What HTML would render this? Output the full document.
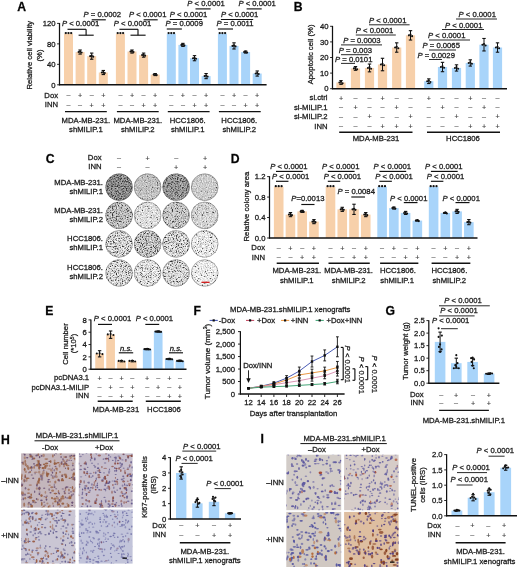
<!DOCTYPE html>
<html><head><meta charset="utf-8"><title>Figure</title>
<style>
html,body{margin:0;padding:0;background:#fff;}
svg{display:block;}
text{font-family:"Liberation Sans",Arial,Helvetica,sans-serif;stroke:#1a1a1a;stroke-width:0.28px;}
text.sg{stroke:#444;stroke-width:0.12px;fill:#3a3a3a;}
</style></head>
<body>
<svg width="520" height="567" viewBox="0 0 520 567" fill="#222">
<defs><filter id="soft" x="-5%" y="-5%" width="110%" height="110%"><feGaussianBlur stdDeviation="0.7"/></filter><filter id="grain0" x="0" y="0" width="100%" height="100%" color-interpolation-filters="sRGB"><feTurbulence type="fractalNoise" baseFrequency="0.35" numOctaves="2" seed="5" result="n"/><feColorMatrix in="n" type="matrix" values="0 0 0 0 0  0 0 0 0 0  0 0 0 0 0  -0.9 0 0 0 0.52"/><feComposite in2="SourceGraphic" operator="in"/></filter><filter id="grain1" x="0" y="0" width="100%" height="100%" color-interpolation-filters="sRGB"><feTurbulence type="fractalNoise" baseFrequency="0.35" numOctaves="2" seed="18" result="n"/><feColorMatrix in="n" type="matrix" values="0 0 0 0 0  0 0 0 0 0  0 0 0 0 0  -0.9 0 0 0 0.52"/><feComposite in2="SourceGraphic" operator="in"/></filter><filter id="grain2" x="0" y="0" width="100%" height="100%" color-interpolation-filters="sRGB"><feTurbulence type="fractalNoise" baseFrequency="0.35" numOctaves="2" seed="31" result="n"/><feColorMatrix in="n" type="matrix" values="0 0 0 0 0  0 0 0 0 0  0 0 0 0 0  -0.9 0 0 0 0.52"/><feComposite in2="SourceGraphic" operator="in"/></filter><filter id="pl0" x="0" y="0" width="100%" height="100%" color-interpolation-filters="sRGB"><feTurbulence type="fractalNoise" baseFrequency="0.8" numOctaves="2" seed="11" result="n"/><feComponentTransfer in="n" result="w"><feFuncR type="linear" slope="-5.0" intercept="2.600"/><feFuncB type="linear" slope="0" intercept="0"/><feFuncA type="linear" slope="0" intercept="1"/></feComponentTransfer><feColorMatrix in="w" type="matrix" values="-0.340 0.5 0 0 0.350  -0.340 0.5 0 0 0.350  -0.340 0.5 0 0 0.350  0 0 0 0 1" result="g"/><feGaussianBlur in="g" stdDeviation="0.42" result="gb"/><feComposite in="gb" in2="SourceGraphic" operator="in"/></filter><filter id="pl1" x="0" y="0" width="100%" height="100%" color-interpolation-filters="sRGB"><feTurbulence type="fractalNoise" baseFrequency="0.8" numOctaves="2" seed="14" result="n"/><feComponentTransfer in="n" result="w"><feFuncR type="linear" slope="-5.0" intercept="1.800"/><feFuncB type="linear" slope="0" intercept="0"/><feFuncA type="linear" slope="0" intercept="1"/></feComponentTransfer><feColorMatrix in="w" type="matrix" values="-0.500 0.5 0 0 0.510  -0.500 0.5 0 0 0.510  -0.500 0.5 0 0 0.510  0 0 0 0 1" result="g"/><feGaussianBlur in="g" stdDeviation="0.42" result="gb"/><feComposite in="gb" in2="SourceGraphic" operator="in"/></filter><filter id="pl2" x="0" y="0" width="100%" height="100%" color-interpolation-filters="sRGB"><feTurbulence type="fractalNoise" baseFrequency="0.8" numOctaves="2" seed="17" result="n"/><feComponentTransfer in="n" result="w"><feFuncR type="linear" slope="-5.0" intercept="2.500"/><feFuncB type="linear" slope="0" intercept="0"/><feFuncA type="linear" slope="0" intercept="1"/></feComponentTransfer><feColorMatrix in="w" type="matrix" values="-0.380 0.5 0 0 0.390  -0.380 0.5 0 0 0.390  -0.380 0.5 0 0 0.390  0 0 0 0 1" result="g"/><feGaussianBlur in="g" stdDeviation="0.42" result="gb"/><feComposite in="gb" in2="SourceGraphic" operator="in"/></filter><filter id="pl3" x="0" y="0" width="100%" height="100%" color-interpolation-filters="sRGB"><feTurbulence type="fractalNoise" baseFrequency="0.8" numOctaves="2" seed="20" result="n"/><feComponentTransfer in="n" result="w"><feFuncR type="linear" slope="-5.0" intercept="1.600"/><feFuncB type="linear" slope="0" intercept="0"/><feFuncA type="linear" slope="0" intercept="1"/></feComponentTransfer><feColorMatrix in="w" type="matrix" values="-0.540 0.5 0 0 0.550  -0.540 0.5 0 0 0.550  -0.540 0.5 0 0 0.550  0 0 0 0 1" result="g"/><feGaussianBlur in="g" stdDeviation="0.42" result="gb"/><feComposite in="gb" in2="SourceGraphic" operator="in"/></filter><filter id="pl4" x="0" y="0" width="100%" height="100%" color-interpolation-filters="sRGB"><feTurbulence type="fractalNoise" baseFrequency="0.8" numOctaves="2" seed="23" result="n"/><feComponentTransfer in="n" result="w"><feFuncR type="linear" slope="-5.0" intercept="2.350"/><feFuncB type="linear" slope="0" intercept="0"/><feFuncA type="linear" slope="0" intercept="1"/></feComponentTransfer><feColorMatrix in="w" type="matrix" values="-0.520 0.5 0 0 0.530  -0.520 0.5 0 0 0.530  -0.520 0.5 0 0 0.530  0 0 0 0 1" result="g"/><feGaussianBlur in="g" stdDeviation="0.42" result="gb"/><feComposite in="gb" in2="SourceGraphic" operator="in"/></filter><filter id="pl5" x="0" y="0" width="100%" height="100%" color-interpolation-filters="sRGB"><feTurbulence type="fractalNoise" baseFrequency="0.8" numOctaves="2" seed="26" result="n"/><feComponentTransfer in="n" result="w"><feFuncR type="linear" slope="-5.0" intercept="1.900"/><feFuncB type="linear" slope="0" intercept="0"/><feFuncA type="linear" slope="0" intercept="1"/></feComponentTransfer><feColorMatrix in="w" type="matrix" values="-0.620 0.5 0 0 0.630  -0.620 0.5 0 0 0.630  -0.620 0.5 0 0 0.630  0 0 0 0 1" result="g"/><feGaussianBlur in="g" stdDeviation="0.42" result="gb"/><feComposite in="gb" in2="SourceGraphic" operator="in"/></filter><filter id="pl6" x="0" y="0" width="100%" height="100%" color-interpolation-filters="sRGB"><feTurbulence type="fractalNoise" baseFrequency="0.8" numOctaves="2" seed="29" result="n"/><feComponentTransfer in="n" result="w"><feFuncR type="linear" slope="-5.0" intercept="2.250"/><feFuncB type="linear" slope="0" intercept="0"/><feFuncA type="linear" slope="0" intercept="1"/></feComponentTransfer><feColorMatrix in="w" type="matrix" values="-0.540 0.5 0 0 0.550  -0.540 0.5 0 0 0.550  -0.540 0.5 0 0 0.550  0 0 0 0 1" result="g"/><feGaussianBlur in="g" stdDeviation="0.42" result="gb"/><feComposite in="gb" in2="SourceGraphic" operator="in"/></filter><filter id="pl7" x="0" y="0" width="100%" height="100%" color-interpolation-filters="sRGB"><feTurbulence type="fractalNoise" baseFrequency="0.8" numOctaves="2" seed="32" result="n"/><feComponentTransfer in="n" result="w"><feFuncR type="linear" slope="-5.0" intercept="2.000"/><feFuncB type="linear" slope="0" intercept="0"/><feFuncA type="linear" slope="0" intercept="1"/></feComponentTransfer><feColorMatrix in="w" type="matrix" values="-0.580 0.5 0 0 0.590  -0.580 0.5 0 0 0.590  -0.580 0.5 0 0 0.590  0 0 0 0 1" result="g"/><feGaussianBlur in="g" stdDeviation="0.42" result="gb"/><feComposite in="gb" in2="SourceGraphic" operator="in"/></filter><filter id="pl8" x="0" y="0" width="100%" height="100%" color-interpolation-filters="sRGB"><feTurbulence type="fractalNoise" baseFrequency="0.8" numOctaves="2" seed="35" result="n"/><feComponentTransfer in="n" result="w"><feFuncR type="linear" slope="-5.0" intercept="2.450"/><feFuncB type="linear" slope="0" intercept="0"/><feFuncA type="linear" slope="0" intercept="1"/></feComponentTransfer><feColorMatrix in="w" type="matrix" values="-0.620 0.5 0 0 0.630  -0.620 0.5 0 0 0.630  -0.620 0.5 0 0 0.630  0 0 0 0 1" result="g"/><feGaussianBlur in="g" stdDeviation="0.42" result="gb"/><feComposite in="gb" in2="SourceGraphic" operator="in"/></filter><filter id="pl9" x="0" y="0" width="100%" height="100%" color-interpolation-filters="sRGB"><feTurbulence type="fractalNoise" baseFrequency="0.8" numOctaves="2" seed="38" result="n"/><feComponentTransfer in="n" result="w"><feFuncR type="linear" slope="-5.0" intercept="2.500"/><feFuncB type="linear" slope="0" intercept="0"/><feFuncA type="linear" slope="0" intercept="1"/></feComponentTransfer><feColorMatrix in="w" type="matrix" values="-0.560 0.5 0 0 0.570  -0.560 0.5 0 0 0.570  -0.560 0.5 0 0 0.570  0 0 0 0 1" result="g"/><feGaussianBlur in="g" stdDeviation="0.42" result="gb"/><feComposite in="gb" in2="SourceGraphic" operator="in"/></filter><filter id="pl10" x="0" y="0" width="100%" height="100%" color-interpolation-filters="sRGB"><feTurbulence type="fractalNoise" baseFrequency="0.8" numOctaves="2" seed="41" result="n"/><feComponentTransfer in="n" result="w"><feFuncR type="linear" slope="-5.0" intercept="2.350"/><feFuncB type="linear" slope="0" intercept="0"/><feFuncA type="linear" slope="0" intercept="1"/></feComponentTransfer><feColorMatrix in="w" type="matrix" values="-0.620 0.5 0 0 0.630  -0.620 0.5 0 0 0.630  -0.620 0.5 0 0 0.630  0 0 0 0 1" result="g"/><feGaussianBlur in="g" stdDeviation="0.42" result="gb"/><feComposite in="gb" in2="SourceGraphic" operator="in"/></filter><filter id="pl11" x="0" y="0" width="100%" height="100%" color-interpolation-filters="sRGB"><feTurbulence type="fractalNoise" baseFrequency="0.8" numOctaves="2" seed="44" result="n"/><feComponentTransfer in="n" result="w"><feFuncR type="linear" slope="-5.0" intercept="2.100"/><feFuncB type="linear" slope="0" intercept="0"/><feFuncA type="linear" slope="0" intercept="1"/></feComponentTransfer><feColorMatrix in="w" type="matrix" values="-0.660 0.5 0 0 0.670  -0.660 0.5 0 0 0.670  -0.660 0.5 0 0 0.670  0 0 0 0 1" result="g"/><feGaussianBlur in="g" stdDeviation="0.42" result="gb"/><feComposite in="gb" in2="SourceGraphic" operator="in"/></filter><filter id="pl12" x="0" y="0" width="100%" height="100%" color-interpolation-filters="sRGB"><feTurbulence type="fractalNoise" baseFrequency="0.8" numOctaves="2" seed="47" result="n"/><feComponentTransfer in="n" result="w"><feFuncR type="linear" slope="-5.0" intercept="2.350"/><feFuncB type="linear" slope="0" intercept="0"/><feFuncA type="linear" slope="0" intercept="1"/></feComponentTransfer><feColorMatrix in="w" type="matrix" values="-0.620 0.5 0 0 0.630  -0.620 0.5 0 0 0.630  -0.620 0.5 0 0 0.630  0 0 0 0 1" result="g"/><feGaussianBlur in="g" stdDeviation="0.42" result="gb"/><feComposite in="gb" in2="SourceGraphic" operator="in"/></filter><filter id="pl13" x="0" y="0" width="100%" height="100%" color-interpolation-filters="sRGB"><feTurbulence type="fractalNoise" baseFrequency="0.8" numOctaves="2" seed="50" result="n"/><feComponentTransfer in="n" result="w"><feFuncR type="linear" slope="-5.0" intercept="2.200"/><feFuncB type="linear" slope="0" intercept="0"/><feFuncA type="linear" slope="0" intercept="1"/></feComponentTransfer><feColorMatrix in="w" type="matrix" values="-0.640 0.5 0 0 0.650  -0.640 0.5 0 0 0.650  -0.640 0.5 0 0 0.650  0 0 0 0 1" result="g"/><feGaussianBlur in="g" stdDeviation="0.42" result="gb"/><feComposite in="gb" in2="SourceGraphic" operator="in"/></filter><filter id="pl14" x="0" y="0" width="100%" height="100%" color-interpolation-filters="sRGB"><feTurbulence type="fractalNoise" baseFrequency="0.8" numOctaves="2" seed="53" result="n"/><feComponentTransfer in="n" result="w"><feFuncR type="linear" slope="-5.0" intercept="2.300"/><feFuncB type="linear" slope="0" intercept="0"/><feFuncA type="linear" slope="0" intercept="1"/></feComponentTransfer><feColorMatrix in="w" type="matrix" values="-0.610 0.5 0 0 0.620  -0.610 0.5 0 0 0.620  -0.610 0.5 0 0 0.620  0 0 0 0 1" result="g"/><feGaussianBlur in="g" stdDeviation="0.42" result="gb"/><feComposite in="gb" in2="SourceGraphic" operator="in"/></filter><filter id="pl15" x="0" y="0" width="100%" height="100%" color-interpolation-filters="sRGB"><feTurbulence type="fractalNoise" baseFrequency="0.8" numOctaves="2" seed="56" result="n"/><feComponentTransfer in="n" result="w"><feFuncR type="linear" slope="-5.0" intercept="2.000"/><feFuncB type="linear" slope="0" intercept="0"/><feFuncA type="linear" slope="0" intercept="1"/></feComponentTransfer><feColorMatrix in="w" type="matrix" values="-0.670 0.5 0 0 0.680  -0.670 0.5 0 0 0.680  -0.670 0.5 0 0 0.680  0 0 0 0 1" result="g"/><feGaussianBlur in="g" stdDeviation="0.42" result="gb"/><feComposite in="gb" in2="SourceGraphic" operator="in"/></filter></defs>
<rect width="520" height="567" fill="#fff"/>
<text x="17.20" y="11.00" font-size="12.2" font-weight="bold" fill="#000">A</text>
<text x="32.00" y="55.20" font-size="7.7" text-anchor="middle" transform="rotate(-90 32.00 55.20)">Relative cell viability</text>
<text x="41.60" y="55.50" font-size="7.7" text-anchor="middle" transform="rotate(-90 41.60 55.50)">(%)</text>
<rect x="64.00" y="33.63" width="9.00" height="51.17" fill="#F7D0AA"/>
<circle cx="65.80" cy="33.03" r="1.15" fill="#111"/>
<circle cx="68.50" cy="33.03" r="1.15" fill="#111"/>
<circle cx="71.20" cy="33.03" r="1.15" fill="#111"/>
<rect x="75.60" y="52.05" width="9.00" height="32.75" fill="#F7D0AA"/>
<line x1="80.10" y1="50.01" x2="80.10" y2="54.10" stroke="#111" stroke-width="1.0"/>
<line x1="78.40" y1="50.01" x2="81.80" y2="50.01" stroke="#111" stroke-width="1.1"/>
<line x1="78.40" y1="54.10" x2="81.80" y2="54.10" stroke="#111" stroke-width="1.1"/>
<circle cx="78.60" cy="52.05" r="1.05" fill="#111"/>
<circle cx="81.60" cy="52.56" r="1.05" fill="#111"/>
<circle cx="80.10" cy="51.54" r="1.05" fill="#111"/>
<rect x="87.20" y="56.15" width="9.00" height="28.65" fill="#F7D0AA"/>
<line x1="91.70" y1="53.08" x2="91.70" y2="59.22" stroke="#111" stroke-width="1.0"/>
<line x1="90.00" y1="53.08" x2="93.40" y2="53.08" stroke="#111" stroke-width="1.1"/>
<line x1="90.00" y1="59.22" x2="93.40" y2="59.22" stroke="#111" stroke-width="1.1"/>
<circle cx="90.20" cy="56.15" r="1.05" fill="#111"/>
<circle cx="93.20" cy="56.66" r="1.05" fill="#111"/>
<circle cx="91.70" cy="55.63" r="1.05" fill="#111"/>
<rect x="98.80" y="72.52" width="9.00" height="12.28" fill="#F7D0AA"/>
<line x1="103.30" y1="70.47" x2="103.30" y2="74.57" stroke="#111" stroke-width="1.0"/>
<line x1="101.60" y1="70.47" x2="105.00" y2="70.47" stroke="#111" stroke-width="1.1"/>
<line x1="101.60" y1="74.57" x2="105.00" y2="74.57" stroke="#111" stroke-width="1.1"/>
<circle cx="101.80" cy="72.52" r="1.05" fill="#111"/>
<circle cx="104.80" cy="73.03" r="1.05" fill="#111"/>
<circle cx="103.30" cy="72.01" r="1.05" fill="#111"/>
<text x="68.50" y="97.21" font-size="7.2" text-anchor="middle" class="sg">–</text>
<text x="80.10" y="98.07" font-size="7.2" text-anchor="middle" class="sg">+</text>
<text x="91.70" y="97.21" font-size="7.2" text-anchor="middle" class="sg">–</text>
<text x="103.30" y="98.07" font-size="7.2" text-anchor="middle" class="sg">+</text>
<text x="68.50" y="106.81" font-size="7.2" text-anchor="middle" class="sg">–</text>
<text x="80.10" y="106.81" font-size="7.2" text-anchor="middle" class="sg">–</text>
<text x="91.70" y="107.67" font-size="7.2" text-anchor="middle" class="sg">+</text>
<text x="103.30" y="107.67" font-size="7.2" text-anchor="middle" class="sg">+</text>
<line x1="65.00" y1="111.60" x2="106.80" y2="111.60" stroke="#111" stroke-width="1.2"/>
<rect x="115.90" y="33.63" width="9.00" height="51.17" fill="#F7D0AA"/>
<circle cx="117.70" cy="33.03" r="1.15" fill="#111"/>
<circle cx="120.40" cy="33.03" r="1.15" fill="#111"/>
<circle cx="123.10" cy="33.03" r="1.15" fill="#111"/>
<rect x="127.50" y="51.54" width="9.00" height="33.26" fill="#F7D0AA"/>
<line x1="132.00" y1="50.01" x2="132.00" y2="53.08" stroke="#111" stroke-width="1.0"/>
<line x1="130.30" y1="50.01" x2="133.70" y2="50.01" stroke="#111" stroke-width="1.1"/>
<line x1="130.30" y1="53.08" x2="133.70" y2="53.08" stroke="#111" stroke-width="1.1"/>
<circle cx="130.50" cy="51.54" r="1.05" fill="#111"/>
<circle cx="133.50" cy="52.05" r="1.05" fill="#111"/>
<circle cx="132.00" cy="51.03" r="1.05" fill="#111"/>
<rect x="139.10" y="55.12" width="9.00" height="29.68" fill="#F7D0AA"/>
<line x1="143.60" y1="53.08" x2="143.60" y2="57.17" stroke="#111" stroke-width="1.0"/>
<line x1="141.90" y1="53.08" x2="145.30" y2="53.08" stroke="#111" stroke-width="1.1"/>
<line x1="141.90" y1="57.17" x2="145.30" y2="57.17" stroke="#111" stroke-width="1.1"/>
<circle cx="142.10" cy="55.12" r="1.05" fill="#111"/>
<circle cx="145.10" cy="55.63" r="1.05" fill="#111"/>
<circle cx="143.60" cy="54.61" r="1.05" fill="#111"/>
<rect x="150.70" y="74.57" width="9.00" height="10.23" fill="#F7D0AA"/>
<line x1="155.20" y1="73.54" x2="155.20" y2="75.59" stroke="#111" stroke-width="1.0"/>
<line x1="153.50" y1="73.54" x2="156.90" y2="73.54" stroke="#111" stroke-width="1.1"/>
<line x1="153.50" y1="75.59" x2="156.90" y2="75.59" stroke="#111" stroke-width="1.1"/>
<circle cx="153.70" cy="74.57" r="1.05" fill="#111"/>
<circle cx="156.70" cy="75.08" r="1.05" fill="#111"/>
<circle cx="155.20" cy="74.05" r="1.05" fill="#111"/>
<text x="120.40" y="97.21" font-size="7.2" text-anchor="middle" class="sg">–</text>
<text x="132.00" y="98.07" font-size="7.2" text-anchor="middle" class="sg">+</text>
<text x="143.60" y="97.21" font-size="7.2" text-anchor="middle" class="sg">–</text>
<text x="155.20" y="98.07" font-size="7.2" text-anchor="middle" class="sg">+</text>
<text x="120.40" y="106.81" font-size="7.2" text-anchor="middle" class="sg">–</text>
<text x="132.00" y="106.81" font-size="7.2" text-anchor="middle" class="sg">–</text>
<text x="143.60" y="107.67" font-size="7.2" text-anchor="middle" class="sg">+</text>
<text x="155.20" y="107.67" font-size="7.2" text-anchor="middle" class="sg">+</text>
<line x1="116.90" y1="111.60" x2="158.70" y2="111.60" stroke="#111" stroke-width="1.2"/>
<rect x="166.80" y="33.63" width="9.00" height="51.17" fill="#A8D4FA"/>
<circle cx="168.60" cy="33.03" r="1.15" fill="#111"/>
<circle cx="171.30" cy="33.03" r="1.15" fill="#111"/>
<circle cx="174.00" cy="33.03" r="1.15" fill="#111"/>
<rect x="178.40" y="44.89" width="9.00" height="39.91" fill="#A8D4FA"/>
<line x1="182.90" y1="43.35" x2="182.90" y2="46.42" stroke="#111" stroke-width="1.0"/>
<line x1="181.20" y1="43.35" x2="184.60" y2="43.35" stroke="#111" stroke-width="1.1"/>
<line x1="181.20" y1="46.42" x2="184.60" y2="46.42" stroke="#111" stroke-width="1.1"/>
<circle cx="181.40" cy="44.89" r="1.05" fill="#111"/>
<circle cx="184.40" cy="45.40" r="1.05" fill="#111"/>
<circle cx="182.90" cy="44.38" r="1.05" fill="#111"/>
<rect x="190.00" y="58.19" width="9.00" height="26.61" fill="#A8D4FA"/>
<line x1="194.50" y1="55.63" x2="194.50" y2="60.75" stroke="#111" stroke-width="1.0"/>
<line x1="192.80" y1="55.63" x2="196.20" y2="55.63" stroke="#111" stroke-width="1.1"/>
<line x1="192.80" y1="60.75" x2="196.20" y2="60.75" stroke="#111" stroke-width="1.1"/>
<circle cx="193.00" cy="58.19" r="1.05" fill="#111"/>
<circle cx="196.00" cy="58.70" r="1.05" fill="#111"/>
<circle cx="194.50" cy="57.68" r="1.05" fill="#111"/>
<rect x="201.60" y="76.10" width="9.00" height="8.70" fill="#A8D4FA"/>
<line x1="206.10" y1="73.54" x2="206.10" y2="78.66" stroke="#111" stroke-width="1.0"/>
<line x1="204.40" y1="73.54" x2="207.80" y2="73.54" stroke="#111" stroke-width="1.1"/>
<line x1="204.40" y1="78.66" x2="207.80" y2="78.66" stroke="#111" stroke-width="1.1"/>
<circle cx="204.60" cy="76.10" r="1.05" fill="#111"/>
<circle cx="207.60" cy="76.61" r="1.05" fill="#111"/>
<circle cx="206.10" cy="75.59" r="1.05" fill="#111"/>
<text x="171.30" y="97.21" font-size="7.2" text-anchor="middle" class="sg">–</text>
<text x="182.90" y="98.07" font-size="7.2" text-anchor="middle" class="sg">+</text>
<text x="194.50" y="97.21" font-size="7.2" text-anchor="middle" class="sg">–</text>
<text x="206.10" y="98.07" font-size="7.2" text-anchor="middle" class="sg">+</text>
<text x="171.30" y="106.81" font-size="7.2" text-anchor="middle" class="sg">–</text>
<text x="182.90" y="106.81" font-size="7.2" text-anchor="middle" class="sg">–</text>
<text x="194.50" y="107.67" font-size="7.2" text-anchor="middle" class="sg">+</text>
<text x="206.10" y="107.67" font-size="7.2" text-anchor="middle" class="sg">+</text>
<line x1="167.80" y1="111.60" x2="209.60" y2="111.60" stroke="#111" stroke-width="1.2"/>
<rect x="217.90" y="33.63" width="9.00" height="51.17" fill="#A8D4FA"/>
<circle cx="219.70" cy="33.03" r="1.15" fill="#111"/>
<circle cx="222.40" cy="33.03" r="1.15" fill="#111"/>
<circle cx="225.10" cy="33.03" r="1.15" fill="#111"/>
<rect x="229.50" y="45.91" width="9.00" height="38.89" fill="#A8D4FA"/>
<line x1="234.00" y1="42.84" x2="234.00" y2="48.98" stroke="#111" stroke-width="1.0"/>
<line x1="232.30" y1="42.84" x2="235.70" y2="42.84" stroke="#111" stroke-width="1.1"/>
<line x1="232.30" y1="48.98" x2="235.70" y2="48.98" stroke="#111" stroke-width="1.1"/>
<circle cx="232.50" cy="45.91" r="1.05" fill="#111"/>
<circle cx="235.50" cy="46.42" r="1.05" fill="#111"/>
<circle cx="234.00" cy="45.40" r="1.05" fill="#111"/>
<rect x="241.10" y="52.05" width="9.00" height="32.75" fill="#A8D4FA"/>
<line x1="245.60" y1="51.03" x2="245.60" y2="53.08" stroke="#111" stroke-width="1.0"/>
<line x1="243.90" y1="51.03" x2="247.30" y2="51.03" stroke="#111" stroke-width="1.1"/>
<line x1="243.90" y1="53.08" x2="247.30" y2="53.08" stroke="#111" stroke-width="1.1"/>
<circle cx="244.10" cy="52.05" r="1.05" fill="#111"/>
<circle cx="247.10" cy="52.56" r="1.05" fill="#111"/>
<circle cx="245.60" cy="51.54" r="1.05" fill="#111"/>
<rect x="252.70" y="73.54" width="9.00" height="11.26" fill="#A8D4FA"/>
<line x1="257.20" y1="70.98" x2="257.20" y2="76.10" stroke="#111" stroke-width="1.0"/>
<line x1="255.50" y1="70.98" x2="258.90" y2="70.98" stroke="#111" stroke-width="1.1"/>
<line x1="255.50" y1="76.10" x2="258.90" y2="76.10" stroke="#111" stroke-width="1.1"/>
<circle cx="255.70" cy="73.54" r="1.05" fill="#111"/>
<circle cx="258.70" cy="74.05" r="1.05" fill="#111"/>
<circle cx="257.20" cy="73.03" r="1.05" fill="#111"/>
<text x="222.40" y="97.21" font-size="7.2" text-anchor="middle" class="sg">–</text>
<text x="234.00" y="98.07" font-size="7.2" text-anchor="middle" class="sg">+</text>
<text x="245.60" y="97.21" font-size="7.2" text-anchor="middle" class="sg">–</text>
<text x="257.20" y="98.07" font-size="7.2" text-anchor="middle" class="sg">+</text>
<text x="222.40" y="106.81" font-size="7.2" text-anchor="middle" class="sg">–</text>
<text x="234.00" y="106.81" font-size="7.2" text-anchor="middle" class="sg">–</text>
<text x="245.60" y="107.67" font-size="7.2" text-anchor="middle" class="sg">+</text>
<text x="257.20" y="107.67" font-size="7.2" text-anchor="middle" class="sg">+</text>
<line x1="218.90" y1="111.60" x2="260.70" y2="111.60" stroke="#111" stroke-width="1.2"/>
<line x1="59.50" y1="23.00" x2="59.50" y2="85.30" stroke="#111" stroke-width="1.25"/>
<line x1="58.90" y1="84.80" x2="266.60" y2="84.80" stroke="#111" stroke-width="1.5"/>
<line x1="57.10" y1="84.80" x2="59.50" y2="84.80" stroke="#111" stroke-width="0.9"/>
<text x="55.50" y="87.57" font-size="7.7" text-anchor="end">0</text>
<line x1="57.10" y1="64.33" x2="59.50" y2="64.33" stroke="#111" stroke-width="0.9"/>
<text x="55.50" y="67.11" font-size="7.7" text-anchor="end">40</text>
<line x1="57.10" y1="43.87" x2="59.50" y2="43.87" stroke="#111" stroke-width="0.9"/>
<text x="55.50" y="46.64" font-size="7.7" text-anchor="end">80</text>
<line x1="57.10" y1="23.40" x2="59.50" y2="23.40" stroke="#111" stroke-width="0.9"/>
<text x="55.50" y="26.17" font-size="7.7" text-anchor="end">120</text>
<text x="58.00" y="97.60" font-size="7.7" text-anchor="end">Dox</text>
<text x="58.00" y="107.20" font-size="7.7" text-anchor="end">INN</text>
<text x="85.90" y="123.00" font-size="7.7" text-anchor="middle">MDA-MB-231.</text>
<text x="85.90" y="132.40" font-size="7.7" text-anchor="middle">shMILIP.1</text>
<text x="137.80" y="123.00" font-size="7.7" text-anchor="middle">MDA-MB-231.</text>
<text x="137.80" y="132.40" font-size="7.7" text-anchor="middle">shMILIP.2</text>
<text x="187.70" y="123.00" font-size="7.7" text-anchor="middle">HCC1806.</text>
<text x="187.70" y="132.40" font-size="7.7" text-anchor="middle">shMILIP.1</text>
<text x="239.30" y="123.00" font-size="7.7" text-anchor="middle">HCC1806.</text>
<text x="239.30" y="132.40" font-size="7.7" text-anchor="middle">shMILIP.2</text>
<line x1="67.50" y1="29.30" x2="86.10" y2="29.30" stroke="#111" stroke-width="1.15"/>
<line x1="86.10" y1="29.30" x2="86.10" y2="35.20" stroke="#111" stroke-width="1.15"/>
<line x1="78.60" y1="35.20" x2="93.70" y2="35.20" stroke="#111" stroke-width="1.15"/>
<text x="61.90" y="26.40" font-size="7.7"><tspan font-style="italic">P</tspan> &lt; 0.0001</text>
<line x1="91.70" y1="19.80" x2="105.80" y2="19.80" stroke="#111" stroke-width="1.15"/>
<line x1="119.40" y1="29.30" x2="138.00" y2="29.30" stroke="#111" stroke-width="1.15"/>
<line x1="138.00" y1="29.30" x2="138.00" y2="35.20" stroke="#111" stroke-width="1.15"/>
<line x1="130.50" y1="35.20" x2="145.60" y2="35.20" stroke="#111" stroke-width="1.15"/>
<text x="113.80" y="26.40" font-size="7.7"><tspan font-style="italic">P</tspan> &lt; 0.0001</text>
<line x1="143.60" y1="19.80" x2="157.70" y2="19.80" stroke="#111" stroke-width="1.15"/>
<text x="83.60" y="16.80" font-size="7.7"><tspan font-style="italic">P</tspan> = 0.0002</text>
<text x="129.00" y="16.80" font-size="7.7"><tspan font-style="italic">P</tspan> &lt; 0.0001</text>
<text x="165.50" y="26.40" font-size="7.7"><tspan font-style="italic">P</tspan> = 0.0009</text>
<line x1="166.80" y1="29.00" x2="181.90" y2="29.00" stroke="#111" stroke-width="1.15"/>
<text x="169.80" y="16.50" font-size="7.7"><tspan font-style="italic">P</tspan> &lt; 0.0001</text>
<line x1="169.80" y1="19.50" x2="202.10" y2="19.50" stroke="#111" stroke-width="1.15"/>
<text x="187.30" y="6.30" font-size="7.7"><tspan font-style="italic">P</tspan> &lt; 0.0001</text>
<line x1="195.50" y1="8.90" x2="210.60" y2="8.90" stroke="#111" stroke-width="1.15"/>
<text x="216.60" y="26.40" font-size="7.7"><tspan font-style="italic">P</tspan> = 0.0011</text>
<line x1="217.90" y1="29.00" x2="233.00" y2="29.00" stroke="#111" stroke-width="1.15"/>
<text x="220.90" y="16.50" font-size="7.7"><tspan font-style="italic">P</tspan> &lt; 0.0001</text>
<line x1="220.90" y1="19.50" x2="253.20" y2="19.50" stroke="#111" stroke-width="1.15"/>
<text x="238.40" y="6.30" font-size="7.7"><tspan font-style="italic">P</tspan> &lt; 0.0001</text>
<line x1="246.60" y1="8.90" x2="261.70" y2="8.90" stroke="#111" stroke-width="1.15"/>
<text x="293.70" y="11.20" font-size="12.2" font-weight="bold" fill="#000">B</text>
<text x="313.20" y="54.40" font-size="7.7" text-anchor="middle" transform="rotate(-90 313.20 54.40)">Apoptotic cell (%)</text>
<rect x="336.40" y="82.46" width="9.20" height="6.24" fill="#F7D0AA"/>
<line x1="341.00" y1="80.59" x2="341.00" y2="84.33" stroke="#111" stroke-width="1.0"/>
<line x1="339.30" y1="80.59" x2="342.70" y2="80.59" stroke="#111" stroke-width="1.1"/>
<line x1="339.30" y1="84.33" x2="342.70" y2="84.33" stroke="#111" stroke-width="1.1"/>
<circle cx="339.40" cy="82.46" r="1.05" fill="#111"/>
<circle cx="342.60" cy="83.24" r="1.05" fill="#111"/>
<circle cx="341.00" cy="81.68" r="1.05" fill="#111"/>
<rect x="424.20" y="81.21" width="9.20" height="7.49" fill="#A8D4FA"/>
<line x1="428.80" y1="78.87" x2="428.80" y2="83.55" stroke="#111" stroke-width="1.0"/>
<line x1="427.10" y1="78.87" x2="430.50" y2="78.87" stroke="#111" stroke-width="1.1"/>
<line x1="427.10" y1="83.55" x2="430.50" y2="83.55" stroke="#111" stroke-width="1.1"/>
<circle cx="427.20" cy="81.21" r="1.05" fill="#111"/>
<circle cx="430.40" cy="81.99" r="1.05" fill="#111"/>
<circle cx="428.80" cy="80.43" r="1.05" fill="#111"/>
<rect x="350.90" y="68.42" width="9.20" height="20.28" fill="#F7D0AA"/>
<line x1="355.50" y1="66.55" x2="355.50" y2="70.29" stroke="#111" stroke-width="1.0"/>
<line x1="353.80" y1="66.55" x2="357.20" y2="66.55" stroke="#111" stroke-width="1.1"/>
<line x1="353.80" y1="70.29" x2="357.20" y2="70.29" stroke="#111" stroke-width="1.1"/>
<circle cx="353.90" cy="68.42" r="1.05" fill="#111"/>
<circle cx="357.10" cy="69.20" r="1.05" fill="#111"/>
<circle cx="355.50" cy="67.64" r="1.05" fill="#111"/>
<rect x="437.90" y="67.02" width="9.20" height="21.68" fill="#A8D4FA"/>
<line x1="442.50" y1="62.34" x2="442.50" y2="71.70" stroke="#111" stroke-width="1.0"/>
<line x1="440.80" y1="62.34" x2="444.20" y2="62.34" stroke="#111" stroke-width="1.1"/>
<line x1="440.80" y1="71.70" x2="444.20" y2="71.70" stroke="#111" stroke-width="1.1"/>
<circle cx="440.90" cy="67.02" r="1.05" fill="#111"/>
<circle cx="444.10" cy="67.80" r="1.05" fill="#111"/>
<circle cx="442.50" cy="66.24" r="1.05" fill="#111"/>
<rect x="364.90" y="67.95" width="9.20" height="20.75" fill="#F7D0AA"/>
<line x1="369.50" y1="64.05" x2="369.50" y2="71.85" stroke="#111" stroke-width="1.0"/>
<line x1="367.80" y1="64.05" x2="371.20" y2="64.05" stroke="#111" stroke-width="1.1"/>
<line x1="367.80" y1="71.85" x2="371.20" y2="71.85" stroke="#111" stroke-width="1.1"/>
<circle cx="367.90" cy="67.95" r="1.05" fill="#111"/>
<circle cx="371.10" cy="68.73" r="1.05" fill="#111"/>
<circle cx="369.50" cy="67.17" r="1.05" fill="#111"/>
<rect x="451.90" y="67.95" width="9.20" height="20.75" fill="#A8D4FA"/>
<line x1="456.50" y1="64.83" x2="456.50" y2="71.07" stroke="#111" stroke-width="1.0"/>
<line x1="454.80" y1="64.83" x2="458.20" y2="64.83" stroke="#111" stroke-width="1.1"/>
<line x1="454.80" y1="71.07" x2="458.20" y2="71.07" stroke="#111" stroke-width="1.1"/>
<circle cx="454.90" cy="67.95" r="1.05" fill="#111"/>
<circle cx="458.10" cy="68.73" r="1.05" fill="#111"/>
<circle cx="456.50" cy="67.17" r="1.05" fill="#111"/>
<rect x="377.90" y="64.52" width="9.20" height="24.18" fill="#F7D0AA"/>
<line x1="382.50" y1="58.28" x2="382.50" y2="70.76" stroke="#111" stroke-width="1.0"/>
<line x1="380.80" y1="58.28" x2="384.20" y2="58.28" stroke="#111" stroke-width="1.1"/>
<line x1="380.80" y1="70.76" x2="384.20" y2="70.76" stroke="#111" stroke-width="1.1"/>
<circle cx="380.90" cy="64.52" r="1.05" fill="#111"/>
<circle cx="384.10" cy="65.30" r="1.05" fill="#111"/>
<circle cx="382.50" cy="63.74" r="1.05" fill="#111"/>
<rect x="465.70" y="62.96" width="9.20" height="25.74" fill="#A8D4FA"/>
<line x1="470.30" y1="59.84" x2="470.30" y2="66.08" stroke="#111" stroke-width="1.0"/>
<line x1="468.60" y1="59.84" x2="472.00" y2="59.84" stroke="#111" stroke-width="1.1"/>
<line x1="468.60" y1="66.08" x2="472.00" y2="66.08" stroke="#111" stroke-width="1.1"/>
<circle cx="468.70" cy="62.96" r="1.05" fill="#111"/>
<circle cx="471.90" cy="63.74" r="1.05" fill="#111"/>
<circle cx="470.30" cy="62.18" r="1.05" fill="#111"/>
<rect x="392.10" y="47.52" width="9.20" height="41.18" fill="#F7D0AA"/>
<line x1="396.70" y1="42.84" x2="396.70" y2="52.20" stroke="#111" stroke-width="1.0"/>
<line x1="395.00" y1="42.84" x2="398.40" y2="42.84" stroke="#111" stroke-width="1.1"/>
<line x1="395.00" y1="52.20" x2="398.40" y2="52.20" stroke="#111" stroke-width="1.1"/>
<circle cx="395.10" cy="47.52" r="1.05" fill="#111"/>
<circle cx="398.30" cy="48.30" r="1.05" fill="#111"/>
<circle cx="396.70" cy="46.74" r="1.05" fill="#111"/>
<rect x="479.40" y="44.71" width="9.20" height="43.99" fill="#A8D4FA"/>
<line x1="484.00" y1="38.47" x2="484.00" y2="50.95" stroke="#111" stroke-width="1.0"/>
<line x1="482.30" y1="38.47" x2="485.70" y2="38.47" stroke="#111" stroke-width="1.1"/>
<line x1="482.30" y1="50.95" x2="485.70" y2="50.95" stroke="#111" stroke-width="1.1"/>
<circle cx="482.40" cy="44.71" r="1.05" fill="#111"/>
<circle cx="485.60" cy="45.49" r="1.05" fill="#111"/>
<circle cx="484.00" cy="43.93" r="1.05" fill="#111"/>
<rect x="405.90" y="35.35" width="9.20" height="53.35" fill="#F7D0AA"/>
<line x1="410.50" y1="30.67" x2="410.50" y2="40.03" stroke="#111" stroke-width="1.0"/>
<line x1="408.80" y1="30.67" x2="412.20" y2="30.67" stroke="#111" stroke-width="1.1"/>
<line x1="408.80" y1="40.03" x2="412.20" y2="40.03" stroke="#111" stroke-width="1.1"/>
<circle cx="408.90" cy="35.35" r="1.05" fill="#111"/>
<circle cx="412.10" cy="36.13" r="1.05" fill="#111"/>
<circle cx="410.50" cy="34.57" r="1.05" fill="#111"/>
<rect x="492.90" y="47.52" width="9.20" height="41.18" fill="#A8D4FA"/>
<line x1="497.50" y1="42.84" x2="497.50" y2="52.20" stroke="#111" stroke-width="1.0"/>
<line x1="495.80" y1="42.84" x2="499.20" y2="42.84" stroke="#111" stroke-width="1.1"/>
<line x1="495.80" y1="52.20" x2="499.20" y2="52.20" stroke="#111" stroke-width="1.1"/>
<circle cx="495.90" cy="47.52" r="1.05" fill="#111"/>
<circle cx="499.10" cy="48.30" r="1.05" fill="#111"/>
<circle cx="497.50" cy="46.74" r="1.05" fill="#111"/>
<line x1="332.50" y1="25.90" x2="332.50" y2="89.20" stroke="#111" stroke-width="1.25"/>
<line x1="331.90" y1="88.70" x2="507.00" y2="88.70" stroke="#111" stroke-width="1.5"/>
<line x1="330.10" y1="88.70" x2="332.50" y2="88.70" stroke="#111" stroke-width="0.9"/>
<text x="328.50" y="91.47" font-size="7.7" text-anchor="end">0</text>
<line x1="330.10" y1="73.10" x2="332.50" y2="73.10" stroke="#111" stroke-width="0.9"/>
<text x="328.50" y="75.87" font-size="7.7" text-anchor="end">10</text>
<line x1="330.10" y1="57.50" x2="332.50" y2="57.50" stroke="#111" stroke-width="0.9"/>
<text x="328.50" y="60.27" font-size="7.7" text-anchor="end">20</text>
<line x1="330.10" y1="41.90" x2="332.50" y2="41.90" stroke="#111" stroke-width="0.9"/>
<text x="328.50" y="44.67" font-size="7.7" text-anchor="end">30</text>
<line x1="330.10" y1="26.30" x2="332.50" y2="26.30" stroke="#111" stroke-width="0.9"/>
<text x="328.50" y="29.07" font-size="7.7" text-anchor="end">40</text>
<text x="327.50" y="100.30" font-size="7.7" text-anchor="end">si.ctrl</text>
<text x="341.00" y="100.72" font-size="7.2" text-anchor="middle" class="sg">+</text>
<text x="355.50" y="99.86" font-size="7.2" text-anchor="middle" class="sg">–</text>
<text x="369.50" y="99.86" font-size="7.2" text-anchor="middle" class="sg">–</text>
<text x="382.50" y="100.72" font-size="7.2" text-anchor="middle" class="sg">+</text>
<text x="396.70" y="99.86" font-size="7.2" text-anchor="middle" class="sg">–</text>
<text x="410.50" y="99.86" font-size="7.2" text-anchor="middle" class="sg">–</text>
<text x="428.80" y="100.72" font-size="7.2" text-anchor="middle" class="sg">+</text>
<text x="442.50" y="99.86" font-size="7.2" text-anchor="middle" class="sg">–</text>
<text x="456.50" y="99.86" font-size="7.2" text-anchor="middle" class="sg">–</text>
<text x="470.30" y="100.72" font-size="7.2" text-anchor="middle" class="sg">+</text>
<text x="484.00" y="99.86" font-size="7.2" text-anchor="middle" class="sg">–</text>
<text x="497.50" y="99.86" font-size="7.2" text-anchor="middle" class="sg">–</text>
<text x="327.50" y="109.80" font-size="7.7" text-anchor="end">si-MILIP.1</text>
<text x="341.00" y="109.36" font-size="7.2" text-anchor="middle" class="sg">–</text>
<text x="355.50" y="110.22" font-size="7.2" text-anchor="middle" class="sg">+</text>
<text x="369.50" y="109.36" font-size="7.2" text-anchor="middle" class="sg">–</text>
<text x="382.50" y="109.36" font-size="7.2" text-anchor="middle" class="sg">–</text>
<text x="396.70" y="110.22" font-size="7.2" text-anchor="middle" class="sg">+</text>
<text x="410.50" y="109.36" font-size="7.2" text-anchor="middle" class="sg">–</text>
<text x="428.80" y="109.36" font-size="7.2" text-anchor="middle" class="sg">–</text>
<text x="442.50" y="110.22" font-size="7.2" text-anchor="middle" class="sg">+</text>
<text x="456.50" y="109.36" font-size="7.2" text-anchor="middle" class="sg">–</text>
<text x="470.30" y="109.36" font-size="7.2" text-anchor="middle" class="sg">–</text>
<text x="484.00" y="110.22" font-size="7.2" text-anchor="middle" class="sg">+</text>
<text x="497.50" y="109.36" font-size="7.2" text-anchor="middle" class="sg">–</text>
<text x="327.50" y="119.00" font-size="7.7" text-anchor="end">si-MILIP.2</text>
<text x="341.00" y="118.56" font-size="7.2" text-anchor="middle" class="sg">–</text>
<text x="355.50" y="118.56" font-size="7.2" text-anchor="middle" class="sg">–</text>
<text x="369.50" y="119.42" font-size="7.2" text-anchor="middle" class="sg">+</text>
<text x="382.50" y="118.56" font-size="7.2" text-anchor="middle" class="sg">–</text>
<text x="396.70" y="118.56" font-size="7.2" text-anchor="middle" class="sg">–</text>
<text x="410.50" y="119.42" font-size="7.2" text-anchor="middle" class="sg">+</text>
<text x="428.80" y="118.56" font-size="7.2" text-anchor="middle" class="sg">–</text>
<text x="442.50" y="118.56" font-size="7.2" text-anchor="middle" class="sg">–</text>
<text x="456.50" y="119.42" font-size="7.2" text-anchor="middle" class="sg">+</text>
<text x="470.30" y="118.56" font-size="7.2" text-anchor="middle" class="sg">–</text>
<text x="484.00" y="118.56" font-size="7.2" text-anchor="middle" class="sg">–</text>
<text x="497.50" y="119.42" font-size="7.2" text-anchor="middle" class="sg">+</text>
<text x="327.50" y="128.60" font-size="7.7" text-anchor="end">INN</text>
<text x="341.00" y="128.16" font-size="7.2" text-anchor="middle" class="sg">–</text>
<text x="355.50" y="128.16" font-size="7.2" text-anchor="middle" class="sg">–</text>
<text x="369.50" y="128.16" font-size="7.2" text-anchor="middle" class="sg">–</text>
<text x="382.50" y="129.02" font-size="7.2" text-anchor="middle" class="sg">+</text>
<text x="396.70" y="129.02" font-size="7.2" text-anchor="middle" class="sg">+</text>
<text x="410.50" y="129.02" font-size="7.2" text-anchor="middle" class="sg">+</text>
<text x="428.80" y="128.16" font-size="7.2" text-anchor="middle" class="sg">–</text>
<text x="442.50" y="128.16" font-size="7.2" text-anchor="middle" class="sg">–</text>
<text x="456.50" y="128.16" font-size="7.2" text-anchor="middle" class="sg">–</text>
<text x="470.30" y="129.02" font-size="7.2" text-anchor="middle" class="sg">+</text>
<text x="484.00" y="129.02" font-size="7.2" text-anchor="middle" class="sg">+</text>
<text x="497.50" y="129.02" font-size="7.2" text-anchor="middle" class="sg">+</text>
<line x1="339.20" y1="132.20" x2="412.50" y2="132.20" stroke="#111" stroke-width="1.4"/>
<line x1="427.00" y1="132.20" x2="500.00" y2="132.20" stroke="#111" stroke-width="1.4"/>
<text x="376.00" y="140.50" font-size="7.7" text-anchor="middle">MDA-MB-231</text>
<text x="463.00" y="140.50" font-size="7.7" text-anchor="middle">HCC1806</text>
<line x1="341.00" y1="63.40" x2="355.00" y2="63.40" stroke="#111" stroke-width="0.9"/>
<text x="335.00" y="62.10" font-size="7.7"><tspan font-style="italic">P</tspan> = 0.0101</text>
<line x1="341.00" y1="54.70" x2="368.70" y2="54.70" stroke="#111" stroke-width="0.9"/>
<text x="338.80" y="52.80" font-size="7.7"><tspan font-style="italic">P</tspan> = 0.003</text>
<line x1="341.00" y1="44.90" x2="382.00" y2="44.90" stroke="#111" stroke-width="0.9"/>
<text x="343.20" y="42.90" font-size="7.7"><tspan font-style="italic">P</tspan> = 0.0003</text>
<line x1="355.80" y1="35.00" x2="395.80" y2="35.00" stroke="#111" stroke-width="0.9"/>
<text x="355.80" y="32.70" font-size="7.7"><tspan font-style="italic">P</tspan> &lt; 0.0001</text>
<line x1="369.00" y1="24.80" x2="409.60" y2="24.80" stroke="#111" stroke-width="0.9"/>
<text x="369.00" y="22.50" font-size="7.7"><tspan font-style="italic">P</tspan> &lt; 0.0001</text>
<line x1="429.00" y1="59.50" x2="442.00" y2="59.50" stroke="#111" stroke-width="0.9"/>
<text x="417.50" y="57.50" font-size="7.7"><tspan font-style="italic">P</tspan> = 0.0029</text>
<line x1="429.00" y1="50.00" x2="456.00" y2="50.00" stroke="#111" stroke-width="0.9"/>
<text x="422.50" y="48.00" font-size="7.7"><tspan font-style="italic">P</tspan> = 0.0065</text>
<line x1="429.00" y1="40.00" x2="470.00" y2="40.00" stroke="#111" stroke-width="0.9"/>
<text x="428.00" y="38.00" font-size="7.7"><tspan font-style="italic">P</tspan> &lt; 0.0001</text>
<line x1="442.00" y1="29.50" x2="484.00" y2="29.50" stroke="#111" stroke-width="0.9"/>
<text x="445.00" y="27.50" font-size="7.7"><tspan font-style="italic">P</tspan> &lt; 0.0001</text>
<line x1="456.00" y1="19.00" x2="497.00" y2="19.00" stroke="#111" stroke-width="0.9"/>
<text x="458.50" y="17.00" font-size="7.7"><tspan font-style="italic">P</tspan> &lt; 0.0001</text>
<text x="45.80" y="163.00" font-size="12.2" font-weight="bold" fill="#000">C</text>
<text x="101.50" y="160.00" font-size="7.7" text-anchor="end">Dox</text>
<text x="101.50" y="168.90" font-size="7.7" text-anchor="end">INN</text>
<text x="119.00" y="159.96" font-size="7.2" text-anchor="middle" class="sg">–</text>
<text x="147.60" y="160.82" font-size="7.2" text-anchor="middle" class="sg">+</text>
<text x="176.20" y="159.96" font-size="7.2" text-anchor="middle" class="sg">–</text>
<text x="205.00" y="160.82" font-size="7.2" text-anchor="middle" class="sg">+</text>
<text x="119.00" y="168.86" font-size="7.2" text-anchor="middle" class="sg">–</text>
<text x="147.60" y="168.86" font-size="7.2" text-anchor="middle" class="sg">–</text>
<text x="176.20" y="169.72" font-size="7.2" text-anchor="middle" class="sg">+</text>
<text x="205.00" y="169.72" font-size="7.2" text-anchor="middle" class="sg">+</text>
<text x="103.00" y="184.50" font-size="7.7" text-anchor="end">MDA-MB-231.</text>
<text x="103.00" y="193.60" font-size="7.7" text-anchor="end">shMILIP.1</text>
<text x="103.00" y="212.70" font-size="7.7" text-anchor="end">MDA-MB-231.</text>
<text x="103.00" y="221.80" font-size="7.7" text-anchor="end">shMILIP.2</text>
<text x="103.00" y="241.20" font-size="7.7" text-anchor="end">HCC1806.</text>
<text x="103.00" y="250.30" font-size="7.7" text-anchor="end">shMILIP.1</text>
<text x="103.00" y="270.30" font-size="7.7" text-anchor="end">HCC1806.</text>
<text x="103.00" y="279.40" font-size="7.7" text-anchor="end">shMILIP.2</text>
<circle cx="119.10" cy="187.20" r="13.6" fill="#000" filter="url(#pl0)"/>
<circle cx="119.10" cy="187.20" r="13.3" fill="none" stroke="#444" stroke-opacity="0.5" stroke-width="0.8"/>
<circle cx="147.60" cy="187.20" r="13.6" fill="#000" filter="url(#pl1)"/>
<circle cx="147.60" cy="187.20" r="13.3" fill="none" stroke="#444" stroke-opacity="0.5" stroke-width="0.8"/>
<circle cx="176.10" cy="187.20" r="13.6" fill="#000" filter="url(#pl2)"/>
<circle cx="176.10" cy="187.20" r="13.3" fill="none" stroke="#444" stroke-opacity="0.5" stroke-width="0.8"/>
<circle cx="204.70" cy="187.20" r="13.6" fill="#000" filter="url(#pl3)"/>
<circle cx="204.70" cy="187.20" r="13.3" fill="none" stroke="#444" stroke-opacity="0.5" stroke-width="0.8"/>
<circle cx="119.10" cy="215.40" r="13.6" fill="#000" filter="url(#pl4)"/>
<circle cx="119.10" cy="215.40" r="13.3" fill="none" stroke="#444" stroke-opacity="0.5" stroke-width="0.8"/>
<circle cx="147.60" cy="215.40" r="13.6" fill="#000" filter="url(#pl5)"/>
<circle cx="147.60" cy="215.40" r="13.3" fill="none" stroke="#444" stroke-opacity="0.5" stroke-width="0.8"/>
<circle cx="176.10" cy="215.40" r="13.6" fill="#000" filter="url(#pl6)"/>
<circle cx="176.10" cy="215.40" r="13.3" fill="none" stroke="#444" stroke-opacity="0.5" stroke-width="0.8"/>
<circle cx="204.70" cy="215.40" r="13.6" fill="#000" filter="url(#pl7)"/>
<circle cx="204.70" cy="215.40" r="13.3" fill="none" stroke="#444" stroke-opacity="0.5" stroke-width="0.8"/>
<circle cx="119.10" cy="243.90" r="13.6" fill="#000" filter="url(#pl8)"/>
<circle cx="119.10" cy="243.90" r="13.3" fill="none" stroke="#444" stroke-opacity="0.5" stroke-width="0.8"/>
<circle cx="147.60" cy="243.90" r="13.6" fill="#000" filter="url(#pl9)"/>
<circle cx="147.60" cy="243.90" r="13.3" fill="none" stroke="#444" stroke-opacity="0.5" stroke-width="0.8"/>
<circle cx="176.10" cy="243.90" r="13.6" fill="#000" filter="url(#pl10)"/>
<circle cx="176.10" cy="243.90" r="13.3" fill="none" stroke="#444" stroke-opacity="0.5" stroke-width="0.8"/>
<circle cx="204.70" cy="243.90" r="13.6" fill="#000" filter="url(#pl11)"/>
<circle cx="204.70" cy="243.90" r="13.3" fill="none" stroke="#444" stroke-opacity="0.5" stroke-width="0.8"/>
<circle cx="119.10" cy="273.00" r="13.6" fill="#000" filter="url(#pl12)"/>
<circle cx="119.10" cy="273.00" r="13.3" fill="none" stroke="#444" stroke-opacity="0.5" stroke-width="0.8"/>
<circle cx="147.60" cy="273.00" r="13.6" fill="#000" filter="url(#pl13)"/>
<circle cx="147.60" cy="273.00" r="13.3" fill="none" stroke="#444" stroke-opacity="0.5" stroke-width="0.8"/>
<circle cx="176.10" cy="273.00" r="13.6" fill="#000" filter="url(#pl14)"/>
<circle cx="176.10" cy="273.00" r="13.3" fill="none" stroke="#444" stroke-opacity="0.5" stroke-width="0.8"/>
<circle cx="204.70" cy="273.00" r="13.6" fill="#000" filter="url(#pl15)"/>
<circle cx="204.70" cy="273.00" r="13.3" fill="none" stroke="#444" stroke-opacity="0.5" stroke-width="0.8"/>
<line x1="201.50" y1="282.30" x2="209.60" y2="282.30" stroke="#d01818" stroke-width="1.3"/>
<text x="230.80" y="163.00" font-size="12.2" font-weight="bold" fill="#000">D</text>
<text x="248.60" y="206.60" font-size="7.7" text-anchor="middle" transform="rotate(-90 248.60 206.60)">Relative colony area</text>
<rect x="273.90" y="186.83" width="9.60" height="51.17" fill="#F7D0AA"/>
<circle cx="275.80" cy="186.13" r="1.15" fill="#111"/>
<circle cx="278.70" cy="186.13" r="1.15" fill="#111"/>
<circle cx="281.60" cy="186.13" r="1.15" fill="#111"/>
<rect x="285.65" y="214.62" width="9.60" height="23.38" fill="#F7D0AA"/>
<line x1="290.45" y1="212.57" x2="290.45" y2="216.66" stroke="#111" stroke-width="1.0"/>
<line x1="288.75" y1="212.57" x2="292.15" y2="212.57" stroke="#111" stroke-width="1.1"/>
<line x1="288.75" y1="216.66" x2="292.15" y2="216.66" stroke="#111" stroke-width="1.1"/>
<circle cx="288.95" cy="214.62" r="1.05" fill="#111"/>
<circle cx="291.95" cy="215.13" r="1.05" fill="#111"/>
<circle cx="290.45" cy="214.11" r="1.05" fill="#111"/>
<rect x="297.40" y="211.39" width="9.60" height="26.61" fill="#F7D0AA"/>
<line x1="302.20" y1="210.37" x2="302.20" y2="212.42" stroke="#111" stroke-width="1.0"/>
<line x1="300.50" y1="210.37" x2="303.90" y2="210.37" stroke="#111" stroke-width="1.1"/>
<line x1="300.50" y1="212.42" x2="303.90" y2="212.42" stroke="#111" stroke-width="1.1"/>
<circle cx="300.70" cy="211.39" r="1.05" fill="#111"/>
<circle cx="303.70" cy="211.91" r="1.05" fill="#111"/>
<circle cx="302.20" cy="210.88" r="1.05" fill="#111"/>
<rect x="309.15" y="221.63" width="9.60" height="16.37" fill="#F7D0AA"/>
<line x1="313.95" y1="219.58" x2="313.95" y2="223.67" stroke="#111" stroke-width="1.0"/>
<line x1="312.25" y1="219.58" x2="315.65" y2="219.58" stroke="#111" stroke-width="1.1"/>
<line x1="312.25" y1="223.67" x2="315.65" y2="223.67" stroke="#111" stroke-width="1.1"/>
<circle cx="312.45" cy="221.63" r="1.05" fill="#111"/>
<circle cx="315.45" cy="222.14" r="1.05" fill="#111"/>
<circle cx="313.95" cy="221.12" r="1.05" fill="#111"/>
<text x="278.70" y="249.66" font-size="7.2" text-anchor="middle" class="sg">–</text>
<text x="290.45" y="250.52" font-size="7.2" text-anchor="middle" class="sg">+</text>
<text x="302.20" y="249.66" font-size="7.2" text-anchor="middle" class="sg">–</text>
<text x="313.95" y="250.52" font-size="7.2" text-anchor="middle" class="sg">+</text>
<text x="278.70" y="259.16" font-size="7.2" text-anchor="middle" class="sg">–</text>
<text x="290.45" y="259.16" font-size="7.2" text-anchor="middle" class="sg">–</text>
<text x="302.20" y="260.02" font-size="7.2" text-anchor="middle" class="sg">+</text>
<text x="313.95" y="260.02" font-size="7.2" text-anchor="middle" class="sg">+</text>
<line x1="276.70" y1="263.30" x2="318.95" y2="263.30" stroke="#111" stroke-width="1.4"/>
<rect x="325.70" y="186.83" width="9.60" height="51.17" fill="#F7D0AA"/>
<circle cx="327.60" cy="186.13" r="1.15" fill="#111"/>
<circle cx="330.50" cy="186.13" r="1.15" fill="#111"/>
<circle cx="333.40" cy="186.13" r="1.15" fill="#111"/>
<rect x="337.45" y="209.35" width="9.60" height="28.65" fill="#F7D0AA"/>
<line x1="342.25" y1="207.30" x2="342.25" y2="211.39" stroke="#111" stroke-width="1.0"/>
<line x1="340.55" y1="207.30" x2="343.95" y2="207.30" stroke="#111" stroke-width="1.1"/>
<line x1="340.55" y1="211.39" x2="343.95" y2="211.39" stroke="#111" stroke-width="1.1"/>
<circle cx="340.75" cy="209.35" r="1.05" fill="#111"/>
<circle cx="343.75" cy="209.86" r="1.05" fill="#111"/>
<circle cx="342.25" cy="208.83" r="1.05" fill="#111"/>
<rect x="349.20" y="209.35" width="9.60" height="28.65" fill="#F7D0AA"/>
<line x1="354.00" y1="204.23" x2="354.00" y2="214.46" stroke="#111" stroke-width="1.0"/>
<line x1="352.30" y1="204.23" x2="355.70" y2="204.23" stroke="#111" stroke-width="1.1"/>
<line x1="352.30" y1="214.46" x2="355.70" y2="214.46" stroke="#111" stroke-width="1.1"/>
<circle cx="352.50" cy="209.35" r="1.05" fill="#111"/>
<circle cx="355.50" cy="209.86" r="1.05" fill="#111"/>
<circle cx="354.00" cy="208.83" r="1.05" fill="#111"/>
<rect x="360.95" y="214.62" width="9.60" height="23.38" fill="#F7D0AA"/>
<line x1="365.75" y1="212.57" x2="365.75" y2="216.66" stroke="#111" stroke-width="1.0"/>
<line x1="364.05" y1="212.57" x2="367.45" y2="212.57" stroke="#111" stroke-width="1.1"/>
<line x1="364.05" y1="216.66" x2="367.45" y2="216.66" stroke="#111" stroke-width="1.1"/>
<circle cx="364.25" cy="214.62" r="1.05" fill="#111"/>
<circle cx="367.25" cy="215.13" r="1.05" fill="#111"/>
<circle cx="365.75" cy="214.11" r="1.05" fill="#111"/>
<text x="330.50" y="249.66" font-size="7.2" text-anchor="middle" class="sg">–</text>
<text x="342.25" y="250.52" font-size="7.2" text-anchor="middle" class="sg">+</text>
<text x="354.00" y="249.66" font-size="7.2" text-anchor="middle" class="sg">–</text>
<text x="365.75" y="250.52" font-size="7.2" text-anchor="middle" class="sg">+</text>
<text x="330.50" y="259.16" font-size="7.2" text-anchor="middle" class="sg">–</text>
<text x="342.25" y="259.16" font-size="7.2" text-anchor="middle" class="sg">–</text>
<text x="354.00" y="260.02" font-size="7.2" text-anchor="middle" class="sg">+</text>
<text x="365.75" y="260.02" font-size="7.2" text-anchor="middle" class="sg">+</text>
<line x1="328.50" y1="263.30" x2="369.75" y2="263.30" stroke="#111" stroke-width="1.4"/>
<rect x="377.30" y="186.83" width="9.60" height="51.17" fill="#A8D4FA"/>
<circle cx="379.20" cy="186.13" r="1.15" fill="#111"/>
<circle cx="382.10" cy="186.13" r="1.15" fill="#111"/>
<circle cx="385.00" cy="186.13" r="1.15" fill="#111"/>
<rect x="389.05" y="208.07" width="9.60" height="29.93" fill="#A8D4FA"/>
<line x1="393.85" y1="207.04" x2="393.85" y2="209.09" stroke="#111" stroke-width="1.0"/>
<line x1="392.15" y1="207.04" x2="395.55" y2="207.04" stroke="#111" stroke-width="1.1"/>
<line x1="392.15" y1="209.09" x2="395.55" y2="209.09" stroke="#111" stroke-width="1.1"/>
<circle cx="392.35" cy="208.07" r="1.05" fill="#111"/>
<circle cx="395.35" cy="208.58" r="1.05" fill="#111"/>
<circle cx="393.85" cy="207.56" r="1.05" fill="#111"/>
<rect x="400.80" y="212.93" width="9.60" height="25.07" fill="#A8D4FA"/>
<line x1="405.60" y1="211.39" x2="405.60" y2="214.46" stroke="#111" stroke-width="1.0"/>
<line x1="403.90" y1="211.39" x2="407.30" y2="211.39" stroke="#111" stroke-width="1.1"/>
<line x1="403.90" y1="214.46" x2="407.30" y2="214.46" stroke="#111" stroke-width="1.1"/>
<circle cx="404.10" cy="212.93" r="1.05" fill="#111"/>
<circle cx="407.10" cy="213.44" r="1.05" fill="#111"/>
<circle cx="405.60" cy="212.42" r="1.05" fill="#111"/>
<rect x="412.55" y="220.60" width="9.60" height="17.40" fill="#A8D4FA"/>
<line x1="417.35" y1="220.09" x2="417.35" y2="221.12" stroke="#111" stroke-width="1.0"/>
<line x1="415.65" y1="220.09" x2="419.05" y2="220.09" stroke="#111" stroke-width="1.1"/>
<line x1="415.65" y1="221.12" x2="419.05" y2="221.12" stroke="#111" stroke-width="1.1"/>
<circle cx="415.85" cy="220.60" r="1.05" fill="#111"/>
<circle cx="418.85" cy="221.12" r="1.05" fill="#111"/>
<circle cx="417.35" cy="220.09" r="1.05" fill="#111"/>
<text x="382.10" y="249.66" font-size="7.2" text-anchor="middle" class="sg">–</text>
<text x="393.85" y="250.52" font-size="7.2" text-anchor="middle" class="sg">+</text>
<text x="405.60" y="249.66" font-size="7.2" text-anchor="middle" class="sg">–</text>
<text x="417.35" y="250.52" font-size="7.2" text-anchor="middle" class="sg">+</text>
<text x="382.10" y="259.16" font-size="7.2" text-anchor="middle" class="sg">–</text>
<text x="393.85" y="259.16" font-size="7.2" text-anchor="middle" class="sg">–</text>
<text x="405.60" y="260.02" font-size="7.2" text-anchor="middle" class="sg">+</text>
<text x="417.35" y="260.02" font-size="7.2" text-anchor="middle" class="sg">+</text>
<line x1="380.10" y1="263.30" x2="418.35" y2="263.30" stroke="#111" stroke-width="1.4"/>
<rect x="428.80" y="186.83" width="9.60" height="51.17" fill="#A8D4FA"/>
<circle cx="430.70" cy="186.13" r="1.15" fill="#111"/>
<circle cx="433.60" cy="186.13" r="1.15" fill="#111"/>
<circle cx="436.50" cy="186.13" r="1.15" fill="#111"/>
<rect x="440.55" y="212.93" width="9.60" height="25.07" fill="#A8D4FA"/>
<line x1="445.35" y1="212.42" x2="445.35" y2="213.44" stroke="#111" stroke-width="1.0"/>
<line x1="443.65" y1="212.42" x2="447.05" y2="212.42" stroke="#111" stroke-width="1.1"/>
<line x1="443.65" y1="213.44" x2="447.05" y2="213.44" stroke="#111" stroke-width="1.1"/>
<circle cx="443.85" cy="212.93" r="1.05" fill="#111"/>
<circle cx="446.85" cy="213.44" r="1.05" fill="#111"/>
<circle cx="445.35" cy="212.42" r="1.05" fill="#111"/>
<rect x="452.30" y="211.39" width="9.60" height="26.61" fill="#A8D4FA"/>
<line x1="457.10" y1="209.35" x2="457.10" y2="213.44" stroke="#111" stroke-width="1.0"/>
<line x1="455.40" y1="209.35" x2="458.80" y2="209.35" stroke="#111" stroke-width="1.1"/>
<line x1="455.40" y1="213.44" x2="458.80" y2="213.44" stroke="#111" stroke-width="1.1"/>
<circle cx="455.60" cy="211.39" r="1.05" fill="#111"/>
<circle cx="458.60" cy="211.91" r="1.05" fill="#111"/>
<circle cx="457.10" cy="210.88" r="1.05" fill="#111"/>
<rect x="464.05" y="222.14" width="9.60" height="15.86" fill="#A8D4FA"/>
<line x1="468.85" y1="219.58" x2="468.85" y2="224.70" stroke="#111" stroke-width="1.0"/>
<line x1="467.15" y1="219.58" x2="470.55" y2="219.58" stroke="#111" stroke-width="1.1"/>
<line x1="467.15" y1="224.70" x2="470.55" y2="224.70" stroke="#111" stroke-width="1.1"/>
<circle cx="467.35" cy="222.14" r="1.05" fill="#111"/>
<circle cx="470.35" cy="222.65" r="1.05" fill="#111"/>
<circle cx="468.85" cy="221.63" r="1.05" fill="#111"/>
<text x="433.60" y="249.66" font-size="7.2" text-anchor="middle" class="sg">–</text>
<text x="445.35" y="250.52" font-size="7.2" text-anchor="middle" class="sg">+</text>
<text x="457.10" y="249.66" font-size="7.2" text-anchor="middle" class="sg">–</text>
<text x="468.85" y="250.52" font-size="7.2" text-anchor="middle" class="sg">+</text>
<text x="433.60" y="259.16" font-size="7.2" text-anchor="middle" class="sg">–</text>
<text x="445.35" y="259.16" font-size="7.2" text-anchor="middle" class="sg">–</text>
<text x="457.10" y="260.02" font-size="7.2" text-anchor="middle" class="sg">+</text>
<text x="468.85" y="260.02" font-size="7.2" text-anchor="middle" class="sg">+</text>
<line x1="431.60" y1="263.30" x2="470.35" y2="263.30" stroke="#111" stroke-width="1.4"/>
<line x1="269.50" y1="176.20" x2="269.50" y2="238.50" stroke="#111" stroke-width="1.25"/>
<line x1="268.90" y1="238.00" x2="477.50" y2="238.00" stroke="#111" stroke-width="1.5"/>
<line x1="267.10" y1="238.00" x2="269.50" y2="238.00" stroke="#111" stroke-width="0.9"/>
<text x="265.50" y="240.77" font-size="7.7" text-anchor="end">0.0</text>
<line x1="267.10" y1="217.53" x2="269.50" y2="217.53" stroke="#111" stroke-width="0.9"/>
<text x="265.50" y="220.31" font-size="7.7" text-anchor="end">0.4</text>
<line x1="267.10" y1="197.07" x2="269.50" y2="197.07" stroke="#111" stroke-width="0.9"/>
<text x="265.50" y="199.84" font-size="7.7" text-anchor="end">0.8</text>
<line x1="267.10" y1="176.60" x2="269.50" y2="176.60" stroke="#111" stroke-width="0.9"/>
<text x="265.50" y="179.37" font-size="7.7" text-anchor="end">1.2</text>
<text x="265.00" y="250.20" font-size="7.7" text-anchor="end">Dox</text>
<text x="265.00" y="259.70" font-size="7.7" text-anchor="end">INN</text>
<text x="296.82" y="273.20" font-size="7.7" text-anchor="middle">MDA-MB-231.</text>
<text x="296.82" y="283.00" font-size="7.7" text-anchor="middle">shMILIP.1</text>
<text x="348.62" y="273.20" font-size="7.7" text-anchor="middle">MDA-MB-231.</text>
<text x="348.62" y="283.00" font-size="7.7" text-anchor="middle">shMILIP.2</text>
<text x="397.93" y="273.20" font-size="7.7" text-anchor="middle">HCC1806.</text>
<text x="397.12" y="283.00" font-size="7.7" text-anchor="middle">shMILIP.1</text>
<text x="449.33" y="273.20" font-size="7.7" text-anchor="middle">HCC1806.</text>
<text x="449.33" y="283.00" font-size="7.7" text-anchor="middle">shMILIP.2</text>
<text x="270.20" y="169.20" font-size="7.7"><tspan font-style="italic">P</tspan> &lt; 0.0001</text>
<line x1="276.00" y1="171.40" x2="302.80" y2="171.40" stroke="#111" stroke-width="1.15"/>
<text x="271.90" y="179.00" font-size="7.7"><tspan font-style="italic">P</tspan> &lt; 0.0001</text>
<line x1="276.00" y1="181.30" x2="288.45" y2="181.30" stroke="#111" stroke-width="1.15"/>
<text x="322.00" y="169.20" font-size="7.7"><tspan font-style="italic">P</tspan> &lt; 0.0001</text>
<line x1="327.80" y1="171.40" x2="354.60" y2="171.40" stroke="#111" stroke-width="1.15"/>
<text x="323.70" y="179.00" font-size="7.7"><tspan font-style="italic">P</tspan> &lt; 0.0001</text>
<line x1="327.80" y1="181.30" x2="340.25" y2="181.30" stroke="#111" stroke-width="1.15"/>
<text x="373.60" y="169.20" font-size="7.7"><tspan font-style="italic">P</tspan> &lt; 0.0001</text>
<line x1="379.40" y1="171.40" x2="406.20" y2="171.40" stroke="#111" stroke-width="1.15"/>
<text x="375.30" y="179.00" font-size="7.7"><tspan font-style="italic">P</tspan> &lt; 0.0001</text>
<line x1="379.40" y1="181.30" x2="391.85" y2="181.30" stroke="#111" stroke-width="1.15"/>
<text x="425.10" y="169.20" font-size="7.7"><tspan font-style="italic">P</tspan> &lt; 0.0001</text>
<line x1="430.90" y1="171.40" x2="457.70" y2="171.40" stroke="#111" stroke-width="1.15"/>
<text x="426.80" y="179.00" font-size="7.7"><tspan font-style="italic">P</tspan> &lt; 0.0001</text>
<line x1="430.90" y1="181.30" x2="443.35" y2="181.30" stroke="#111" stroke-width="1.15"/>
<text x="291.30" y="201.20" font-size="7.7"><tspan font-style="italic">P</tspan>=0.0013</text>
<line x1="301.30" y1="204.50" x2="314.50" y2="204.50" stroke="#111" stroke-width="1.15"/>
<text x="337.50" y="193.80" font-size="7.7"><tspan font-style="italic">P</tspan> = 0.0084</text>
<line x1="351.30" y1="197.00" x2="365.00" y2="197.00" stroke="#111" stroke-width="1.15"/>
<text x="390.00" y="200.50" font-size="7.7"><tspan font-style="italic">P</tspan> &lt; 0.0001</text>
<line x1="403.80" y1="202.60" x2="417.50" y2="202.60" stroke="#111" stroke-width="1.15"/>
<text x="442.50" y="200.50" font-size="7.7"><tspan font-style="italic">P</tspan> &lt; 0.0001</text>
<line x1="455.50" y1="202.60" x2="469.50" y2="202.60" stroke="#111" stroke-width="1.15"/>
<text x="45.30" y="315.20" font-size="12.2" font-weight="bold" fill="#000">E</text>
<text x="67.50" y="344.00" font-size="7.7" text-anchor="middle" transform="rotate(-90 67.50 344.00)">Cell number</text>
<text x="76.00" y="343.50" font-size="7.7" text-anchor="middle" transform="rotate(-90 76.00 343.50)">(*10<tspan font-size="5" dy="-2.5">5</tspan><tspan dy="2.5">)</tspan></text>
<rect x="95.25" y="353.79" width="8.70" height="15.41" fill="#F7D0AA"/>
<line x1="99.60" y1="350.71" x2="99.60" y2="356.88" stroke="#111" stroke-width="1.0"/>
<line x1="97.90" y1="350.71" x2="101.30" y2="350.71" stroke="#111" stroke-width="1.1"/>
<line x1="97.90" y1="356.88" x2="101.30" y2="356.88" stroke="#111" stroke-width="1.1"/>
<circle cx="96.80" cy="353.49" r="1.05" fill="#111"/>
<circle cx="102.40" cy="354.10" r="1.05" fill="#111"/>
<circle cx="99.60" cy="353.18" r="1.05" fill="#111"/>
<rect x="142.85" y="349.17" width="8.70" height="20.03" fill="#A8D4FA"/>
<line x1="147.20" y1="348.56" x2="147.20" y2="349.79" stroke="#111" stroke-width="1.0"/>
<line x1="145.50" y1="348.56" x2="148.90" y2="348.56" stroke="#111" stroke-width="1.1"/>
<line x1="145.50" y1="349.79" x2="148.90" y2="349.79" stroke="#111" stroke-width="1.1"/>
<circle cx="144.40" cy="349.17" r="1.05" fill="#111"/>
<circle cx="150.00" cy="349.48" r="1.05" fill="#111"/>
<circle cx="147.20" cy="348.86" r="1.05" fill="#111"/>
<circle cx="145.80" cy="349.17" r="1.05" fill="#111"/>
<circle cx="148.60" cy="349.17" r="1.05" fill="#111"/>
<rect x="106.25" y="334.69" width="8.70" height="34.51" fill="#F7D0AA"/>
<line x1="110.60" y1="330.99" x2="110.60" y2="338.39" stroke="#111" stroke-width="1.0"/>
<line x1="108.90" y1="330.99" x2="112.30" y2="330.99" stroke="#111" stroke-width="1.1"/>
<line x1="108.90" y1="338.39" x2="112.30" y2="338.39" stroke="#111" stroke-width="1.1"/>
<circle cx="107.80" cy="334.38" r="1.05" fill="#111"/>
<circle cx="113.40" cy="335.00" r="1.05" fill="#111"/>
<circle cx="110.60" cy="334.07" r="1.05" fill="#111"/>
<rect x="153.85" y="331.61" width="8.70" height="37.59" fill="#A8D4FA"/>
<line x1="158.20" y1="330.99" x2="158.20" y2="332.22" stroke="#111" stroke-width="1.0"/>
<line x1="156.50" y1="330.99" x2="159.90" y2="330.99" stroke="#111" stroke-width="1.1"/>
<line x1="156.50" y1="332.22" x2="159.90" y2="332.22" stroke="#111" stroke-width="1.1"/>
<circle cx="155.40" cy="331.61" r="1.05" fill="#111"/>
<circle cx="161.00" cy="331.92" r="1.05" fill="#111"/>
<circle cx="158.20" cy="331.30" r="1.05" fill="#111"/>
<circle cx="156.80" cy="331.61" r="1.05" fill="#111"/>
<circle cx="159.60" cy="331.61" r="1.05" fill="#111"/>
<rect x="117.15" y="361.19" width="8.70" height="8.01" fill="#F7D0AA"/>
<line x1="121.50" y1="360.57" x2="121.50" y2="361.81" stroke="#111" stroke-width="1.0"/>
<line x1="119.80" y1="360.57" x2="123.20" y2="360.57" stroke="#111" stroke-width="1.1"/>
<line x1="119.80" y1="361.81" x2="123.20" y2="361.81" stroke="#111" stroke-width="1.1"/>
<circle cx="118.70" cy="360.88" r="1.05" fill="#111"/>
<circle cx="124.30" cy="361.50" r="1.05" fill="#111"/>
<circle cx="121.50" cy="360.57" r="1.05" fill="#111"/>
<rect x="164.95" y="359.03" width="8.70" height="10.17" fill="#A8D4FA"/>
<line x1="169.30" y1="358.42" x2="169.30" y2="359.65" stroke="#111" stroke-width="1.0"/>
<line x1="167.60" y1="358.42" x2="171.00" y2="358.42" stroke="#111" stroke-width="1.1"/>
<line x1="167.60" y1="359.65" x2="171.00" y2="359.65" stroke="#111" stroke-width="1.1"/>
<circle cx="166.50" cy="359.03" r="1.05" fill="#111"/>
<circle cx="172.10" cy="359.34" r="1.05" fill="#111"/>
<circle cx="169.30" cy="358.72" r="1.05" fill="#111"/>
<circle cx="167.90" cy="359.03" r="1.05" fill="#111"/>
<circle cx="170.70" cy="359.03" r="1.05" fill="#111"/>
<rect x="127.95" y="361.19" width="8.70" height="8.01" fill="#F7D0AA"/>
<line x1="132.30" y1="360.57" x2="132.30" y2="361.81" stroke="#111" stroke-width="1.0"/>
<line x1="130.60" y1="360.57" x2="134.00" y2="360.57" stroke="#111" stroke-width="1.1"/>
<line x1="130.60" y1="361.81" x2="134.00" y2="361.81" stroke="#111" stroke-width="1.1"/>
<circle cx="129.50" cy="360.88" r="1.05" fill="#111"/>
<circle cx="135.10" cy="361.50" r="1.05" fill="#111"/>
<circle cx="132.30" cy="360.57" r="1.05" fill="#111"/>
<rect x="175.55" y="360.88" width="8.70" height="8.32" fill="#A8D4FA"/>
<line x1="179.90" y1="360.26" x2="179.90" y2="361.50" stroke="#111" stroke-width="1.0"/>
<line x1="178.20" y1="360.26" x2="181.60" y2="360.26" stroke="#111" stroke-width="1.1"/>
<line x1="178.20" y1="361.50" x2="181.60" y2="361.50" stroke="#111" stroke-width="1.1"/>
<circle cx="177.10" cy="360.88" r="1.05" fill="#111"/>
<circle cx="182.70" cy="361.19" r="1.05" fill="#111"/>
<circle cx="179.90" cy="360.57" r="1.05" fill="#111"/>
<circle cx="178.50" cy="360.88" r="1.05" fill="#111"/>
<circle cx="181.30" cy="360.88" r="1.05" fill="#111"/>
<line x1="90.90" y1="319.50" x2="90.90" y2="369.70" stroke="#111" stroke-width="1.25"/>
<line x1="90.30" y1="369.20" x2="186.50" y2="369.20" stroke="#111" stroke-width="1.5"/>
<line x1="88.50" y1="369.20" x2="90.90" y2="369.20" stroke="#111" stroke-width="0.9"/>
<text x="86.90" y="371.97" font-size="7.7" text-anchor="end">0</text>
<line x1="88.50" y1="356.88" x2="90.90" y2="356.88" stroke="#111" stroke-width="0.9"/>
<text x="86.90" y="359.65" font-size="7.7" text-anchor="end">2</text>
<line x1="88.50" y1="344.55" x2="90.90" y2="344.55" stroke="#111" stroke-width="0.9"/>
<text x="86.90" y="347.32" font-size="7.7" text-anchor="end">4</text>
<line x1="88.50" y1="332.22" x2="90.90" y2="332.22" stroke="#111" stroke-width="0.9"/>
<text x="86.90" y="335.00" font-size="7.7" text-anchor="end">6</text>
<line x1="88.50" y1="319.90" x2="90.90" y2="319.90" stroke="#111" stroke-width="0.9"/>
<text x="86.90" y="322.67" font-size="7.7" text-anchor="end">8</text>
<text x="89.10" y="380.30" font-size="7.7" text-anchor="end">pcDNA3.1</text>
<text x="99.60" y="380.72" font-size="7.2" text-anchor="middle" class="sg">+</text>
<text x="110.60" y="379.86" font-size="7.2" text-anchor="middle" class="sg">–</text>
<text x="121.50" y="380.72" font-size="7.2" text-anchor="middle" class="sg">+</text>
<text x="132.30" y="379.86" font-size="7.2" text-anchor="middle" class="sg">–</text>
<text x="147.20" y="380.72" font-size="7.2" text-anchor="middle" class="sg">+</text>
<text x="158.20" y="379.86" font-size="7.2" text-anchor="middle" class="sg">–</text>
<text x="169.30" y="380.72" font-size="7.2" text-anchor="middle" class="sg">+</text>
<text x="179.90" y="379.86" font-size="7.2" text-anchor="middle" class="sg">–</text>
<text x="89.10" y="389.50" font-size="7.7" text-anchor="end">pcDNA3.1-MILIP</text>
<text x="99.60" y="389.06" font-size="7.2" text-anchor="middle" class="sg">–</text>
<text x="110.60" y="389.92" font-size="7.2" text-anchor="middle" class="sg">+</text>
<text x="121.50" y="389.06" font-size="7.2" text-anchor="middle" class="sg">–</text>
<text x="132.30" y="389.92" font-size="7.2" text-anchor="middle" class="sg">+</text>
<text x="147.20" y="389.06" font-size="7.2" text-anchor="middle" class="sg">–</text>
<text x="158.20" y="389.92" font-size="7.2" text-anchor="middle" class="sg">+</text>
<text x="169.30" y="389.06" font-size="7.2" text-anchor="middle" class="sg">–</text>
<text x="179.90" y="389.92" font-size="7.2" text-anchor="middle" class="sg">+</text>
<text x="89.10" y="398.20" font-size="7.7" text-anchor="end">INN</text>
<text x="99.60" y="397.76" font-size="7.2" text-anchor="middle" class="sg">–</text>
<text x="110.60" y="397.76" font-size="7.2" text-anchor="middle" class="sg">–</text>
<text x="121.50" y="398.62" font-size="7.2" text-anchor="middle" class="sg">+</text>
<text x="132.30" y="398.62" font-size="7.2" text-anchor="middle" class="sg">+</text>
<text x="147.20" y="397.76" font-size="7.2" text-anchor="middle" class="sg">–</text>
<text x="158.20" y="397.76" font-size="7.2" text-anchor="middle" class="sg">–</text>
<text x="169.30" y="398.62" font-size="7.2" text-anchor="middle" class="sg">+</text>
<text x="179.90" y="398.62" font-size="7.2" text-anchor="middle" class="sg">+</text>
<line x1="97.70" y1="401.30" x2="132.70" y2="401.30" stroke="#111" stroke-width="1.4"/>
<line x1="145.80" y1="401.30" x2="180.80" y2="401.30" stroke="#111" stroke-width="1.4"/>
<text x="115.90" y="412.30" font-size="7.7" text-anchor="middle">MDA-MB-231</text>
<text x="164.00" y="412.30" font-size="7.7" text-anchor="middle">HCC1806</text>
<text x="93.80" y="321.00" font-size="7.7"><tspan font-style="italic">P</tspan> &lt; 0.0001</text>
<line x1="98.00" y1="324.40" x2="112.00" y2="324.40" stroke="#111" stroke-width="1.15"/>
<text x="135.70" y="321.00" font-size="7.7"><tspan font-style="italic">P</tspan> &lt; 0.0001</text>
<line x1="145.30" y1="324.40" x2="159.20" y2="324.40" stroke="#111" stroke-width="1.15"/>
<text x="126.2" y="351.3" font-size="7.7" text-anchor="middle" font-style="italic">n.s.</text>
<line x1="118.80" y1="352.80" x2="133.20" y2="352.80" stroke="#111" stroke-width="1.15"/>
<text x="176.0" y="351.3" font-size="7.7" text-anchor="middle" font-style="italic">n.s.</text>
<line x1="169.00" y1="352.80" x2="183.00" y2="352.80" stroke="#111" stroke-width="1.15"/>
<text x="193.60" y="315.20" font-size="12.2" font-weight="bold" fill="#000">F</text>
<text x="290.30" y="312.00" font-size="7.7" text-anchor="middle">MDA-MB-231.shMILIP.1 xenografts</text>
<line x1="209.60" y1="320.40" x2="217.80" y2="320.40" stroke="#3f52b0" stroke-width="1.0"/>
<rect x="212.60" y="319.30" width="2.20" height="2.20" fill="#111"/>
<text x="218.80" y="323.20" font-size="7.7">-Dox</text>
<line x1="246.00" y1="320.40" x2="254.20" y2="320.40" stroke="#c0405a" stroke-width="1.0"/>
<rect x="249.00" y="319.30" width="2.20" height="2.20" fill="#111"/>
<text x="257.00" y="323.20" font-size="7.7">+Dox</text>
<line x1="281.00" y1="320.40" x2="289.20" y2="320.40" stroke="#e8923a" stroke-width="1.0"/>
<rect x="284.00" y="319.30" width="2.20" height="2.20" fill="#111"/>
<text x="290.70" y="323.20" font-size="7.7">+INN</text>
<line x1="315.60" y1="320.40" x2="323.80" y2="320.40" stroke="#3aa070" stroke-width="1.0"/>
<rect x="318.60" y="319.30" width="2.20" height="2.20" fill="#111"/>
<text x="326.50" y="323.20" font-size="7.7">+Dox+INN</text>
<text x="209.8" y="361.4" font-size="8.1" text-anchor="middle" transform="rotate(-90 209.8 361.4)">Tumor volume (mm<tspan font-size="5.2" dy="-2.7">3</tspan><tspan dy="2.7">)</tspan></text>
<polyline points="248.50,388.26 261.20,386.19 273.90,383.17 286.60,378.15 299.30,371.06 312.00,361.53 324.70,355.41 337.40,346.80" fill="none" stroke="#3f52b0" stroke-width="0.95"/>
<polyline points="248.50,388.26 261.20,386.51 273.90,384.02 286.60,379.97 299.30,374.93 312.00,372.91 324.70,370.89 337.40,367.44" fill="none" stroke="#e8923a" stroke-width="0.95"/>
<polyline points="248.50,388.26 261.20,386.76 273.90,384.71 286.60,382.69 299.30,380.67 312.00,378.15 324.70,375.78 337.40,371.06" fill="none" stroke="#d98fb0" stroke-width="0.95"/>
<polyline points="248.50,388.26 261.20,387.21 273.90,386.61 286.60,386.19 299.30,385.39 312.00,384.57 324.70,383.77 337.40,381.52" fill="none" stroke="#3aa070" stroke-width="0.95"/>
<rect x="247.30" y="387.06" width="2.40" height="2.40" fill="#111"/>
<rect x="260.00" y="384.99" width="2.40" height="2.40" fill="#111"/>
<line x1="261.20" y1="385.19" x2="261.20" y2="387.19" stroke="#111" stroke-width="0.9"/>
<line x1="259.80" y1="385.19" x2="262.60" y2="385.19" stroke="#111" stroke-width="0.9"/>
<line x1="259.80" y1="387.19" x2="262.60" y2="387.19" stroke="#111" stroke-width="0.9"/>
<rect x="272.70" y="381.97" width="2.40" height="2.40" fill="#111"/>
<line x1="273.90" y1="381.67" x2="273.90" y2="384.66" stroke="#111" stroke-width="0.9"/>
<line x1="272.50" y1="381.67" x2="275.30" y2="381.67" stroke="#111" stroke-width="0.9"/>
<line x1="272.50" y1="384.66" x2="275.30" y2="384.66" stroke="#111" stroke-width="0.9"/>
<rect x="285.40" y="376.95" width="2.40" height="2.40" fill="#111"/>
<line x1="286.60" y1="375.65" x2="286.60" y2="380.65" stroke="#111" stroke-width="0.9"/>
<line x1="285.20" y1="375.65" x2="288.00" y2="375.65" stroke="#111" stroke-width="0.9"/>
<line x1="285.20" y1="380.65" x2="288.00" y2="380.65" stroke="#111" stroke-width="0.9"/>
<rect x="298.10" y="369.86" width="2.40" height="2.40" fill="#111"/>
<line x1="299.30" y1="367.07" x2="299.30" y2="375.06" stroke="#111" stroke-width="0.9"/>
<line x1="297.90" y1="367.07" x2="300.70" y2="367.07" stroke="#111" stroke-width="0.9"/>
<line x1="297.90" y1="375.06" x2="300.70" y2="375.06" stroke="#111" stroke-width="0.9"/>
<rect x="310.80" y="360.33" width="2.40" height="2.40" fill="#111"/>
<line x1="312.00" y1="356.04" x2="312.00" y2="367.02" stroke="#111" stroke-width="0.9"/>
<line x1="310.60" y1="356.04" x2="313.40" y2="356.04" stroke="#111" stroke-width="0.9"/>
<line x1="310.60" y1="367.02" x2="313.40" y2="367.02" stroke="#111" stroke-width="0.9"/>
<rect x="323.50" y="354.21" width="2.40" height="2.40" fill="#111"/>
<line x1="324.70" y1="349.92" x2="324.70" y2="360.90" stroke="#111" stroke-width="0.9"/>
<line x1="323.30" y1="349.92" x2="326.10" y2="349.92" stroke="#111" stroke-width="0.9"/>
<line x1="323.30" y1="360.90" x2="326.10" y2="360.90" stroke="#111" stroke-width="0.9"/>
<rect x="336.20" y="345.60" width="2.40" height="2.40" fill="#111"/>
<line x1="337.40" y1="336.82" x2="337.40" y2="356.78" stroke="#111" stroke-width="0.9"/>
<line x1="336.00" y1="336.82" x2="338.80" y2="336.82" stroke="#111" stroke-width="0.9"/>
<line x1="336.00" y1="356.78" x2="338.80" y2="356.78" stroke="#111" stroke-width="0.9"/>
<rect x="247.30" y="387.06" width="2.40" height="2.40" fill="#111"/>
<rect x="260.00" y="385.31" width="2.40" height="2.40" fill="#111"/>
<line x1="261.20" y1="385.76" x2="261.20" y2="387.26" stroke="#111" stroke-width="0.9"/>
<line x1="259.80" y1="385.76" x2="262.60" y2="385.76" stroke="#111" stroke-width="0.9"/>
<line x1="259.80" y1="387.26" x2="262.60" y2="387.26" stroke="#111" stroke-width="0.9"/>
<rect x="272.70" y="382.82" width="2.40" height="2.40" fill="#111"/>
<line x1="273.90" y1="382.77" x2="273.90" y2="385.26" stroke="#111" stroke-width="0.9"/>
<line x1="272.50" y1="382.77" x2="275.30" y2="382.77" stroke="#111" stroke-width="0.9"/>
<line x1="272.50" y1="385.26" x2="275.30" y2="385.26" stroke="#111" stroke-width="0.9"/>
<rect x="285.40" y="378.77" width="2.40" height="2.40" fill="#111"/>
<line x1="286.60" y1="377.73" x2="286.60" y2="382.22" stroke="#111" stroke-width="0.9"/>
<line x1="285.20" y1="377.73" x2="288.00" y2="377.73" stroke="#111" stroke-width="0.9"/>
<line x1="285.20" y1="382.22" x2="288.00" y2="382.22" stroke="#111" stroke-width="0.9"/>
<rect x="298.10" y="373.73" width="2.40" height="2.40" fill="#111"/>
<line x1="299.30" y1="371.94" x2="299.30" y2="377.93" stroke="#111" stroke-width="0.9"/>
<line x1="297.90" y1="371.94" x2="300.70" y2="371.94" stroke="#111" stroke-width="0.9"/>
<line x1="297.90" y1="377.93" x2="300.70" y2="377.93" stroke="#111" stroke-width="0.9"/>
<rect x="310.80" y="371.71" width="2.40" height="2.40" fill="#111"/>
<line x1="312.00" y1="369.16" x2="312.00" y2="376.65" stroke="#111" stroke-width="0.9"/>
<line x1="310.60" y1="369.16" x2="313.40" y2="369.16" stroke="#111" stroke-width="0.9"/>
<line x1="310.60" y1="376.65" x2="313.40" y2="376.65" stroke="#111" stroke-width="0.9"/>
<rect x="323.50" y="369.69" width="2.40" height="2.40" fill="#111"/>
<line x1="324.70" y1="367.14" x2="324.70" y2="374.63" stroke="#111" stroke-width="0.9"/>
<line x1="323.30" y1="367.14" x2="326.10" y2="367.14" stroke="#111" stroke-width="0.9"/>
<line x1="323.30" y1="374.63" x2="326.10" y2="374.63" stroke="#111" stroke-width="0.9"/>
<rect x="336.20" y="366.24" width="2.40" height="2.40" fill="#111"/>
<line x1="337.40" y1="361.45" x2="337.40" y2="373.43" stroke="#111" stroke-width="0.9"/>
<line x1="336.00" y1="361.45" x2="338.80" y2="361.45" stroke="#111" stroke-width="0.9"/>
<line x1="336.00" y1="373.43" x2="338.80" y2="373.43" stroke="#111" stroke-width="0.9"/>
<rect x="247.30" y="387.06" width="2.40" height="2.40" fill="#111"/>
<rect x="260.00" y="385.56" width="2.40" height="2.40" fill="#111"/>
<line x1="261.20" y1="386.01" x2="261.20" y2="387.51" stroke="#111" stroke-width="0.9"/>
<line x1="259.80" y1="386.01" x2="262.60" y2="386.01" stroke="#111" stroke-width="0.9"/>
<line x1="259.80" y1="387.51" x2="262.60" y2="387.51" stroke="#111" stroke-width="0.9"/>
<rect x="272.70" y="383.51" width="2.40" height="2.40" fill="#111"/>
<line x1="273.90" y1="383.47" x2="273.90" y2="385.96" stroke="#111" stroke-width="0.9"/>
<line x1="272.50" y1="383.47" x2="275.30" y2="383.47" stroke="#111" stroke-width="0.9"/>
<line x1="272.50" y1="385.96" x2="275.30" y2="385.96" stroke="#111" stroke-width="0.9"/>
<rect x="285.40" y="381.49" width="2.40" height="2.40" fill="#111"/>
<line x1="286.60" y1="380.70" x2="286.60" y2="384.69" stroke="#111" stroke-width="0.9"/>
<line x1="285.20" y1="380.70" x2="288.00" y2="380.70" stroke="#111" stroke-width="0.9"/>
<line x1="285.20" y1="384.69" x2="288.00" y2="384.69" stroke="#111" stroke-width="0.9"/>
<rect x="298.10" y="379.47" width="2.40" height="2.40" fill="#111"/>
<line x1="299.30" y1="378.18" x2="299.30" y2="383.17" stroke="#111" stroke-width="0.9"/>
<line x1="297.90" y1="378.18" x2="300.70" y2="378.18" stroke="#111" stroke-width="0.9"/>
<line x1="297.90" y1="383.17" x2="300.70" y2="383.17" stroke="#111" stroke-width="0.9"/>
<rect x="310.80" y="376.95" width="2.40" height="2.40" fill="#111"/>
<line x1="312.00" y1="375.16" x2="312.00" y2="381.15" stroke="#111" stroke-width="0.9"/>
<line x1="310.60" y1="375.16" x2="313.40" y2="375.16" stroke="#111" stroke-width="0.9"/>
<line x1="310.60" y1="381.15" x2="313.40" y2="381.15" stroke="#111" stroke-width="0.9"/>
<rect x="323.50" y="374.58" width="2.40" height="2.40" fill="#111"/>
<line x1="324.70" y1="372.78" x2="324.70" y2="378.77" stroke="#111" stroke-width="0.9"/>
<line x1="323.30" y1="372.78" x2="326.10" y2="372.78" stroke="#111" stroke-width="0.9"/>
<line x1="323.30" y1="378.77" x2="326.10" y2="378.77" stroke="#111" stroke-width="0.9"/>
<rect x="336.20" y="369.86" width="2.40" height="2.40" fill="#111"/>
<line x1="337.40" y1="366.07" x2="337.40" y2="376.05" stroke="#111" stroke-width="0.9"/>
<line x1="336.00" y1="366.07" x2="338.80" y2="366.07" stroke="#111" stroke-width="0.9"/>
<line x1="336.00" y1="376.05" x2="338.80" y2="376.05" stroke="#111" stroke-width="0.9"/>
<rect x="247.30" y="387.06" width="2.40" height="2.40" fill="#111"/>
<rect x="260.00" y="386.01" width="2.40" height="2.40" fill="#111"/>
<line x1="261.20" y1="386.71" x2="261.20" y2="387.71" stroke="#111" stroke-width="0.9"/>
<line x1="259.80" y1="386.71" x2="262.60" y2="386.71" stroke="#111" stroke-width="0.9"/>
<line x1="259.80" y1="387.71" x2="262.60" y2="387.71" stroke="#111" stroke-width="0.9"/>
<rect x="272.70" y="385.41" width="2.40" height="2.40" fill="#111"/>
<line x1="273.90" y1="385.86" x2="273.90" y2="387.36" stroke="#111" stroke-width="0.9"/>
<line x1="272.50" y1="385.86" x2="275.30" y2="385.86" stroke="#111" stroke-width="0.9"/>
<line x1="272.50" y1="387.36" x2="275.30" y2="387.36" stroke="#111" stroke-width="0.9"/>
<rect x="285.40" y="384.99" width="2.40" height="2.40" fill="#111"/>
<line x1="286.60" y1="385.44" x2="286.60" y2="386.94" stroke="#111" stroke-width="0.9"/>
<line x1="285.20" y1="385.44" x2="288.00" y2="385.44" stroke="#111" stroke-width="0.9"/>
<line x1="285.20" y1="386.94" x2="288.00" y2="386.94" stroke="#111" stroke-width="0.9"/>
<rect x="298.10" y="384.19" width="2.40" height="2.40" fill="#111"/>
<line x1="299.30" y1="384.39" x2="299.30" y2="386.39" stroke="#111" stroke-width="0.9"/>
<line x1="297.90" y1="384.39" x2="300.70" y2="384.39" stroke="#111" stroke-width="0.9"/>
<line x1="297.90" y1="386.39" x2="300.70" y2="386.39" stroke="#111" stroke-width="0.9"/>
<rect x="310.80" y="383.37" width="2.40" height="2.40" fill="#111"/>
<line x1="312.00" y1="383.57" x2="312.00" y2="385.56" stroke="#111" stroke-width="0.9"/>
<line x1="310.60" y1="383.57" x2="313.40" y2="383.57" stroke="#111" stroke-width="0.9"/>
<line x1="310.60" y1="385.56" x2="313.40" y2="385.56" stroke="#111" stroke-width="0.9"/>
<rect x="323.50" y="382.57" width="2.40" height="2.40" fill="#111"/>
<line x1="324.70" y1="382.52" x2="324.70" y2="385.01" stroke="#111" stroke-width="0.9"/>
<line x1="323.30" y1="382.52" x2="326.10" y2="382.52" stroke="#111" stroke-width="0.9"/>
<line x1="323.30" y1="385.01" x2="326.10" y2="385.01" stroke="#111" stroke-width="0.9"/>
<rect x="336.20" y="380.32" width="2.40" height="2.40" fill="#111"/>
<line x1="337.40" y1="379.27" x2="337.40" y2="383.77" stroke="#111" stroke-width="0.9"/>
<line x1="336.00" y1="379.27" x2="338.80" y2="379.27" stroke="#111" stroke-width="0.9"/>
<line x1="336.00" y1="383.77" x2="338.80" y2="383.77" stroke="#111" stroke-width="0.9"/>
<line x1="240.40" y1="331.20" x2="240.40" y2="394.50" stroke="#111" stroke-width="1.25"/>
<line x1="239.80" y1="394.00" x2="344.60" y2="394.00" stroke="#111" stroke-width="1.5"/>
<line x1="238.00" y1="394.00" x2="240.40" y2="394.00" stroke="#111" stroke-width="0.9"/>
<text x="235.10" y="396.77" font-size="7.7" text-anchor="end">0</text>
<line x1="238.00" y1="381.52" x2="240.40" y2="381.52" stroke="#111" stroke-width="0.9"/>
<text x="235.10" y="384.29" font-size="7.7" text-anchor="end">500</text>
<line x1="238.00" y1="369.04" x2="240.40" y2="369.04" stroke="#111" stroke-width="0.9"/>
<text x="235.10" y="371.81" font-size="7.7" text-anchor="end">1,000</text>
<line x1="238.00" y1="356.56" x2="240.40" y2="356.56" stroke="#111" stroke-width="0.9"/>
<text x="235.10" y="359.33" font-size="7.7" text-anchor="end">1,500</text>
<line x1="238.00" y1="344.08" x2="240.40" y2="344.08" stroke="#111" stroke-width="0.9"/>
<text x="235.10" y="346.85" font-size="7.7" text-anchor="end">2,000</text>
<line x1="238.00" y1="331.60" x2="240.40" y2="331.60" stroke="#111" stroke-width="0.9"/>
<text x="235.10" y="334.37" font-size="7.7" text-anchor="end">2,500</text>
<line x1="248.50" y1="394.30" x2="248.50" y2="397.00" stroke="#111" stroke-width="0.9"/>
<text x="248.50" y="405.20" font-size="7.7" text-anchor="middle">12</text>
<line x1="261.20" y1="394.30" x2="261.20" y2="397.00" stroke="#111" stroke-width="0.9"/>
<text x="261.20" y="405.20" font-size="7.7" text-anchor="middle">14</text>
<line x1="273.90" y1="394.30" x2="273.90" y2="397.00" stroke="#111" stroke-width="0.9"/>
<text x="273.90" y="405.20" font-size="7.7" text-anchor="middle">16</text>
<line x1="286.60" y1="394.30" x2="286.60" y2="397.00" stroke="#111" stroke-width="0.9"/>
<text x="286.60" y="405.20" font-size="7.7" text-anchor="middle">18</text>
<line x1="299.30" y1="394.30" x2="299.30" y2="397.00" stroke="#111" stroke-width="0.9"/>
<text x="299.30" y="405.20" font-size="7.7" text-anchor="middle">20</text>
<line x1="312.00" y1="394.30" x2="312.00" y2="397.00" stroke="#111" stroke-width="0.9"/>
<text x="312.00" y="405.20" font-size="7.7" text-anchor="middle">22</text>
<line x1="324.70" y1="394.30" x2="324.70" y2="397.00" stroke="#111" stroke-width="0.9"/>
<text x="324.70" y="405.20" font-size="7.7" text-anchor="middle">24</text>
<line x1="337.40" y1="394.30" x2="337.40" y2="397.00" stroke="#111" stroke-width="0.9"/>
<text x="337.40" y="405.20" font-size="7.7" text-anchor="middle">26</text>
<text x="293.50" y="416.40" font-size="7.7" text-anchor="middle">Days after transplantation</text>
<text x="243.20" y="368.40" font-size="7.7">Dox/INN</text>
<line x1="248.50" y1="370.30" x2="248.50" y2="381.00" stroke="#111" stroke-width="0.9"/>
<path d="M246.3,378.2 L248.5,383.0 L250.7,378.2 Z" fill="#111"/>
<line x1="340.80" y1="347.40" x2="343.20" y2="347.40" stroke="#111" stroke-width="1.15"/>
<line x1="343.20" y1="347.40" x2="343.20" y2="379.70" stroke="#111" stroke-width="1.15"/>
<line x1="340.80" y1="379.70" x2="343.20" y2="379.70" stroke="#111" stroke-width="1.15"/>
<text x="345.00" y="345.60" font-size="7.7" transform="rotate(90 345.00 345.60)"><tspan font-style="italic">P</tspan> &lt; 0.0001</text>
<line x1="352.50" y1="368.80" x2="354.90" y2="368.80" stroke="#111" stroke-width="1.15"/>
<line x1="354.90" y1="368.80" x2="354.90" y2="380.30" stroke="#111" stroke-width="1.15"/>
<line x1="352.50" y1="380.30" x2="354.90" y2="380.30" stroke="#111" stroke-width="1.15"/>
<text x="358.70" y="356.50" font-size="7.7" transform="rotate(90 358.70 356.50)"><tspan font-style="italic">P</tspan> &lt; 0.0001</text>
<line x1="365.30" y1="366.60" x2="367.70" y2="366.60" stroke="#111" stroke-width="1.15"/>
<line x1="367.70" y1="366.60" x2="367.70" y2="379.70" stroke="#111" stroke-width="1.15"/>
<line x1="365.30" y1="379.70" x2="367.70" y2="379.70" stroke="#111" stroke-width="1.15"/>
<text x="371.60" y="355.60" font-size="7.7" transform="rotate(90 371.60 355.60)"><tspan font-style="italic">P</tspan> &lt; 0.0001</text>
<text x="385.40" y="315.20" font-size="12.2" font-weight="bold" fill="#000">G</text>
<text x="407.60" y="351.00" font-size="7.7" text-anchor="middle" transform="rotate(-90 407.60 351.00)">Tumor weight (g)</text>
<rect x="434.80" y="341.88" width="10.60" height="41.32" fill="#A8D4FA"/>
<line x1="440.10" y1="332.12" x2="440.10" y2="351.65" stroke="#111" stroke-width="1.0"/>
<line x1="438.40" y1="332.12" x2="441.80" y2="332.12" stroke="#111" stroke-width="1.1"/>
<line x1="438.40" y1="351.65" x2="441.80" y2="351.65" stroke="#111" stroke-width="1.1"/>
<circle cx="438.60" cy="328.36" r="1.05" fill="#111"/>
<circle cx="441.90" cy="335.62" r="1.05" fill="#111"/>
<circle cx="438.60" cy="336.88" r="1.05" fill="#111"/>
<circle cx="440.10" cy="344.39" r="1.05" fill="#111"/>
<circle cx="441.60" cy="349.40" r="1.05" fill="#111"/>
<circle cx="440.10" cy="351.90" r="1.05" fill="#111"/>
<circle cx="438.90" cy="346.89" r="1.05" fill="#111"/>
<rect x="451.00" y="363.17" width="10.60" height="20.03" fill="#A8D4FA"/>
<line x1="456.30" y1="358.16" x2="456.30" y2="368.18" stroke="#111" stroke-width="1.0"/>
<line x1="454.60" y1="358.16" x2="458.00" y2="358.16" stroke="#111" stroke-width="1.1"/>
<line x1="454.60" y1="368.18" x2="458.00" y2="368.18" stroke="#111" stroke-width="1.1"/>
<circle cx="453.80" cy="368.18" r="1.05" fill="#111"/>
<circle cx="458.80" cy="368.18" r="1.05" fill="#111"/>
<circle cx="456.30" cy="355.16" r="1.05" fill="#111"/>
<circle cx="455.30" cy="365.17" r="1.05" fill="#111"/>
<circle cx="457.50" cy="363.17" r="1.05" fill="#111"/>
<circle cx="456.30" cy="366.92" r="1.05" fill="#111"/>
<rect x="467.30" y="361.92" width="10.60" height="21.28" fill="#A8D4FA"/>
<line x1="472.60" y1="358.16" x2="472.60" y2="365.67" stroke="#111" stroke-width="1.0"/>
<line x1="470.90" y1="358.16" x2="474.30" y2="358.16" stroke="#111" stroke-width="1.1"/>
<line x1="470.90" y1="365.67" x2="474.30" y2="365.67" stroke="#111" stroke-width="1.1"/>
<circle cx="471.10" cy="358.16" r="1.05" fill="#111"/>
<circle cx="474.10" cy="359.41" r="1.05" fill="#111"/>
<circle cx="472.60" cy="365.67" r="1.05" fill="#111"/>
<circle cx="471.60" cy="361.92" r="1.05" fill="#111"/>
<circle cx="473.80" cy="368.18" r="1.05" fill="#111"/>
<circle cx="472.60" cy="357.66" r="1.05" fill="#111"/>
<rect x="483.80" y="373.68" width="10.60" height="9.52" fill="#A8D4FA"/>
<line x1="489.10" y1="372.93" x2="489.10" y2="374.44" stroke="#111" stroke-width="1.0"/>
<line x1="487.40" y1="372.93" x2="490.80" y2="372.93" stroke="#111" stroke-width="1.1"/>
<line x1="487.40" y1="374.44" x2="490.80" y2="374.44" stroke="#111" stroke-width="1.1"/>
<circle cx="486.10" cy="373.68" r="1.05" fill="#111"/>
<circle cx="492.10" cy="373.43" r="1.05" fill="#111"/>
<circle cx="489.10" cy="373.68" r="1.05" fill="#111"/>
<circle cx="487.60" cy="373.94" r="1.05" fill="#111"/>
<circle cx="490.60" cy="373.18" r="1.05" fill="#111"/>
<line x1="428.80" y1="320.20" x2="428.80" y2="383.70" stroke="#111" stroke-width="1.25"/>
<line x1="428.20" y1="383.20" x2="499.40" y2="383.20" stroke="#111" stroke-width="1.5"/>
<line x1="426.40" y1="383.20" x2="428.80" y2="383.20" stroke="#111" stroke-width="0.9"/>
<text x="424.80" y="385.97" font-size="7.7" text-anchor="end">0.0</text>
<line x1="426.40" y1="370.68" x2="428.80" y2="370.68" stroke="#111" stroke-width="0.9"/>
<text x="424.80" y="373.45" font-size="7.7" text-anchor="end">0.5</text>
<line x1="426.40" y1="358.16" x2="428.80" y2="358.16" stroke="#111" stroke-width="0.9"/>
<text x="424.80" y="360.93" font-size="7.7" text-anchor="end">1.0</text>
<line x1="426.40" y1="345.64" x2="428.80" y2="345.64" stroke="#111" stroke-width="0.9"/>
<text x="424.80" y="348.41" font-size="7.7" text-anchor="end">1.5</text>
<line x1="426.40" y1="333.12" x2="428.80" y2="333.12" stroke="#111" stroke-width="0.9"/>
<text x="424.80" y="335.89" font-size="7.7" text-anchor="end">2.0</text>
<line x1="426.40" y1="320.60" x2="428.80" y2="320.60" stroke="#111" stroke-width="0.9"/>
<text x="424.80" y="323.37" font-size="7.7" text-anchor="end">2.5</text>
<text x="423.70" y="396.90" font-size="7.7" text-anchor="end">Dox</text>
<text x="423.70" y="405.40" font-size="7.7" text-anchor="end">INN</text>
<text x="441.30" y="396.76" font-size="7.2" text-anchor="middle" class="sg">–</text>
<text x="456.00" y="397.62" font-size="7.2" text-anchor="middle" class="sg">+</text>
<text x="473.00" y="396.76" font-size="7.2" text-anchor="middle" class="sg">–</text>
<text x="488.90" y="397.62" font-size="7.2" text-anchor="middle" class="sg">+</text>
<text x="441.30" y="405.16" font-size="7.2" text-anchor="middle" class="sg">–</text>
<text x="456.00" y="405.16" font-size="7.2" text-anchor="middle" class="sg">–</text>
<text x="473.00" y="406.02" font-size="7.2" text-anchor="middle" class="sg">+</text>
<text x="488.90" y="406.02" font-size="7.2" text-anchor="middle" class="sg">+</text>
<line x1="439.10" y1="410.40" x2="488.90" y2="410.40" stroke="#111" stroke-width="1.4"/>
<text x="463.80" y="422.90" font-size="7.7" text-anchor="middle">MDA-MB-231.shMILIP.1</text>
<line x1="439.00" y1="305.80" x2="489.80" y2="305.80" stroke="#111" stroke-width="0.9"/>
<text x="444.30" y="302.70" font-size="7.7"><tspan font-style="italic">P</tspan> &lt; 0.0001</text>
<line x1="439.00" y1="315.90" x2="474.60" y2="315.90" stroke="#111" stroke-width="0.9"/>
<text x="440.30" y="312.50" font-size="7.7"><tspan font-style="italic">P</tspan> &lt; 0.0001</text>
<line x1="441.00" y1="328.70" x2="457.80" y2="328.70" stroke="#111" stroke-width="0.9"/>
<text x="431.90" y="322.60" font-size="7.7"><tspan font-style="italic">P</tspan> &lt; 0.0001</text>
<rect x="21.10" y="453.40" width="54.20" height="54.20" fill="rgb(196, 182, 188)"/>
<clipPath id="cp0"><rect x="21.10" y="453.40" width="54.20" height="54.20"/></clipPath>
<g clip-path="url(#cp0)"><g filter="url(#soft)">
<g fill="rgb(150, 92, 62)" fill-opacity="0.5"><ellipse cx="52.9" cy="503.5" rx="0.8" ry="1.2"/><ellipse cx="30.3" cy="485.1" rx="1.7" ry="0.9"/><ellipse cx="53.0" cy="477.9" rx="1.3" ry="1.1"/><ellipse cx="39.2" cy="472.1" rx="1.2" ry="1.6"/><ellipse cx="43.4" cy="472.6" rx="1.2" ry="2.0"/><ellipse cx="64.9" cy="474.5" rx="1.5" ry="0.8"/><ellipse cx="30.8" cy="507.7" rx="1.5" ry="0.8"/><ellipse cx="20.1" cy="460.9" rx="0.9" ry="1.1"/><ellipse cx="54.6" cy="460.7" rx="0.9" ry="1.3"/><ellipse cx="26.6" cy="479.8" rx="1.0" ry="2.1"/><ellipse cx="25.8" cy="471.7" rx="1.2" ry="1.3"/><ellipse cx="36.9" cy="488.5" rx="1.1" ry="1.2"/><ellipse cx="75.6" cy="506.1" rx="0.8" ry="1.4"/><ellipse cx="42.3" cy="475.0" rx="1.1" ry="2.1"/><ellipse cx="75.2" cy="489.3" rx="1.0" ry="1.4"/><ellipse cx="65.0" cy="493.2" rx="1.1" ry="1.1"/><ellipse cx="57.3" cy="498.2" rx="1.6" ry="1.2"/><ellipse cx="50.0" cy="481.8" rx="1.0" ry="1.0"/><ellipse cx="63.7" cy="460.8" rx="1.1" ry="1.2"/><ellipse cx="23.3" cy="463.2" rx="0.8" ry="1.0"/><ellipse cx="31.3" cy="468.0" rx="1.6" ry="1.2"/><ellipse cx="59.4" cy="501.7" rx="2.1" ry="0.9"/><ellipse cx="67.3" cy="460.1" rx="1.0" ry="1.1"/><ellipse cx="73.6" cy="474.8" rx="1.6" ry="1.3"/><ellipse cx="59.8" cy="508.3" rx="0.9" ry="1.5"/><ellipse cx="49.2" cy="469.0" rx="2.1" ry="0.8"/><ellipse cx="28.5" cy="504.1" rx="1.1" ry="1.7"/><ellipse cx="65.0" cy="462.7" rx="0.9" ry="2.0"/><ellipse cx="20.7" cy="508.3" rx="1.5" ry="1.2"/><ellipse cx="49.7" cy="465.8" rx="0.8" ry="1.1"/><ellipse cx="55.8" cy="475.1" rx="0.7" ry="1.4"/><ellipse cx="41.5" cy="479.1" rx="1.6" ry="0.8"/><ellipse cx="70.6" cy="457.6" rx="1.1" ry="1.6"/><ellipse cx="49.6" cy="505.9" rx="1.1" ry="1.2"/><ellipse cx="59.6" cy="465.4" rx="1.0" ry="2.0"/><ellipse cx="37.9" cy="499.6" rx="1.0" ry="1.1"/><ellipse cx="72.9" cy="463.4" rx="1.1" ry="1.0"/><ellipse cx="68.1" cy="468.2" rx="1.1" ry="1.1"/><ellipse cx="31.5" cy="456.9" rx="2.1" ry="0.9"/><ellipse cx="57.0" cy="469.3" rx="0.9" ry="1.6"/><ellipse cx="51.3" cy="470.3" rx="1.2" ry="1.4"/><ellipse cx="56.4" cy="476.7" rx="1.4" ry="1.2"/><ellipse cx="21.9" cy="492.3" rx="2.0" ry="1.0"/><ellipse cx="59.5" cy="500.0" rx="2.0" ry="0.8"/><ellipse cx="64.1" cy="465.5" rx="1.1" ry="2.1"/><ellipse cx="49.6" cy="485.2" rx="1.4" ry="0.8"/><ellipse cx="50.3" cy="508.4" rx="1.3" ry="0.9"/><ellipse cx="23.2" cy="463.3" rx="1.1" ry="2.0"/><ellipse cx="40.5" cy="474.7" rx="1.0" ry="0.9"/><ellipse cx="31.6" cy="506.9" rx="1.2" ry="1.4"/><ellipse cx="35.0" cy="502.4" rx="1.1" ry="1.1"/><ellipse cx="47.4" cy="503.6" rx="1.1" ry="1.0"/><ellipse cx="45.4" cy="492.4" rx="0.8" ry="1.4"/><ellipse cx="60.9" cy="499.6" rx="1.0" ry="2.1"/><ellipse cx="35.8" cy="472.2" rx="2.1" ry="0.8"/><ellipse cx="21.8" cy="475.5" rx="1.1" ry="1.9"/><ellipse cx="24.8" cy="457.8" rx="1.1" ry="1.6"/><ellipse cx="65.5" cy="489.1" rx="0.8" ry="2.1"/><ellipse cx="67.3" cy="503.8" rx="0.9" ry="1.0"/><ellipse cx="53.8" cy="498.9" rx="1.2" ry="0.8"/><ellipse cx="43.6" cy="455.3" rx="1.2" ry="1.9"/><ellipse cx="68.7" cy="508.4" rx="1.4" ry="0.8"/><ellipse cx="65.4" cy="474.7" rx="1.7" ry="1.2"/><ellipse cx="62.4" cy="496.9" rx="1.9" ry="0.9"/></g>
<g fill="rgb(150, 92, 62)" fill-opacity="0.7"><ellipse cx="38.3" cy="460.9" rx="1.8" ry="0.8"/><ellipse cx="51.8" cy="487.2" rx="1.6" ry="1.0"/><ellipse cx="75.2" cy="459.0" rx="1.1" ry="1.5"/><ellipse cx="43.8" cy="506.5" rx="1.1" ry="1.0"/><ellipse cx="52.6" cy="490.7" rx="1.5" ry="1.1"/><ellipse cx="21.4" cy="478.3" rx="0.8" ry="1.2"/><ellipse cx="27.4" cy="466.3" rx="1.2" ry="1.4"/><ellipse cx="28.6" cy="489.4" rx="1.2" ry="1.0"/><ellipse cx="65.2" cy="463.6" rx="1.6" ry="1.1"/><ellipse cx="38.4" cy="483.0" rx="2.0" ry="0.8"/><ellipse cx="60.7" cy="453.5" rx="1.0" ry="1.6"/><ellipse cx="74.7" cy="458.3" rx="1.3" ry="0.7"/><ellipse cx="62.6" cy="498.5" rx="2.0" ry="1.1"/><ellipse cx="65.2" cy="457.1" rx="2.0" ry="0.8"/><ellipse cx="55.3" cy="501.8" rx="1.5" ry="0.7"/><ellipse cx="69.0" cy="490.1" rx="0.9" ry="1.3"/><ellipse cx="38.3" cy="454.3" rx="0.8" ry="2.0"/><ellipse cx="25.2" cy="498.3" rx="1.0" ry="1.2"/><ellipse cx="70.3" cy="496.5" rx="1.7" ry="1.1"/><ellipse cx="58.5" cy="491.4" rx="0.7" ry="1.3"/><ellipse cx="67.7" cy="465.6" rx="1.9" ry="0.8"/><ellipse cx="25.7" cy="464.6" rx="1.1" ry="1.6"/><ellipse cx="46.3" cy="459.1" rx="2.0" ry="0.8"/><ellipse cx="21.1" cy="478.2" rx="1.2" ry="1.9"/><ellipse cx="73.5" cy="490.7" rx="1.1" ry="1.5"/><ellipse cx="42.2" cy="508.5" rx="0.9" ry="1.7"/><ellipse cx="34.1" cy="467.3" rx="0.8" ry="1.6"/><ellipse cx="56.3" cy="468.5" rx="1.2" ry="1.0"/><ellipse cx="43.4" cy="468.2" rx="1.3" ry="1.1"/><ellipse cx="24.3" cy="480.5" rx="1.0" ry="1.9"/><ellipse cx="76.1" cy="477.7" rx="0.8" ry="1.2"/><ellipse cx="62.2" cy="475.6" rx="1.0" ry="1.5"/><ellipse cx="55.5" cy="500.9" rx="0.9" ry="1.2"/><ellipse cx="24.2" cy="504.7" rx="1.0" ry="2.1"/><ellipse cx="55.3" cy="482.1" rx="1.1" ry="1.5"/><ellipse cx="46.8" cy="465.6" rx="1.3" ry="1.2"/><ellipse cx="57.6" cy="504.4" rx="0.7" ry="1.3"/><ellipse cx="32.1" cy="507.1" rx="0.7" ry="1.2"/><ellipse cx="46.7" cy="473.3" rx="0.8" ry="2.1"/><ellipse cx="73.3" cy="456.1" rx="2.0" ry="0.8"/><ellipse cx="73.7" cy="474.1" rx="1.0" ry="1.3"/><ellipse cx="62.8" cy="496.2" rx="0.9" ry="1.3"/><ellipse cx="60.0" cy="472.1" rx="0.9" ry="1.0"/><ellipse cx="22.2" cy="493.6" rx="2.1" ry="1.2"/><ellipse cx="25.2" cy="461.6" rx="0.9" ry="1.8"/><ellipse cx="28.3" cy="468.3" rx="1.2" ry="1.6"/><ellipse cx="55.0" cy="498.7" rx="1.1" ry="1.2"/></g>
<g fill="rgb(150, 92, 62)" fill-opacity="0.9"><ellipse cx="25.2" cy="476.3" rx="0.8" ry="2.0"/><ellipse cx="52.9" cy="455.9" rx="0.7" ry="1.7"/><ellipse cx="68.3" cy="468.7" rx="0.8" ry="1.2"/><ellipse cx="24.7" cy="469.3" rx="0.9" ry="1.6"/><ellipse cx="73.2" cy="479.0" rx="1.8" ry="0.8"/><ellipse cx="42.7" cy="468.0" rx="1.2" ry="1.0"/><ellipse cx="20.3" cy="475.9" rx="1.4" ry="1.0"/><ellipse cx="68.4" cy="505.8" rx="1.1" ry="1.8"/><ellipse cx="31.6" cy="505.9" rx="1.4" ry="1.1"/><ellipse cx="40.1" cy="464.9" rx="1.6" ry="1.0"/><ellipse cx="65.7" cy="507.8" rx="2.0" ry="1.2"/><ellipse cx="46.6" cy="463.3" rx="1.7" ry="0.9"/><ellipse cx="39.1" cy="479.5" rx="1.0" ry="2.1"/><ellipse cx="39.4" cy="488.5" rx="0.8" ry="2.0"/><ellipse cx="62.3" cy="479.3" rx="1.1" ry="1.2"/><ellipse cx="21.6" cy="485.6" rx="1.5" ry="1.1"/><ellipse cx="66.5" cy="464.3" rx="0.9" ry="1.3"/><ellipse cx="38.4" cy="481.5" rx="1.1" ry="1.6"/><ellipse cx="62.8" cy="503.7" rx="1.5" ry="1.1"/><ellipse cx="44.2" cy="464.4" rx="1.3" ry="0.8"/><ellipse cx="56.3" cy="473.0" rx="0.8" ry="1.3"/><ellipse cx="72.5" cy="487.7" rx="0.8" ry="1.6"/><ellipse cx="30.1" cy="471.9" rx="0.9" ry="1.0"/><ellipse cx="48.5" cy="507.4" rx="0.9" ry="1.6"/><ellipse cx="66.1" cy="476.7" rx="1.2" ry="1.6"/><ellipse cx="37.4" cy="464.5" rx="1.3" ry="0.8"/><ellipse cx="30.5" cy="467.5" rx="0.9" ry="1.0"/><ellipse cx="37.2" cy="465.5" rx="1.7" ry="1.0"/><ellipse cx="28.5" cy="493.1" rx="1.7" ry="0.7"/><ellipse cx="55.4" cy="493.6" rx="1.9" ry="0.8"/><ellipse cx="52.0" cy="498.1" rx="1.0" ry="1.1"/><ellipse cx="74.0" cy="473.6" rx="0.7" ry="1.5"/><ellipse cx="58.4" cy="479.9" rx="1.0" ry="1.2"/><ellipse cx="47.9" cy="473.9" rx="1.6" ry="1.1"/><ellipse cx="55.7" cy="463.5" rx="1.7" ry="0.9"/><ellipse cx="37.2" cy="484.3" rx="0.8" ry="1.0"/><ellipse cx="41.8" cy="503.9" rx="0.8" ry="2.1"/><ellipse cx="69.8" cy="498.0" rx="1.7" ry="1.2"/><ellipse cx="62.4" cy="480.4" rx="1.7" ry="0.9"/><ellipse cx="34.1" cy="458.5" rx="1.2" ry="1.0"/><ellipse cx="38.6" cy="462.8" rx="1.1" ry="2.1"/><ellipse cx="41.5" cy="495.6" rx="1.2" ry="1.4"/><ellipse cx="46.2" cy="497.5" rx="0.8" ry="1.1"/><ellipse cx="39.2" cy="467.7" rx="1.1" ry="2.1"/><ellipse cx="58.9" cy="504.3" rx="1.3" ry="1.1"/><ellipse cx="30.4" cy="497.5" rx="1.9" ry="1.2"/><ellipse cx="33.4" cy="500.8" rx="1.5" ry="1.1"/><ellipse cx="31.2" cy="494.7" rx="0.8" ry="1.3"/><ellipse cx="50.7" cy="461.4" rx="0.8" ry="1.5"/><ellipse cx="27.6" cy="478.3" rx="2.0" ry="0.8"/><ellipse cx="61.6" cy="463.6" rx="0.9" ry="1.3"/><ellipse cx="30.7" cy="456.0" rx="1.3" ry="0.9"/><ellipse cx="45.3" cy="467.0" rx="1.2" ry="1.9"/><ellipse cx="58.2" cy="462.8" rx="1.4" ry="0.8"/><ellipse cx="47.3" cy="475.3" rx="1.1" ry="1.9"/><ellipse cx="73.0" cy="476.8" rx="0.8" ry="1.2"/><ellipse cx="69.7" cy="478.3" rx="1.2" ry="0.7"/><ellipse cx="74.9" cy="479.5" rx="1.2" ry="1.1"/><ellipse cx="54.6" cy="463.4" rx="1.0" ry="1.5"/></g>
<g fill="rgb(105, 80, 115)" fill-opacity="0.6"><ellipse cx="28.9" cy="472.6" rx="0.9" ry="0.9"/><ellipse cx="22.4" cy="484.0" rx="1.2" ry="0.6"/><ellipse cx="52.8" cy="476.3" rx="0.7" ry="1.2"/><ellipse cx="25.3" cy="477.2" rx="1.1" ry="0.6"/><ellipse cx="65.9" cy="463.3" rx="1.3" ry="0.7"/><ellipse cx="54.7" cy="476.7" rx="0.9" ry="1.1"/><ellipse cx="45.0" cy="505.1" rx="1.2" ry="0.6"/><ellipse cx="23.6" cy="453.8" rx="0.9" ry="0.6"/><ellipse cx="56.2" cy="488.8" rx="1.0" ry="0.8"/><ellipse cx="37.0" cy="455.1" rx="1.3" ry="0.8"/><ellipse cx="41.2" cy="476.9" rx="1.3" ry="0.6"/><ellipse cx="44.6" cy="496.7" rx="1.1" ry="0.6"/><ellipse cx="24.9" cy="480.9" rx="0.9" ry="0.9"/><ellipse cx="73.2" cy="494.3" rx="0.9" ry="1.0"/><ellipse cx="75.0" cy="491.8" rx="0.8" ry="0.6"/><ellipse cx="70.2" cy="456.1" rx="1.3" ry="0.9"/><ellipse cx="67.9" cy="487.1" rx="0.7" ry="0.8"/><ellipse cx="39.6" cy="492.0" rx="1.1" ry="0.6"/><ellipse cx="52.4" cy="468.5" rx="0.7" ry="1.0"/><ellipse cx="53.4" cy="506.2" rx="0.7" ry="1.1"/><ellipse cx="61.8" cy="461.9" rx="1.0" ry="0.8"/><ellipse cx="76.0" cy="461.7" rx="0.6" ry="1.2"/><ellipse cx="64.8" cy="493.6" rx="1.0" ry="0.6"/><ellipse cx="49.2" cy="489.6" rx="0.9" ry="1.3"/><ellipse cx="41.9" cy="479.9" rx="1.3" ry="0.6"/><ellipse cx="74.7" cy="508.3" rx="0.7" ry="1.3"/><ellipse cx="65.6" cy="488.0" rx="0.7" ry="1.1"/><ellipse cx="62.8" cy="488.9" rx="1.2" ry="0.7"/><ellipse cx="35.1" cy="473.5" rx="0.7" ry="0.9"/><ellipse cx="54.3" cy="484.9" rx="0.6" ry="1.3"/><ellipse cx="31.8" cy="475.0" rx="1.1" ry="0.8"/><ellipse cx="32.1" cy="456.8" rx="0.8" ry="1.3"/><ellipse cx="56.4" cy="453.6" rx="0.8" ry="0.8"/><ellipse cx="51.3" cy="475.2" rx="0.7" ry="1.1"/><ellipse cx="69.1" cy="460.2" rx="1.0" ry="0.8"/><ellipse cx="43.8" cy="470.3" rx="1.0" ry="0.8"/><ellipse cx="75.2" cy="479.1" rx="1.0" ry="0.6"/><ellipse cx="70.4" cy="487.6" rx="1.0" ry="0.5"/><ellipse cx="61.3" cy="462.9" rx="0.8" ry="0.8"/><ellipse cx="54.3" cy="470.2" rx="0.8" ry="1.3"/><ellipse cx="44.2" cy="502.3" rx="1.0" ry="0.8"/></g>
<g fill="rgb(105, 80, 115)" fill-opacity="0.78"><ellipse cx="42.0" cy="478.0" rx="1.3" ry="0.8"/><ellipse cx="20.3" cy="507.8" rx="1.1" ry="0.7"/><ellipse cx="67.1" cy="498.0" rx="0.6" ry="1.0"/><ellipse cx="71.9" cy="470.0" rx="1.2" ry="0.6"/><ellipse cx="58.7" cy="492.9" rx="0.9" ry="0.8"/><ellipse cx="74.3" cy="479.4" rx="0.8" ry="1.1"/><ellipse cx="22.2" cy="462.6" rx="0.9" ry="0.9"/><ellipse cx="29.6" cy="496.5" rx="0.9" ry="0.7"/><ellipse cx="74.4" cy="477.9" rx="1.1" ry="0.8"/><ellipse cx="75.9" cy="487.8" rx="0.8" ry="1.0"/><ellipse cx="72.3" cy="502.7" rx="0.8" ry="1.2"/><ellipse cx="66.7" cy="461.3" rx="0.8" ry="0.8"/><ellipse cx="25.5" cy="488.3" rx="0.8" ry="1.3"/><ellipse cx="71.3" cy="460.5" rx="0.8" ry="0.6"/><ellipse cx="31.6" cy="470.3" rx="0.5" ry="1.0"/><ellipse cx="22.8" cy="495.1" rx="1.3" ry="0.8"/><ellipse cx="20.3" cy="480.0" rx="0.8" ry="1.1"/><ellipse cx="72.8" cy="465.4" rx="0.9" ry="0.9"/><ellipse cx="64.4" cy="491.6" rx="0.8" ry="1.2"/><ellipse cx="72.3" cy="502.5" rx="1.2" ry="0.7"/><ellipse cx="35.9" cy="502.2" rx="1.1" ry="0.5"/><ellipse cx="59.4" cy="500.3" rx="0.8" ry="1.2"/><ellipse cx="55.5" cy="466.5" rx="1.0" ry="0.7"/><ellipse cx="60.4" cy="505.9" rx="0.9" ry="0.7"/><ellipse cx="63.0" cy="459.3" rx="0.7" ry="1.3"/><ellipse cx="39.9" cy="488.3" rx="0.8" ry="1.3"/><ellipse cx="65.4" cy="497.3" rx="0.8" ry="1.0"/><ellipse cx="44.2" cy="488.2" rx="1.2" ry="0.7"/><ellipse cx="23.3" cy="498.9" rx="0.8" ry="1.3"/><ellipse cx="55.7" cy="453.2" rx="0.8" ry="0.9"/><ellipse cx="35.0" cy="465.6" rx="0.7" ry="0.9"/><ellipse cx="20.5" cy="499.7" rx="1.1" ry="0.7"/><ellipse cx="63.4" cy="464.2" rx="1.0" ry="0.7"/><ellipse cx="30.3" cy="454.5" rx="1.2" ry="0.9"/><ellipse cx="32.4" cy="459.2" rx="1.1" ry="0.6"/><ellipse cx="61.1" cy="457.1" rx="0.8" ry="1.1"/><ellipse cx="66.0" cy="456.9" rx="0.8" ry="1.0"/><ellipse cx="28.2" cy="497.2" rx="1.0" ry="0.8"/><ellipse cx="46.9" cy="496.1" rx="1.1" ry="0.6"/><ellipse cx="36.5" cy="455.8" rx="1.3" ry="0.8"/><ellipse cx="28.4" cy="507.2" rx="1.2" ry="0.7"/></g>
<g fill="rgb(105, 80, 115)" fill-opacity="0.95"><ellipse cx="56.8" cy="496.5" rx="0.8" ry="0.6"/><ellipse cx="29.0" cy="502.8" rx="0.8" ry="1.0"/><ellipse cx="52.5" cy="472.6" rx="0.7" ry="1.2"/><ellipse cx="73.9" cy="469.1" rx="1.1" ry="0.7"/><ellipse cx="54.5" cy="455.0" rx="0.7" ry="0.8"/><ellipse cx="40.2" cy="465.0" rx="0.8" ry="1.1"/><ellipse cx="74.5" cy="455.6" rx="1.3" ry="0.9"/><ellipse cx="20.8" cy="483.4" rx="0.6" ry="1.3"/><ellipse cx="32.8" cy="458.3" rx="0.6" ry="0.9"/><ellipse cx="72.1" cy="505.4" rx="1.0" ry="0.6"/><ellipse cx="41.4" cy="500.3" rx="1.3" ry="0.9"/><ellipse cx="46.5" cy="499.6" rx="0.8" ry="1.2"/><ellipse cx="33.2" cy="502.1" rx="1.2" ry="0.7"/><ellipse cx="59.3" cy="493.8" rx="0.8" ry="0.8"/><ellipse cx="34.0" cy="463.8" rx="0.8" ry="0.9"/><ellipse cx="25.0" cy="494.6" rx="0.7" ry="1.2"/><ellipse cx="31.7" cy="467.2" rx="0.7" ry="1.3"/><ellipse cx="33.2" cy="478.3" rx="1.1" ry="0.8"/><ellipse cx="22.0" cy="485.1" rx="0.9" ry="1.1"/><ellipse cx="38.9" cy="488.5" rx="0.7" ry="1.2"/><ellipse cx="66.6" cy="487.1" rx="1.2" ry="0.9"/><ellipse cx="49.4" cy="461.4" rx="1.0" ry="0.6"/><ellipse cx="59.1" cy="480.5" rx="0.7" ry="1.2"/><ellipse cx="61.6" cy="452.7" rx="0.9" ry="0.8"/><ellipse cx="62.2" cy="476.1" rx="0.9" ry="0.8"/><ellipse cx="34.7" cy="491.8" rx="0.6" ry="1.3"/><ellipse cx="50.5" cy="492.7" rx="1.1" ry="0.8"/><ellipse cx="39.4" cy="494.1" rx="0.9" ry="1.1"/><ellipse cx="41.6" cy="455.9" rx="0.9" ry="0.9"/><ellipse cx="39.9" cy="467.3" rx="0.9" ry="0.8"/><ellipse cx="57.7" cy="502.6" rx="0.8" ry="1.2"/><ellipse cx="71.0" cy="491.8" rx="0.9" ry="0.6"/><ellipse cx="41.2" cy="475.9" rx="1.3" ry="0.6"/><ellipse cx="48.8" cy="479.6" rx="1.3" ry="0.6"/><ellipse cx="27.2" cy="457.7" rx="1.2" ry="0.7"/><ellipse cx="36.6" cy="498.9" rx="0.7" ry="1.0"/><ellipse cx="39.5" cy="463.8" rx="0.6" ry="1.1"/><ellipse cx="36.9" cy="485.4" rx="0.8" ry="1.2"/><ellipse cx="30.8" cy="504.2" rx="1.1" ry="0.8"/><ellipse cx="54.5" cy="487.1" rx="1.1" ry="0.8"/><ellipse cx="24.8" cy="454.6" rx="0.8" ry="1.2"/><ellipse cx="48.1" cy="481.7" rx="0.8" ry="1.3"/><ellipse cx="71.7" cy="477.5" rx="0.8" ry="0.7"/><ellipse cx="71.4" cy="455.4" rx="0.8" ry="0.6"/><ellipse cx="69.0" cy="493.2" rx="0.8" ry="0.6"/><ellipse cx="65.5" cy="468.3" rx="0.6" ry="0.8"/><ellipse cx="71.8" cy="495.3" rx="0.6" ry="1.2"/><ellipse cx="39.6" cy="457.2" rx="0.8" ry="1.1"/></g>
</g></g>
<rect x="78.80" y="453.40" width="53.80" height="54.20" fill="rgb(198, 190, 204)"/>
<clipPath id="cp1"><rect x="78.80" y="453.40" width="53.80" height="54.20"/></clipPath>
<g clip-path="url(#cp1)"><g filter="url(#soft)">
<g fill="rgb(135, 68, 58)" fill-opacity="0.5"><ellipse cx="129.8" cy="465.6" rx="0.9" ry="1.4"/><ellipse cx="94.0" cy="484.9" rx="1.2" ry="1.0"/><ellipse cx="80.3" cy="508.4" rx="1.2" ry="0.6"/><ellipse cx="86.5" cy="486.0" rx="0.8" ry="1.2"/><ellipse cx="124.9" cy="471.4" rx="0.8" ry="1.8"/><ellipse cx="108.9" cy="501.3" rx="1.3" ry="1.0"/><ellipse cx="121.7" cy="492.3" rx="1.0" ry="1.5"/><ellipse cx="108.7" cy="460.5" rx="0.7" ry="1.7"/><ellipse cx="79.2" cy="484.5" rx="1.0" ry="1.1"/><ellipse cx="127.8" cy="455.6" rx="1.5" ry="0.7"/><ellipse cx="93.8" cy="472.6" rx="0.8" ry="0.9"/><ellipse cx="85.5" cy="462.5" rx="0.9" ry="1.6"/><ellipse cx="124.1" cy="502.4" rx="0.9" ry="1.5"/><ellipse cx="112.0" cy="492.2" rx="0.9" ry="1.6"/><ellipse cx="85.2" cy="489.8" rx="1.1" ry="0.9"/><ellipse cx="121.3" cy="501.2" rx="1.0" ry="1.4"/><ellipse cx="131.0" cy="480.2" rx="1.3" ry="0.8"/><ellipse cx="123.4" cy="454.1" rx="0.9" ry="0.9"/><ellipse cx="120.3" cy="458.6" rx="0.9" ry="1.0"/><ellipse cx="125.8" cy="460.7" rx="0.9" ry="1.4"/><ellipse cx="114.8" cy="453.0" rx="0.7" ry="0.9"/><ellipse cx="112.4" cy="504.0" rx="1.4" ry="0.9"/><ellipse cx="85.1" cy="468.9" rx="0.7" ry="1.2"/><ellipse cx="105.2" cy="468.4" rx="1.8" ry="0.7"/><ellipse cx="97.6" cy="495.3" rx="1.3" ry="1.0"/><ellipse cx="92.8" cy="487.8" rx="0.9" ry="1.4"/><ellipse cx="94.5" cy="482.6" rx="0.8" ry="1.6"/><ellipse cx="117.5" cy="483.5" rx="0.8" ry="1.7"/><ellipse cx="127.8" cy="481.3" rx="1.0" ry="0.7"/><ellipse cx="80.8" cy="465.8" rx="1.0" ry="0.7"/><ellipse cx="95.1" cy="501.6" rx="1.0" ry="1.3"/><ellipse cx="84.2" cy="482.4" rx="0.8" ry="1.2"/><ellipse cx="117.9" cy="460.6" rx="0.8" ry="0.9"/></g>
<g fill="rgb(135, 68, 58)" fill-opacity="0.7"><ellipse cx="89.2" cy="501.3" rx="0.9" ry="1.4"/><ellipse cx="101.6" cy="505.6" rx="1.6" ry="1.0"/><ellipse cx="126.0" cy="488.4" rx="0.9" ry="1.7"/><ellipse cx="109.3" cy="488.4" rx="0.9" ry="1.8"/><ellipse cx="125.2" cy="473.2" rx="0.9" ry="1.1"/><ellipse cx="130.3" cy="455.7" rx="1.4" ry="0.6"/><ellipse cx="95.5" cy="452.7" rx="1.0" ry="0.9"/><ellipse cx="120.1" cy="458.3" rx="0.7" ry="1.1"/><ellipse cx="99.0" cy="477.2" rx="1.6" ry="1.0"/><ellipse cx="126.2" cy="502.3" rx="0.8" ry="1.0"/><ellipse cx="124.8" cy="487.7" rx="1.3" ry="0.8"/><ellipse cx="84.3" cy="473.0" rx="0.9" ry="1.1"/><ellipse cx="129.4" cy="483.9" rx="1.6" ry="0.7"/><ellipse cx="101.9" cy="467.1" rx="0.7" ry="1.1"/><ellipse cx="116.4" cy="481.6" rx="1.6" ry="1.0"/><ellipse cx="96.5" cy="499.7" rx="0.8" ry="1.7"/><ellipse cx="86.9" cy="473.3" rx="1.4" ry="0.6"/><ellipse cx="131.9" cy="456.4" rx="1.2" ry="0.7"/><ellipse cx="124.5" cy="488.2" rx="0.7" ry="1.3"/><ellipse cx="130.1" cy="474.2" rx="1.2" ry="1.0"/><ellipse cx="80.8" cy="481.5" rx="1.0" ry="1.8"/><ellipse cx="106.0" cy="453.6" rx="1.0" ry="1.0"/><ellipse cx="112.5" cy="466.5" rx="1.3" ry="0.8"/><ellipse cx="119.1" cy="468.5" rx="0.9" ry="1.3"/><ellipse cx="89.0" cy="492.3" rx="1.3" ry="0.8"/><ellipse cx="99.9" cy="504.3" rx="1.0" ry="1.0"/><ellipse cx="108.6" cy="486.5" rx="1.2" ry="0.9"/><ellipse cx="101.1" cy="490.0" rx="1.0" ry="0.7"/><ellipse cx="123.6" cy="481.5" rx="1.5" ry="0.9"/><ellipse cx="86.1" cy="500.2" rx="0.9" ry="1.1"/><ellipse cx="99.3" cy="470.5" rx="1.0" ry="1.6"/><ellipse cx="82.7" cy="504.1" rx="1.1" ry="1.0"/><ellipse cx="127.8" cy="469.2" rx="1.3" ry="0.7"/><ellipse cx="115.5" cy="477.9" rx="0.6" ry="0.8"/><ellipse cx="98.7" cy="474.9" rx="1.4" ry="0.9"/><ellipse cx="119.5" cy="457.6" rx="0.8" ry="1.2"/><ellipse cx="133.3" cy="488.2" rx="0.9" ry="0.8"/><ellipse cx="120.8" cy="470.5" rx="0.8" ry="1.5"/><ellipse cx="99.3" cy="455.5" rx="1.7" ry="0.9"/><ellipse cx="95.4" cy="502.9" rx="1.6" ry="0.7"/><ellipse cx="132.5" cy="456.2" rx="1.5" ry="0.9"/><ellipse cx="87.3" cy="473.7" rx="1.0" ry="0.8"/><ellipse cx="101.4" cy="503.7" rx="0.8" ry="1.4"/><ellipse cx="85.0" cy="463.4" rx="1.4" ry="1.0"/><ellipse cx="124.5" cy="497.6" rx="1.0" ry="0.8"/><ellipse cx="112.9" cy="485.0" rx="0.8" ry="1.1"/><ellipse cx="115.5" cy="505.3" rx="0.9" ry="1.8"/></g>
<g fill="rgb(135, 68, 58)" fill-opacity="0.9"><ellipse cx="129.5" cy="485.4" rx="0.8" ry="0.8"/><ellipse cx="122.8" cy="495.8" rx="1.1" ry="0.9"/><ellipse cx="95.7" cy="480.8" rx="0.7" ry="1.0"/><ellipse cx="117.8" cy="463.4" rx="1.0" ry="0.9"/><ellipse cx="95.5" cy="503.2" rx="1.0" ry="0.9"/><ellipse cx="102.5" cy="480.9" rx="1.3" ry="0.8"/><ellipse cx="91.4" cy="457.4" rx="0.7" ry="1.4"/><ellipse cx="126.3" cy="492.7" rx="0.7" ry="0.9"/><ellipse cx="132.0" cy="455.3" rx="1.2" ry="0.8"/><ellipse cx="102.1" cy="507.5" rx="1.6" ry="1.0"/><ellipse cx="113.1" cy="497.9" rx="1.0" ry="1.7"/><ellipse cx="84.1" cy="471.9" rx="1.0" ry="0.6"/><ellipse cx="128.1" cy="457.1" rx="1.0" ry="1.4"/><ellipse cx="123.5" cy="454.1" rx="1.2" ry="0.7"/><ellipse cx="78.0" cy="495.4" rx="1.4" ry="0.8"/><ellipse cx="116.4" cy="468.6" rx="1.2" ry="0.8"/><ellipse cx="89.2" cy="476.4" rx="0.6" ry="1.7"/><ellipse cx="106.7" cy="481.5" rx="0.8" ry="1.5"/><ellipse cx="105.0" cy="477.1" rx="1.0" ry="1.4"/><ellipse cx="106.4" cy="458.6" rx="1.7" ry="0.9"/><ellipse cx="127.4" cy="476.1" rx="1.0" ry="0.7"/><ellipse cx="127.6" cy="475.6" rx="0.9" ry="0.9"/><ellipse cx="115.1" cy="463.5" rx="0.8" ry="1.3"/><ellipse cx="86.5" cy="495.1" rx="0.6" ry="0.9"/><ellipse cx="105.2" cy="478.7" rx="1.2" ry="1.0"/><ellipse cx="112.9" cy="500.7" rx="0.6" ry="1.7"/><ellipse cx="91.0" cy="454.4" rx="0.8" ry="1.5"/><ellipse cx="107.6" cy="475.1" rx="1.3" ry="0.7"/><ellipse cx="106.4" cy="482.9" rx="0.9" ry="1.1"/><ellipse cx="95.7" cy="489.6" rx="0.9" ry="0.9"/></g>
<g fill="rgb(100, 90, 140)" fill-opacity="0.6"><ellipse cx="109.9" cy="505.0" rx="0.9" ry="0.8"/><ellipse cx="126.6" cy="485.3" rx="1.2" ry="0.9"/><ellipse cx="112.7" cy="481.0" rx="1.2" ry="0.6"/><ellipse cx="105.1" cy="463.0" rx="1.3" ry="0.8"/><ellipse cx="108.3" cy="506.9" rx="0.7" ry="1.2"/><ellipse cx="109.2" cy="471.1" rx="1.3" ry="0.7"/><ellipse cx="115.6" cy="461.1" rx="0.8" ry="1.3"/><ellipse cx="131.2" cy="479.8" rx="0.7" ry="1.2"/><ellipse cx="113.8" cy="487.7" rx="0.8" ry="1.3"/><ellipse cx="90.6" cy="460.1" rx="0.8" ry="1.3"/><ellipse cx="80.1" cy="484.3" rx="1.1" ry="0.8"/><ellipse cx="82.8" cy="454.6" rx="1.0" ry="0.6"/><ellipse cx="79.6" cy="486.7" rx="0.7" ry="1.3"/><ellipse cx="91.2" cy="477.2" rx="1.0" ry="0.6"/><ellipse cx="84.1" cy="481.2" rx="0.6" ry="1.1"/><ellipse cx="122.5" cy="459.9" rx="1.1" ry="0.7"/><ellipse cx="81.0" cy="465.7" rx="1.0" ry="0.5"/><ellipse cx="103.5" cy="459.2" rx="0.9" ry="0.9"/><ellipse cx="118.9" cy="505.7" rx="1.2" ry="0.6"/><ellipse cx="97.7" cy="470.8" rx="1.1" ry="0.6"/><ellipse cx="92.0" cy="463.3" rx="1.1" ry="0.8"/><ellipse cx="96.4" cy="453.6" rx="0.9" ry="1.1"/><ellipse cx="128.2" cy="457.8" rx="0.9" ry="0.7"/><ellipse cx="81.8" cy="506.5" rx="1.0" ry="0.7"/><ellipse cx="91.9" cy="484.5" rx="0.9" ry="1.2"/><ellipse cx="80.5" cy="456.5" rx="1.3" ry="0.7"/><ellipse cx="88.3" cy="482.6" rx="1.3" ry="0.8"/><ellipse cx="104.3" cy="489.2" rx="1.2" ry="0.7"/><ellipse cx="105.8" cy="483.6" rx="0.9" ry="0.9"/><ellipse cx="118.7" cy="456.1" rx="1.2" ry="0.7"/><ellipse cx="90.5" cy="473.5" rx="1.3" ry="0.7"/><ellipse cx="121.9" cy="479.2" rx="1.3" ry="0.8"/><ellipse cx="123.7" cy="468.3" rx="1.0" ry="0.7"/><ellipse cx="95.6" cy="486.7" rx="0.6" ry="1.3"/><ellipse cx="126.0" cy="508.3" rx="0.5" ry="1.0"/><ellipse cx="132.5" cy="454.2" rx="0.9" ry="0.8"/><ellipse cx="85.3" cy="485.8" rx="1.1" ry="0.8"/><ellipse cx="133.1" cy="470.2" rx="0.6" ry="1.3"/><ellipse cx="129.5" cy="466.7" rx="0.7" ry="1.1"/><ellipse cx="98.1" cy="463.9" rx="0.9" ry="0.7"/><ellipse cx="123.7" cy="478.3" rx="1.2" ry="0.8"/><ellipse cx="85.0" cy="487.2" rx="1.3" ry="0.8"/><ellipse cx="103.6" cy="478.4" rx="0.7" ry="1.3"/><ellipse cx="120.8" cy="459.0" rx="0.9" ry="0.6"/><ellipse cx="105.5" cy="500.1" rx="0.9" ry="0.7"/><ellipse cx="85.6" cy="475.3" rx="0.8" ry="0.8"/><ellipse cx="123.7" cy="454.4" rx="0.7" ry="0.9"/><ellipse cx="122.6" cy="485.7" rx="0.9" ry="1.1"/><ellipse cx="81.0" cy="476.8" rx="1.2" ry="0.6"/><ellipse cx="123.2" cy="480.3" rx="0.8" ry="0.8"/><ellipse cx="105.6" cy="490.3" rx="0.6" ry="1.2"/><ellipse cx="85.9" cy="504.0" rx="0.6" ry="0.9"/><ellipse cx="94.2" cy="465.5" rx="1.1" ry="0.7"/><ellipse cx="132.5" cy="474.4" rx="0.8" ry="0.7"/></g>
<g fill="rgb(100, 90, 140)" fill-opacity="0.78"><ellipse cx="116.4" cy="502.8" rx="0.8" ry="0.8"/><ellipse cx="90.0" cy="490.5" rx="0.8" ry="1.0"/><ellipse cx="119.3" cy="508.5" rx="1.1" ry="0.6"/><ellipse cx="117.2" cy="490.1" rx="0.9" ry="0.6"/><ellipse cx="84.2" cy="468.7" rx="0.6" ry="1.0"/><ellipse cx="94.8" cy="458.6" rx="0.9" ry="1.0"/><ellipse cx="104.0" cy="472.8" rx="0.6" ry="0.9"/><ellipse cx="82.5" cy="492.7" rx="0.7" ry="1.3"/><ellipse cx="82.2" cy="494.4" rx="0.7" ry="0.8"/><ellipse cx="124.1" cy="494.1" rx="1.0" ry="0.6"/><ellipse cx="112.8" cy="460.4" rx="0.9" ry="0.6"/><ellipse cx="115.5" cy="484.3" rx="1.1" ry="0.7"/><ellipse cx="109.7" cy="505.9" rx="0.8" ry="1.1"/><ellipse cx="109.2" cy="504.0" rx="1.3" ry="0.6"/><ellipse cx="121.9" cy="479.8" rx="0.6" ry="0.8"/><ellipse cx="120.3" cy="467.5" rx="1.0" ry="0.5"/><ellipse cx="115.7" cy="474.5" rx="1.1" ry="0.6"/><ellipse cx="90.6" cy="506.2" rx="1.1" ry="0.7"/><ellipse cx="127.7" cy="485.5" rx="0.6" ry="0.8"/><ellipse cx="96.3" cy="478.7" rx="0.7" ry="1.3"/><ellipse cx="118.4" cy="460.5" rx="1.0" ry="0.6"/><ellipse cx="97.4" cy="483.4" rx="0.6" ry="1.0"/><ellipse cx="127.1" cy="496.4" rx="1.1" ry="0.9"/><ellipse cx="86.2" cy="463.9" rx="0.8" ry="1.3"/><ellipse cx="109.5" cy="469.4" rx="0.6" ry="0.9"/><ellipse cx="110.4" cy="456.9" rx="0.9" ry="0.7"/><ellipse cx="132.0" cy="491.2" rx="1.2" ry="0.9"/><ellipse cx="128.0" cy="467.9" rx="0.5" ry="0.9"/><ellipse cx="91.0" cy="453.5" rx="0.8" ry="0.7"/><ellipse cx="95.7" cy="501.2" rx="0.8" ry="0.7"/><ellipse cx="87.5" cy="500.9" rx="1.2" ry="0.6"/><ellipse cx="132.9" cy="474.9" rx="0.9" ry="1.3"/><ellipse cx="109.3" cy="507.9" rx="0.8" ry="0.8"/><ellipse cx="86.5" cy="453.4" rx="0.9" ry="0.7"/><ellipse cx="132.6" cy="484.7" rx="0.9" ry="0.8"/><ellipse cx="120.4" cy="496.0" rx="1.0" ry="0.8"/><ellipse cx="128.2" cy="501.3" rx="1.3" ry="0.8"/><ellipse cx="121.2" cy="466.0" rx="1.3" ry="0.7"/><ellipse cx="79.5" cy="453.6" rx="0.6" ry="1.2"/><ellipse cx="125.3" cy="493.7" rx="0.8" ry="0.8"/><ellipse cx="85.2" cy="469.4" rx="1.1" ry="0.7"/><ellipse cx="115.9" cy="457.5" rx="1.0" ry="0.9"/><ellipse cx="105.7" cy="458.7" rx="1.0" ry="0.7"/><ellipse cx="87.7" cy="467.3" rx="0.8" ry="0.6"/><ellipse cx="121.9" cy="505.9" rx="0.7" ry="1.0"/><ellipse cx="92.8" cy="476.1" rx="0.7" ry="1.1"/><ellipse cx="114.8" cy="457.3" rx="1.1" ry="0.6"/><ellipse cx="77.9" cy="494.3" rx="1.3" ry="0.7"/><ellipse cx="90.9" cy="487.8" rx="1.2" ry="0.7"/><ellipse cx="91.8" cy="458.2" rx="1.0" ry="0.8"/><ellipse cx="104.5" cy="497.3" rx="1.2" ry="0.6"/><ellipse cx="105.1" cy="489.5" rx="1.1" ry="0.7"/><ellipse cx="121.4" cy="504.1" rx="0.7" ry="1.2"/><ellipse cx="89.0" cy="482.8" rx="0.6" ry="1.3"/><ellipse cx="106.7" cy="452.7" rx="0.6" ry="1.3"/><ellipse cx="80.7" cy="469.5" rx="1.3" ry="0.8"/><ellipse cx="101.5" cy="501.2" rx="0.6" ry="1.3"/><ellipse cx="114.3" cy="491.4" rx="0.6" ry="0.9"/></g>
<g fill="rgb(100, 90, 140)" fill-opacity="0.95"><ellipse cx="120.1" cy="463.2" rx="0.6" ry="1.2"/><ellipse cx="100.1" cy="472.4" rx="1.3" ry="0.7"/><ellipse cx="125.9" cy="459.8" rx="1.0" ry="0.6"/><ellipse cx="97.4" cy="487.7" rx="0.9" ry="0.6"/><ellipse cx="86.5" cy="493.9" rx="1.1" ry="0.8"/><ellipse cx="124.6" cy="484.4" rx="0.6" ry="1.2"/><ellipse cx="122.0" cy="464.2" rx="0.8" ry="1.3"/><ellipse cx="130.6" cy="476.2" rx="1.3" ry="0.8"/><ellipse cx="87.2" cy="471.9" rx="0.8" ry="0.9"/><ellipse cx="85.2" cy="488.4" rx="1.2" ry="0.6"/><ellipse cx="88.2" cy="488.3" rx="0.9" ry="1.3"/><ellipse cx="130.5" cy="480.2" rx="0.6" ry="1.1"/><ellipse cx="114.7" cy="481.3" rx="0.7" ry="1.0"/><ellipse cx="131.1" cy="462.3" rx="0.7" ry="1.2"/><ellipse cx="132.0" cy="503.5" rx="1.3" ry="0.9"/><ellipse cx="82.3" cy="497.9" rx="1.2" ry="0.7"/><ellipse cx="107.4" cy="488.0" rx="1.3" ry="0.6"/><ellipse cx="82.6" cy="489.5" rx="0.7" ry="1.0"/><ellipse cx="108.4" cy="458.7" rx="0.6" ry="1.3"/><ellipse cx="115.2" cy="492.3" rx="0.9" ry="0.7"/><ellipse cx="112.8" cy="506.4" rx="1.1" ry="0.7"/><ellipse cx="87.4" cy="506.4" rx="0.8" ry="1.1"/><ellipse cx="122.7" cy="493.8" rx="0.6" ry="0.8"/><ellipse cx="126.6" cy="490.0" rx="0.8" ry="1.3"/><ellipse cx="105.8" cy="501.5" rx="0.6" ry="1.2"/><ellipse cx="109.5" cy="482.1" rx="0.9" ry="1.3"/><ellipse cx="98.1" cy="468.2" rx="1.2" ry="0.9"/><ellipse cx="126.0" cy="488.8" rx="0.9" ry="0.8"/><ellipse cx="123.2" cy="476.2" rx="1.1" ry="0.8"/><ellipse cx="109.0" cy="472.7" rx="0.6" ry="1.1"/><ellipse cx="100.2" cy="507.4" rx="0.8" ry="1.3"/><ellipse cx="128.1" cy="474.3" rx="0.8" ry="0.9"/><ellipse cx="120.2" cy="488.5" rx="0.9" ry="1.0"/><ellipse cx="107.1" cy="452.5" rx="0.9" ry="0.7"/><ellipse cx="132.0" cy="500.3" rx="0.6" ry="1.3"/><ellipse cx="108.2" cy="483.2" rx="1.2" ry="0.9"/><ellipse cx="127.0" cy="497.6" rx="0.8" ry="1.3"/><ellipse cx="116.5" cy="470.6" rx="0.7" ry="1.2"/><ellipse cx="132.3" cy="467.4" rx="0.8" ry="1.2"/><ellipse cx="114.9" cy="504.3" rx="1.2" ry="0.6"/><ellipse cx="97.2" cy="485.5" rx="0.9" ry="1.1"/><ellipse cx="95.8" cy="472.7" rx="0.7" ry="1.3"/><ellipse cx="114.8" cy="467.9" rx="0.7" ry="1.0"/><ellipse cx="78.8" cy="463.7" rx="0.6" ry="1.1"/><ellipse cx="108.2" cy="503.9" rx="0.6" ry="0.9"/><ellipse cx="113.3" cy="500.7" rx="0.9" ry="0.7"/><ellipse cx="131.9" cy="476.6" rx="0.6" ry="1.1"/><ellipse cx="114.9" cy="470.9" rx="0.8" ry="0.8"/><ellipse cx="100.9" cy="505.0" rx="0.8" ry="1.2"/><ellipse cx="102.3" cy="480.0" rx="1.1" ry="0.8"/><ellipse cx="117.5" cy="479.5" rx="0.8" ry="0.8"/><ellipse cx="99.2" cy="489.7" rx="1.0" ry="0.7"/><ellipse cx="94.8" cy="459.8" rx="0.9" ry="0.8"/><ellipse cx="105.1" cy="485.2" rx="0.8" ry="1.0"/><ellipse cx="108.8" cy="455.3" rx="0.7" ry="1.0"/><ellipse cx="130.9" cy="475.7" rx="1.2" ry="0.6"/><ellipse cx="95.1" cy="466.9" rx="1.1" ry="0.6"/><ellipse cx="115.7" cy="458.8" rx="1.3" ry="0.6"/></g>
</g></g>
<rect x="21.10" y="509.60" width="54.20" height="54.00" fill="rgb(202, 198, 212)"/>
<clipPath id="cp2"><rect x="21.10" y="509.60" width="54.20" height="54.00"/></clipPath>
<g clip-path="url(#cp2)"><g filter="url(#soft)">
<g fill="rgb(150, 85, 60)" fill-opacity="0.5"><ellipse cx="50.5" cy="513.6" rx="1.0" ry="0.8"/><ellipse cx="52.6" cy="525.4" rx="0.7" ry="1.5"/><ellipse cx="73.2" cy="545.4" rx="0.8" ry="0.9"/><ellipse cx="52.6" cy="528.4" rx="1.0" ry="1.3"/><ellipse cx="40.7" cy="519.7" rx="0.7" ry="1.3"/><ellipse cx="60.9" cy="538.5" rx="0.7" ry="1.1"/><ellipse cx="47.5" cy="552.9" rx="1.0" ry="1.5"/><ellipse cx="60.0" cy="512.1" rx="1.1" ry="0.9"/><ellipse cx="53.4" cy="518.8" rx="1.2" ry="1.1"/><ellipse cx="63.4" cy="520.0" rx="1.8" ry="1.0"/><ellipse cx="76.1" cy="552.9" rx="1.4" ry="0.9"/><ellipse cx="63.5" cy="536.4" rx="1.0" ry="1.1"/><ellipse cx="26.6" cy="562.8" rx="1.7" ry="0.8"/><ellipse cx="28.3" cy="539.1" rx="0.8" ry="1.0"/><ellipse cx="50.3" cy="522.1" rx="0.9" ry="1.1"/><ellipse cx="30.7" cy="555.1" rx="0.9" ry="1.0"/><ellipse cx="37.3" cy="548.3" rx="1.6" ry="1.1"/><ellipse cx="53.2" cy="563.6" rx="1.5" ry="0.8"/><ellipse cx="48.0" cy="511.3" rx="1.1" ry="1.4"/><ellipse cx="45.4" cy="555.5" rx="1.0" ry="1.5"/><ellipse cx="35.8" cy="538.6" rx="1.0" ry="1.6"/><ellipse cx="72.2" cy="524.8" rx="1.1" ry="1.0"/><ellipse cx="61.1" cy="552.6" rx="1.0" ry="1.6"/><ellipse cx="35.4" cy="520.5" rx="1.1" ry="0.7"/><ellipse cx="40.3" cy="547.8" rx="1.0" ry="1.0"/><ellipse cx="51.3" cy="553.8" rx="1.0" ry="0.9"/><ellipse cx="64.7" cy="520.3" rx="1.8" ry="1.0"/></g>
<g fill="rgb(150, 85, 60)" fill-opacity="0.7"><ellipse cx="72.9" cy="538.1" rx="1.2" ry="0.8"/><ellipse cx="51.5" cy="514.0" rx="1.5" ry="1.0"/><ellipse cx="22.1" cy="510.8" rx="1.5" ry="0.8"/><ellipse cx="57.3" cy="513.6" rx="0.9" ry="0.9"/><ellipse cx="50.5" cy="526.8" rx="0.9" ry="1.1"/><ellipse cx="28.7" cy="523.4" rx="0.9" ry="0.8"/><ellipse cx="32.2" cy="551.9" rx="0.8" ry="1.1"/><ellipse cx="25.0" cy="522.3" rx="1.0" ry="1.6"/><ellipse cx="62.3" cy="544.2" rx="1.1" ry="0.9"/><ellipse cx="70.1" cy="511.4" rx="1.6" ry="0.8"/><ellipse cx="66.5" cy="531.3" rx="1.0" ry="1.0"/><ellipse cx="21.0" cy="514.8" rx="1.7" ry="0.8"/><ellipse cx="25.8" cy="539.5" rx="0.9" ry="1.8"/><ellipse cx="57.5" cy="512.9" rx="1.5" ry="0.9"/><ellipse cx="62.2" cy="510.6" rx="1.2" ry="0.7"/><ellipse cx="43.7" cy="563.4" rx="1.6" ry="1.0"/><ellipse cx="29.2" cy="549.9" rx="0.8" ry="1.1"/><ellipse cx="74.7" cy="552.1" rx="1.0" ry="1.3"/><ellipse cx="31.2" cy="526.6" rx="0.7" ry="1.3"/><ellipse cx="26.9" cy="533.8" rx="0.9" ry="0.9"/><ellipse cx="25.5" cy="542.4" rx="1.7" ry="1.0"/><ellipse cx="29.4" cy="518.5" rx="1.0" ry="1.6"/><ellipse cx="42.3" cy="561.3" rx="0.8" ry="1.7"/><ellipse cx="35.5" cy="513.6" rx="1.0" ry="0.8"/><ellipse cx="32.8" cy="557.2" rx="1.9" ry="1.0"/></g>
<g fill="rgb(150, 85, 60)" fill-opacity="0.9"><ellipse cx="70.1" cy="559.7" rx="0.8" ry="1.1"/><ellipse cx="38.6" cy="529.0" rx="1.0" ry="1.0"/><ellipse cx="28.5" cy="513.9" rx="0.7" ry="1.8"/><ellipse cx="52.1" cy="515.4" rx="0.7" ry="1.6"/><ellipse cx="25.3" cy="548.8" rx="1.2" ry="0.7"/><ellipse cx="62.0" cy="555.2" rx="0.9" ry="1.7"/><ellipse cx="64.2" cy="557.4" rx="1.2" ry="1.1"/><ellipse cx="33.6" cy="541.5" rx="1.5" ry="1.1"/><ellipse cx="57.4" cy="559.2" rx="0.8" ry="1.3"/><ellipse cx="36.5" cy="513.5" rx="1.0" ry="1.2"/><ellipse cx="42.0" cy="527.2" rx="0.7" ry="1.0"/><ellipse cx="69.7" cy="562.4" rx="1.2" ry="0.8"/><ellipse cx="25.9" cy="522.4" rx="1.5" ry="1.0"/><ellipse cx="71.1" cy="536.5" rx="1.1" ry="1.3"/><ellipse cx="26.8" cy="529.7" rx="0.9" ry="1.2"/><ellipse cx="28.2" cy="541.5" rx="0.7" ry="1.5"/><ellipse cx="47.8" cy="563.2" rx="1.1" ry="1.3"/><ellipse cx="38.1" cy="553.0" rx="1.4" ry="0.7"/><ellipse cx="35.6" cy="528.9" rx="0.9" ry="1.8"/><ellipse cx="40.0" cy="561.2" rx="0.8" ry="1.2"/><ellipse cx="39.8" cy="519.0" rx="1.8" ry="0.9"/><ellipse cx="48.3" cy="556.3" rx="0.9" ry="1.6"/><ellipse cx="57.8" cy="550.8" rx="1.4" ry="1.1"/><ellipse cx="74.6" cy="560.7" rx="1.3" ry="0.8"/><ellipse cx="41.7" cy="558.8" rx="1.6" ry="1.0"/><ellipse cx="45.8" cy="551.4" rx="1.3" ry="0.9"/><ellipse cx="36.6" cy="561.0" rx="0.9" ry="1.9"/><ellipse cx="32.6" cy="518.3" rx="0.8" ry="1.7"/></g>
<g fill="rgb(100, 95, 145)" fill-opacity="0.6"><ellipse cx="69.6" cy="543.2" rx="0.8" ry="0.9"/><ellipse cx="36.0" cy="519.5" rx="0.7" ry="1.2"/><ellipse cx="62.1" cy="561.7" rx="1.3" ry="0.8"/><ellipse cx="47.4" cy="513.2" rx="1.0" ry="0.7"/><ellipse cx="63.6" cy="549.2" rx="0.9" ry="0.9"/><ellipse cx="20.8" cy="520.6" rx="0.7" ry="1.1"/><ellipse cx="39.1" cy="539.9" rx="1.1" ry="0.8"/><ellipse cx="33.8" cy="559.3" rx="1.0" ry="0.6"/><ellipse cx="54.2" cy="515.2" rx="1.1" ry="0.7"/><ellipse cx="22.3" cy="513.9" rx="0.8" ry="1.3"/><ellipse cx="56.0" cy="560.1" rx="0.6" ry="1.0"/><ellipse cx="48.9" cy="514.5" rx="1.2" ry="0.9"/><ellipse cx="75.4" cy="542.9" rx="0.9" ry="0.7"/><ellipse cx="37.5" cy="525.2" rx="0.7" ry="1.1"/><ellipse cx="62.9" cy="555.5" rx="0.8" ry="1.3"/><ellipse cx="20.2" cy="551.8" rx="0.7" ry="0.9"/><ellipse cx="26.9" cy="534.2" rx="0.9" ry="0.6"/><ellipse cx="72.8" cy="531.4" rx="1.3" ry="0.8"/><ellipse cx="73.4" cy="524.5" rx="1.0" ry="0.7"/><ellipse cx="56.5" cy="537.2" rx="0.9" ry="1.3"/><ellipse cx="34.4" cy="530.7" rx="1.2" ry="0.6"/><ellipse cx="68.5" cy="534.4" rx="0.6" ry="1.0"/><ellipse cx="26.1" cy="520.3" rx="1.0" ry="0.7"/><ellipse cx="25.1" cy="541.3" rx="0.6" ry="0.8"/><ellipse cx="34.2" cy="529.1" rx="0.6" ry="1.1"/><ellipse cx="36.1" cy="529.9" rx="0.6" ry="1.2"/><ellipse cx="63.0" cy="556.4" rx="0.9" ry="0.9"/><ellipse cx="47.0" cy="518.3" rx="0.7" ry="0.9"/><ellipse cx="30.3" cy="521.3" rx="0.9" ry="1.1"/><ellipse cx="33.2" cy="535.3" rx="0.9" ry="1.1"/><ellipse cx="57.7" cy="509.9" rx="1.0" ry="0.6"/><ellipse cx="27.8" cy="522.1" rx="0.9" ry="0.9"/><ellipse cx="32.6" cy="517.0" rx="1.2" ry="0.9"/><ellipse cx="61.8" cy="543.6" rx="1.1" ry="0.8"/><ellipse cx="74.0" cy="552.6" rx="0.9" ry="0.7"/><ellipse cx="40.3" cy="545.7" rx="0.6" ry="1.2"/><ellipse cx="62.7" cy="526.2" rx="1.2" ry="0.8"/><ellipse cx="42.2" cy="515.2" rx="1.1" ry="0.6"/><ellipse cx="22.7" cy="558.8" rx="1.1" ry="0.7"/><ellipse cx="24.0" cy="508.9" rx="0.8" ry="0.9"/><ellipse cx="29.9" cy="559.0" rx="0.6" ry="1.2"/><ellipse cx="38.6" cy="536.7" rx="0.9" ry="0.8"/><ellipse cx="45.8" cy="550.6" rx="0.7" ry="1.1"/><ellipse cx="74.0" cy="553.1" rx="1.0" ry="0.7"/><ellipse cx="63.6" cy="526.3" rx="0.7" ry="1.0"/><ellipse cx="60.5" cy="557.3" rx="0.7" ry="1.2"/><ellipse cx="41.0" cy="533.6" rx="1.3" ry="0.9"/><ellipse cx="23.0" cy="524.7" rx="0.6" ry="1.2"/><ellipse cx="32.8" cy="519.0" rx="0.8" ry="1.2"/><ellipse cx="39.1" cy="522.5" rx="0.9" ry="0.7"/><ellipse cx="30.6" cy="532.0" rx="1.3" ry="0.9"/><ellipse cx="64.4" cy="522.8" rx="0.8" ry="0.6"/><ellipse cx="63.4" cy="540.4" rx="1.3" ry="0.8"/><ellipse cx="66.2" cy="527.9" rx="1.3" ry="0.8"/><ellipse cx="75.1" cy="561.6" rx="1.1" ry="0.7"/><ellipse cx="61.1" cy="528.8" rx="0.8" ry="0.6"/><ellipse cx="61.2" cy="519.1" rx="1.1" ry="0.7"/><ellipse cx="54.1" cy="529.8" rx="0.9" ry="1.3"/></g>
<g fill="rgb(100, 95, 145)" fill-opacity="0.78"><ellipse cx="64.5" cy="550.2" rx="1.2" ry="0.6"/><ellipse cx="34.9" cy="528.5" rx="0.9" ry="0.8"/><ellipse cx="45.7" cy="514.3" rx="0.9" ry="0.6"/><ellipse cx="21.3" cy="559.5" rx="1.2" ry="0.9"/><ellipse cx="46.2" cy="511.0" rx="0.7" ry="1.3"/><ellipse cx="73.2" cy="533.2" rx="1.1" ry="0.9"/><ellipse cx="57.9" cy="548.6" rx="0.9" ry="0.8"/><ellipse cx="53.5" cy="553.4" rx="0.9" ry="0.6"/><ellipse cx="65.7" cy="534.2" rx="0.8" ry="0.9"/><ellipse cx="61.1" cy="556.2" rx="0.6" ry="1.3"/><ellipse cx="58.4" cy="556.2" rx="0.9" ry="1.0"/><ellipse cx="44.9" cy="548.2" rx="0.6" ry="0.9"/><ellipse cx="41.6" cy="517.7" rx="0.9" ry="0.9"/><ellipse cx="20.8" cy="538.7" rx="0.7" ry="1.0"/><ellipse cx="56.5" cy="520.8" rx="1.2" ry="0.9"/><ellipse cx="23.9" cy="509.4" rx="0.6" ry="1.0"/><ellipse cx="24.2" cy="513.6" rx="0.8" ry="1.2"/><ellipse cx="22.9" cy="545.8" rx="0.6" ry="1.3"/><ellipse cx="47.5" cy="514.8" rx="0.7" ry="1.1"/><ellipse cx="32.6" cy="550.3" rx="1.1" ry="0.9"/><ellipse cx="26.3" cy="561.4" rx="0.6" ry="1.1"/><ellipse cx="27.5" cy="553.8" rx="0.6" ry="1.2"/><ellipse cx="56.5" cy="551.9" rx="0.6" ry="1.2"/><ellipse cx="67.9" cy="524.6" rx="0.8" ry="1.3"/><ellipse cx="52.9" cy="561.2" rx="0.8" ry="1.0"/><ellipse cx="55.0" cy="520.7" rx="1.3" ry="0.6"/><ellipse cx="35.3" cy="563.2" rx="0.6" ry="1.2"/><ellipse cx="28.8" cy="554.1" rx="1.1" ry="0.7"/><ellipse cx="76.2" cy="516.2" rx="0.8" ry="1.0"/><ellipse cx="23.0" cy="559.8" rx="0.5" ry="0.9"/><ellipse cx="62.4" cy="518.4" rx="0.6" ry="0.9"/><ellipse cx="49.9" cy="546.7" rx="1.0" ry="0.7"/><ellipse cx="24.4" cy="558.9" rx="1.1" ry="0.6"/><ellipse cx="45.1" cy="527.6" rx="1.2" ry="0.9"/><ellipse cx="55.8" cy="548.1" rx="1.3" ry="0.6"/><ellipse cx="72.6" cy="562.9" rx="0.9" ry="0.7"/><ellipse cx="36.5" cy="550.5" rx="1.3" ry="0.7"/><ellipse cx="62.3" cy="555.6" rx="0.6" ry="1.0"/><ellipse cx="45.5" cy="534.8" rx="1.2" ry="0.8"/><ellipse cx="45.6" cy="519.4" rx="0.9" ry="0.9"/><ellipse cx="37.9" cy="554.4" rx="0.7" ry="1.1"/><ellipse cx="26.7" cy="523.1" rx="1.2" ry="0.9"/><ellipse cx="67.8" cy="554.5" rx="0.7" ry="1.0"/><ellipse cx="32.9" cy="512.6" rx="0.8" ry="0.8"/><ellipse cx="71.5" cy="542.2" rx="0.9" ry="1.3"/><ellipse cx="43.5" cy="557.9" rx="0.6" ry="1.2"/><ellipse cx="72.2" cy="545.5" rx="1.3" ry="0.8"/><ellipse cx="65.2" cy="520.9" rx="0.9" ry="1.3"/></g>
<g fill="rgb(100, 95, 145)" fill-opacity="0.95"><ellipse cx="57.1" cy="522.7" rx="0.7" ry="1.2"/><ellipse cx="40.0" cy="532.0" rx="1.3" ry="0.8"/><ellipse cx="26.0" cy="550.0" rx="0.7" ry="1.2"/><ellipse cx="67.9" cy="538.2" rx="0.7" ry="0.9"/><ellipse cx="62.9" cy="540.5" rx="0.9" ry="1.2"/><ellipse cx="20.4" cy="540.3" rx="1.2" ry="0.6"/><ellipse cx="42.7" cy="561.3" rx="0.8" ry="1.3"/><ellipse cx="62.8" cy="558.0" rx="0.9" ry="0.6"/><ellipse cx="24.2" cy="510.3" rx="1.2" ry="0.6"/><ellipse cx="45.8" cy="546.2" rx="0.6" ry="1.1"/><ellipse cx="20.5" cy="512.8" rx="0.9" ry="0.8"/><ellipse cx="41.8" cy="563.7" rx="0.7" ry="1.3"/><ellipse cx="62.4" cy="513.1" rx="0.8" ry="0.6"/><ellipse cx="26.0" cy="554.8" rx="0.8" ry="1.0"/><ellipse cx="60.3" cy="564.0" rx="0.9" ry="0.7"/><ellipse cx="58.9" cy="520.3" rx="1.0" ry="0.9"/><ellipse cx="28.1" cy="512.5" rx="0.7" ry="0.8"/><ellipse cx="30.3" cy="516.6" rx="0.9" ry="0.9"/><ellipse cx="72.7" cy="528.5" rx="0.6" ry="1.1"/><ellipse cx="35.1" cy="533.5" rx="0.7" ry="0.9"/><ellipse cx="32.0" cy="513.3" rx="0.9" ry="1.0"/><ellipse cx="23.9" cy="548.0" rx="1.1" ry="0.6"/><ellipse cx="56.8" cy="537.4" rx="0.8" ry="0.7"/><ellipse cx="65.3" cy="561.6" rx="0.8" ry="1.2"/><ellipse cx="29.5" cy="541.4" rx="1.1" ry="0.7"/><ellipse cx="65.5" cy="545.2" rx="0.6" ry="1.1"/><ellipse cx="56.3" cy="531.7" rx="1.3" ry="0.6"/><ellipse cx="50.6" cy="531.1" rx="0.8" ry="0.9"/><ellipse cx="69.5" cy="514.9" rx="1.1" ry="0.9"/><ellipse cx="24.5" cy="541.2" rx="0.7" ry="1.3"/><ellipse cx="56.6" cy="517.8" rx="0.8" ry="0.7"/><ellipse cx="29.2" cy="513.7" rx="0.8" ry="1.1"/><ellipse cx="64.9" cy="553.5" rx="0.8" ry="0.9"/><ellipse cx="51.9" cy="516.3" rx="0.7" ry="0.9"/><ellipse cx="21.8" cy="549.2" rx="0.9" ry="0.6"/><ellipse cx="27.5" cy="512.1" rx="1.1" ry="0.7"/><ellipse cx="72.5" cy="557.7" rx="0.6" ry="1.1"/><ellipse cx="26.1" cy="512.5" rx="0.7" ry="1.0"/><ellipse cx="49.0" cy="533.8" rx="0.9" ry="1.3"/><ellipse cx="63.3" cy="513.5" rx="1.3" ry="0.6"/><ellipse cx="27.3" cy="534.7" rx="0.6" ry="1.1"/><ellipse cx="63.4" cy="533.1" rx="0.7" ry="0.9"/><ellipse cx="63.1" cy="532.4" rx="0.6" ry="1.0"/><ellipse cx="61.4" cy="515.9" rx="0.9" ry="0.9"/><ellipse cx="75.0" cy="543.1" rx="1.0" ry="0.8"/><ellipse cx="42.3" cy="524.5" rx="1.3" ry="0.5"/><ellipse cx="75.8" cy="549.4" rx="0.8" ry="1.2"/><ellipse cx="38.4" cy="533.1" rx="1.0" ry="0.6"/><ellipse cx="68.3" cy="562.1" rx="1.3" ry="0.7"/><ellipse cx="56.1" cy="526.0" rx="1.1" ry="0.7"/><ellipse cx="46.5" cy="559.0" rx="1.2" ry="0.7"/><ellipse cx="53.3" cy="532.8" rx="0.7" ry="1.2"/><ellipse cx="36.5" cy="537.5" rx="1.2" ry="0.6"/><ellipse cx="55.9" cy="512.9" rx="1.0" ry="0.7"/></g>
</g></g>
<rect x="78.80" y="509.60" width="53.80" height="54.00" fill="rgb(194, 196, 218)"/>
<clipPath id="cp3"><rect x="78.80" y="509.60" width="53.80" height="54.00"/></clipPath>
<g clip-path="url(#cp3)"><g filter="url(#soft)">
<g fill="rgb(120, 80, 110)" fill-opacity="0.5"><ellipse cx="128.6" cy="539.5" rx="1.1" ry="1.7"/><ellipse cx="89.4" cy="509.9" rx="1.4" ry="1.1"/><ellipse cx="106.3" cy="560.8" rx="1.5" ry="0.7"/><ellipse cx="112.9" cy="511.6" rx="1.7" ry="1.0"/><ellipse cx="117.5" cy="548.4" rx="1.2" ry="1.0"/><ellipse cx="112.3" cy="525.6" rx="0.7" ry="1.0"/></g>
<g fill="rgb(120, 80, 110)" fill-opacity="0.7"><ellipse cx="87.6" cy="557.5" rx="1.0" ry="1.9"/><ellipse cx="115.6" cy="516.6" rx="1.4" ry="0.9"/><ellipse cx="100.6" cy="549.0" rx="1.9" ry="0.7"/></g>
<g fill="rgb(120, 80, 110)" fill-opacity="0.9"><ellipse cx="101.5" cy="542.3" rx="0.8" ry="1.1"/><ellipse cx="119.6" cy="521.9" rx="0.9" ry="1.1"/><ellipse cx="105.1" cy="508.7" rx="1.8" ry="1.1"/></g>
<g fill="rgb(115, 115, 170)" fill-opacity="0.6"><ellipse cx="104.9" cy="561.5" rx="1.0" ry="0.6"/><ellipse cx="105.7" cy="521.6" rx="0.6" ry="0.9"/><ellipse cx="97.6" cy="532.4" rx="0.7" ry="0.9"/><ellipse cx="122.5" cy="517.4" rx="0.7" ry="1.0"/><ellipse cx="78.7" cy="553.4" rx="0.8" ry="0.8"/><ellipse cx="93.2" cy="527.2" rx="1.2" ry="0.6"/><ellipse cx="82.0" cy="520.3" rx="0.6" ry="1.1"/><ellipse cx="81.0" cy="523.4" rx="1.1" ry="0.8"/><ellipse cx="108.5" cy="560.2" rx="0.8" ry="0.8"/><ellipse cx="119.8" cy="542.0" rx="0.5" ry="1.3"/><ellipse cx="80.0" cy="527.0" rx="0.6" ry="1.1"/><ellipse cx="120.3" cy="540.7" rx="0.7" ry="1.2"/><ellipse cx="102.5" cy="549.3" rx="0.9" ry="0.8"/><ellipse cx="104.2" cy="515.2" rx="1.1" ry="0.6"/><ellipse cx="125.7" cy="523.1" rx="0.7" ry="1.0"/><ellipse cx="123.3" cy="515.3" rx="0.7" ry="0.9"/><ellipse cx="128.4" cy="521.1" rx="0.6" ry="1.2"/><ellipse cx="98.3" cy="539.6" rx="0.7" ry="1.2"/><ellipse cx="99.3" cy="539.3" rx="0.5" ry="0.9"/><ellipse cx="114.8" cy="550.8" rx="0.5" ry="0.9"/><ellipse cx="128.2" cy="541.6" rx="0.5" ry="1.2"/><ellipse cx="106.6" cy="526.7" rx="1.3" ry="0.6"/><ellipse cx="129.1" cy="529.3" rx="0.6" ry="1.0"/><ellipse cx="105.5" cy="534.5" rx="0.8" ry="1.1"/><ellipse cx="91.0" cy="551.0" rx="0.8" ry="0.9"/><ellipse cx="133.2" cy="511.3" rx="0.6" ry="1.3"/><ellipse cx="88.9" cy="523.1" rx="0.8" ry="1.2"/><ellipse cx="101.4" cy="525.9" rx="0.8" ry="1.0"/><ellipse cx="87.4" cy="532.8" rx="1.2" ry="0.5"/><ellipse cx="103.1" cy="522.0" rx="1.0" ry="0.7"/><ellipse cx="114.7" cy="527.1" rx="0.8" ry="0.7"/><ellipse cx="86.5" cy="512.5" rx="1.0" ry="0.8"/><ellipse cx="122.9" cy="524.9" rx="0.8" ry="1.2"/><ellipse cx="80.3" cy="548.7" rx="0.5" ry="1.2"/><ellipse cx="117.5" cy="524.1" rx="0.7" ry="1.3"/><ellipse cx="117.8" cy="515.1" rx="0.7" ry="1.0"/><ellipse cx="79.0" cy="532.7" rx="0.5" ry="1.1"/><ellipse cx="114.3" cy="546.5" rx="0.7" ry="1.1"/><ellipse cx="88.2" cy="514.3" rx="0.8" ry="0.9"/><ellipse cx="125.4" cy="527.2" rx="0.8" ry="1.2"/><ellipse cx="121.4" cy="549.8" rx="0.6" ry="0.8"/><ellipse cx="127.0" cy="515.4" rx="1.1" ry="0.7"/><ellipse cx="86.7" cy="562.1" rx="1.3" ry="0.8"/><ellipse cx="95.1" cy="557.4" rx="1.1" ry="0.5"/><ellipse cx="109.0" cy="523.9" rx="1.2" ry="0.7"/><ellipse cx="98.2" cy="563.7" rx="1.1" ry="0.6"/><ellipse cx="96.7" cy="532.0" rx="0.6" ry="1.3"/><ellipse cx="133.5" cy="519.7" rx="0.6" ry="1.0"/><ellipse cx="121.9" cy="534.2" rx="1.2" ry="0.6"/><ellipse cx="105.3" cy="539.4" rx="0.8" ry="0.5"/><ellipse cx="127.5" cy="533.2" rx="1.2" ry="0.7"/><ellipse cx="89.1" cy="558.9" rx="0.5" ry="0.9"/><ellipse cx="90.5" cy="513.7" rx="1.2" ry="0.7"/><ellipse cx="99.1" cy="539.0" rx="1.0" ry="0.8"/><ellipse cx="100.2" cy="517.6" rx="1.0" ry="0.8"/><ellipse cx="107.1" cy="517.2" rx="1.2" ry="0.7"/><ellipse cx="111.4" cy="543.7" rx="0.8" ry="0.8"/><ellipse cx="88.4" cy="514.2" rx="0.7" ry="1.0"/><ellipse cx="113.8" cy="532.9" rx="0.9" ry="0.5"/><ellipse cx="86.8" cy="541.4" rx="0.7" ry="0.9"/><ellipse cx="90.5" cy="540.7" rx="0.6" ry="1.1"/><ellipse cx="132.5" cy="517.4" rx="0.9" ry="0.6"/><ellipse cx="90.3" cy="522.2" rx="1.2" ry="0.7"/><ellipse cx="84.2" cy="550.6" rx="0.7" ry="1.0"/><ellipse cx="123.4" cy="557.6" rx="1.0" ry="0.7"/><ellipse cx="106.8" cy="521.6" rx="0.5" ry="0.8"/><ellipse cx="93.4" cy="514.7" rx="0.8" ry="0.7"/><ellipse cx="86.4" cy="530.4" rx="1.1" ry="0.6"/><ellipse cx="123.4" cy="554.0" rx="0.8" ry="1.0"/><ellipse cx="94.8" cy="511.9" rx="0.8" ry="0.7"/><ellipse cx="130.6" cy="556.6" rx="1.2" ry="0.6"/><ellipse cx="114.7" cy="514.5" rx="1.0" ry="0.7"/><ellipse cx="103.8" cy="555.6" rx="0.9" ry="0.8"/><ellipse cx="111.4" cy="563.7" rx="1.2" ry="0.6"/><ellipse cx="87.3" cy="517.3" rx="0.6" ry="1.1"/><ellipse cx="103.8" cy="533.3" rx="0.8" ry="1.1"/><ellipse cx="105.9" cy="522.4" rx="0.8" ry="0.9"/><ellipse cx="96.5" cy="532.9" rx="0.9" ry="0.6"/><ellipse cx="120.2" cy="526.4" rx="0.8" ry="0.7"/><ellipse cx="124.5" cy="554.2" rx="0.7" ry="0.8"/><ellipse cx="78.8" cy="535.5" rx="0.8" ry="1.0"/><ellipse cx="110.2" cy="509.3" rx="1.0" ry="0.6"/></g>
<g fill="rgb(115, 115, 170)" fill-opacity="0.78"><ellipse cx="103.8" cy="555.3" rx="1.0" ry="0.5"/><ellipse cx="97.6" cy="543.9" rx="0.6" ry="1.2"/><ellipse cx="98.2" cy="556.3" rx="1.2" ry="0.7"/><ellipse cx="127.9" cy="553.4" rx="0.6" ry="0.8"/><ellipse cx="93.1" cy="537.8" rx="0.8" ry="0.7"/><ellipse cx="113.5" cy="535.3" rx="0.9" ry="0.6"/><ellipse cx="87.9" cy="542.7" rx="0.8" ry="1.1"/><ellipse cx="121.9" cy="540.8" rx="1.0" ry="0.8"/><ellipse cx="92.4" cy="542.8" rx="0.8" ry="0.8"/><ellipse cx="125.7" cy="564.0" rx="0.8" ry="1.0"/><ellipse cx="82.7" cy="552.1" rx="0.6" ry="0.8"/><ellipse cx="79.8" cy="555.3" rx="0.5" ry="0.9"/><ellipse cx="111.4" cy="557.0" rx="0.8" ry="1.1"/><ellipse cx="99.2" cy="543.6" rx="0.6" ry="1.3"/><ellipse cx="131.5" cy="560.3" rx="0.8" ry="0.7"/><ellipse cx="98.3" cy="562.3" rx="1.3" ry="0.6"/><ellipse cx="133.2" cy="546.6" rx="0.5" ry="1.1"/><ellipse cx="82.7" cy="524.3" rx="1.2" ry="0.7"/><ellipse cx="86.1" cy="529.0" rx="1.1" ry="0.8"/><ellipse cx="112.6" cy="545.2" rx="0.8" ry="0.8"/><ellipse cx="88.9" cy="513.5" rx="0.8" ry="1.1"/><ellipse cx="90.1" cy="561.7" rx="0.9" ry="0.6"/><ellipse cx="108.1" cy="532.7" rx="0.9" ry="0.8"/><ellipse cx="107.6" cy="526.0" rx="0.8" ry="0.9"/><ellipse cx="108.1" cy="539.1" rx="0.8" ry="0.9"/><ellipse cx="104.7" cy="549.5" rx="0.7" ry="0.9"/><ellipse cx="103.2" cy="513.4" rx="0.9" ry="0.7"/><ellipse cx="96.9" cy="531.5" rx="1.0" ry="0.7"/><ellipse cx="127.8" cy="556.1" rx="0.7" ry="1.2"/><ellipse cx="100.0" cy="541.9" rx="0.5" ry="0.9"/><ellipse cx="112.7" cy="519.2" rx="0.8" ry="0.7"/><ellipse cx="106.3" cy="515.5" rx="0.6" ry="0.9"/><ellipse cx="78.7" cy="521.4" rx="0.9" ry="0.6"/><ellipse cx="91.4" cy="541.5" rx="1.0" ry="0.5"/><ellipse cx="92.8" cy="552.1" rx="0.8" ry="1.0"/><ellipse cx="103.6" cy="542.1" rx="0.7" ry="0.9"/><ellipse cx="98.4" cy="548.5" rx="0.7" ry="0.8"/><ellipse cx="104.2" cy="519.7" rx="0.9" ry="0.7"/><ellipse cx="123.1" cy="536.7" rx="1.1" ry="0.8"/><ellipse cx="94.0" cy="538.5" rx="0.8" ry="1.1"/><ellipse cx="124.3" cy="546.2" rx="0.6" ry="1.1"/><ellipse cx="111.9" cy="510.5" rx="1.2" ry="0.8"/><ellipse cx="93.4" cy="560.1" rx="1.2" ry="0.8"/><ellipse cx="111.4" cy="563.0" rx="0.5" ry="1.0"/><ellipse cx="93.5" cy="550.3" rx="1.2" ry="0.6"/><ellipse cx="80.3" cy="513.9" rx="0.8" ry="1.0"/><ellipse cx="105.8" cy="510.1" rx="1.1" ry="0.8"/><ellipse cx="114.3" cy="522.5" rx="0.8" ry="1.1"/><ellipse cx="113.3" cy="535.6" rx="0.7" ry="1.0"/><ellipse cx="121.7" cy="546.6" rx="1.2" ry="0.7"/><ellipse cx="81.1" cy="540.7" rx="0.6" ry="1.2"/><ellipse cx="91.9" cy="513.4" rx="0.6" ry="1.0"/><ellipse cx="89.5" cy="510.7" rx="1.2" ry="0.6"/><ellipse cx="102.2" cy="551.6" rx="0.7" ry="1.2"/><ellipse cx="128.2" cy="564.3" rx="1.0" ry="0.6"/><ellipse cx="132.4" cy="509.3" rx="1.1" ry="0.7"/><ellipse cx="113.7" cy="545.4" rx="0.5" ry="1.1"/><ellipse cx="103.7" cy="535.9" rx="1.0" ry="0.5"/><ellipse cx="101.5" cy="561.2" rx="1.2" ry="0.6"/><ellipse cx="82.4" cy="543.0" rx="1.1" ry="0.8"/><ellipse cx="81.7" cy="524.8" rx="1.3" ry="0.7"/><ellipse cx="124.6" cy="511.2" rx="1.1" ry="0.5"/><ellipse cx="110.6" cy="549.0" rx="0.7" ry="0.9"/><ellipse cx="93.1" cy="563.5" rx="1.2" ry="0.8"/><ellipse cx="123.0" cy="539.8" rx="0.8" ry="0.8"/><ellipse cx="116.3" cy="560.7" rx="1.0" ry="0.6"/><ellipse cx="124.3" cy="557.8" rx="0.8" ry="0.9"/><ellipse cx="107.1" cy="516.6" rx="1.0" ry="0.8"/><ellipse cx="94.7" cy="523.6" rx="0.5" ry="1.0"/><ellipse cx="104.9" cy="516.8" rx="0.8" ry="1.0"/><ellipse cx="92.3" cy="523.9" rx="0.7" ry="1.0"/><ellipse cx="121.3" cy="541.4" rx="0.6" ry="0.9"/><ellipse cx="81.0" cy="558.0" rx="0.8" ry="0.5"/><ellipse cx="89.1" cy="527.4" rx="0.5" ry="0.8"/><ellipse cx="125.7" cy="536.0" rx="0.6" ry="1.0"/><ellipse cx="105.7" cy="538.1" rx="0.8" ry="0.5"/><ellipse cx="118.6" cy="553.4" rx="1.1" ry="0.5"/><ellipse cx="80.4" cy="557.8" rx="1.1" ry="0.6"/></g>
<g fill="rgb(115, 115, 170)" fill-opacity="0.95"><ellipse cx="110.7" cy="515.6" rx="0.9" ry="0.7"/><ellipse cx="86.5" cy="545.1" rx="1.1" ry="0.5"/><ellipse cx="80.0" cy="536.4" rx="1.1" ry="0.7"/><ellipse cx="96.0" cy="531.5" rx="0.7" ry="1.0"/><ellipse cx="117.2" cy="518.4" rx="0.6" ry="0.9"/><ellipse cx="114.4" cy="533.5" rx="1.1" ry="0.8"/><ellipse cx="114.6" cy="537.2" rx="0.8" ry="0.5"/><ellipse cx="85.7" cy="518.4" rx="0.7" ry="1.0"/><ellipse cx="106.5" cy="508.9" rx="1.2" ry="0.7"/><ellipse cx="99.0" cy="545.7" rx="0.9" ry="0.7"/><ellipse cx="86.8" cy="558.7" rx="0.8" ry="0.9"/><ellipse cx="121.8" cy="554.6" rx="0.7" ry="1.3"/><ellipse cx="89.3" cy="537.0" rx="1.0" ry="0.7"/><ellipse cx="122.9" cy="551.1" rx="0.8" ry="1.0"/><ellipse cx="125.3" cy="558.6" rx="0.7" ry="0.8"/><ellipse cx="82.3" cy="524.9" rx="1.2" ry="0.7"/><ellipse cx="90.1" cy="559.4" rx="1.1" ry="0.8"/><ellipse cx="122.8" cy="546.8" rx="0.6" ry="1.1"/><ellipse cx="127.4" cy="559.8" rx="1.2" ry="0.7"/><ellipse cx="131.2" cy="534.1" rx="1.0" ry="0.8"/><ellipse cx="98.0" cy="561.8" rx="1.1" ry="0.7"/><ellipse cx="87.6" cy="519.1" rx="0.9" ry="0.6"/><ellipse cx="132.1" cy="512.2" rx="0.7" ry="0.8"/><ellipse cx="128.4" cy="521.2" rx="0.9" ry="0.6"/><ellipse cx="111.1" cy="547.7" rx="1.0" ry="0.8"/><ellipse cx="110.6" cy="553.4" rx="0.8" ry="0.7"/><ellipse cx="124.4" cy="541.6" rx="0.7" ry="1.0"/><ellipse cx="110.6" cy="536.5" rx="1.3" ry="0.8"/><ellipse cx="121.9" cy="524.6" rx="0.8" ry="0.5"/><ellipse cx="117.8" cy="537.2" rx="0.7" ry="0.9"/><ellipse cx="99.1" cy="546.7" rx="0.9" ry="0.5"/><ellipse cx="81.5" cy="533.1" rx="0.5" ry="1.1"/><ellipse cx="126.6" cy="513.3" rx="0.9" ry="0.7"/><ellipse cx="121.7" cy="557.0" rx="1.1" ry="0.8"/><ellipse cx="106.3" cy="541.5" rx="0.9" ry="0.6"/><ellipse cx="120.8" cy="548.0" rx="0.7" ry="1.2"/><ellipse cx="122.7" cy="521.4" rx="0.9" ry="0.5"/><ellipse cx="86.4" cy="544.5" rx="0.6" ry="1.1"/><ellipse cx="86.3" cy="552.5" rx="0.5" ry="1.0"/><ellipse cx="83.3" cy="548.3" rx="0.6" ry="1.2"/><ellipse cx="98.4" cy="532.8" rx="1.0" ry="0.6"/><ellipse cx="125.9" cy="520.3" rx="0.6" ry="1.2"/><ellipse cx="98.8" cy="558.3" rx="0.6" ry="0.9"/><ellipse cx="95.0" cy="546.6" rx="1.0" ry="0.7"/><ellipse cx="122.8" cy="512.5" rx="0.8" ry="1.2"/><ellipse cx="128.6" cy="509.9" rx="1.1" ry="0.5"/><ellipse cx="122.9" cy="557.5" rx="0.8" ry="0.9"/><ellipse cx="78.7" cy="560.7" rx="0.9" ry="0.5"/><ellipse cx="83.5" cy="533.0" rx="1.2" ry="0.8"/><ellipse cx="90.3" cy="532.0" rx="1.1" ry="0.8"/><ellipse cx="128.3" cy="554.6" rx="0.5" ry="0.9"/><ellipse cx="121.9" cy="525.7" rx="0.8" ry="1.0"/><ellipse cx="113.6" cy="564.4" rx="0.9" ry="0.8"/><ellipse cx="87.8" cy="530.7" rx="0.7" ry="1.0"/><ellipse cx="131.9" cy="526.6" rx="0.8" ry="1.1"/><ellipse cx="117.4" cy="512.1" rx="0.5" ry="1.2"/><ellipse cx="86.2" cy="521.1" rx="0.5" ry="0.8"/><ellipse cx="79.0" cy="534.2" rx="0.9" ry="0.7"/><ellipse cx="82.6" cy="553.5" rx="0.6" ry="1.0"/><ellipse cx="124.3" cy="524.9" rx="0.9" ry="0.6"/><ellipse cx="127.8" cy="562.3" rx="0.7" ry="1.0"/><ellipse cx="116.6" cy="550.1" rx="1.1" ry="0.6"/><ellipse cx="99.9" cy="530.5" rx="0.7" ry="0.8"/><ellipse cx="100.3" cy="522.1" rx="0.7" ry="1.1"/><ellipse cx="127.3" cy="515.6" rx="1.2" ry="0.5"/><ellipse cx="100.1" cy="519.3" rx="1.1" ry="0.7"/><ellipse cx="129.6" cy="529.4" rx="0.8" ry="0.6"/><ellipse cx="119.3" cy="546.5" rx="0.6" ry="1.1"/><ellipse cx="96.5" cy="561.8" rx="1.3" ry="0.7"/><ellipse cx="127.7" cy="522.5" rx="0.6" ry="1.1"/></g>
</g></g>
<rect x="286.30" y="454.70" width="54.90" height="55.50" fill="rgb(210, 204, 200)"/>
<clipPath id="cp4"><rect x="286.30" y="454.70" width="54.90" height="55.50"/></clipPath>
<g clip-path="url(#cp4)"><g filter="url(#soft)">
<g fill="rgb(160, 60, 40)" fill-opacity="0.5"><ellipse cx="301.8" cy="492.0" rx="1.3" ry="1.2"/></g>
<g fill="rgb(160, 60, 40)" fill-opacity="0.7"></g>
<g fill="rgb(160, 60, 40)" fill-opacity="0.9"><ellipse cx="320.4" cy="472.8" rx="1.8" ry="1.4"/><ellipse cx="330.8" cy="491.6" rx="1.7" ry="1.3"/><ellipse cx="340.4" cy="489.5" rx="1.7" ry="1.2"/></g>
<g fill="rgb(95, 90, 160)" fill-opacity="0.6"><ellipse cx="287.1" cy="491.0" rx="0.8" ry="1.5"/><ellipse cx="327.7" cy="495.0" rx="1.6" ry="1.0"/><ellipse cx="338.5" cy="454.8" rx="1.2" ry="0.9"/><ellipse cx="335.3" cy="502.8" rx="1.0" ry="1.3"/><ellipse cx="340.9" cy="461.1" rx="1.0" ry="1.1"/><ellipse cx="333.6" cy="486.3" rx="1.2" ry="0.8"/><ellipse cx="320.3" cy="475.1" rx="1.0" ry="1.1"/><ellipse cx="311.9" cy="500.6" rx="0.7" ry="1.1"/><ellipse cx="294.5" cy="457.9" rx="1.5" ry="0.7"/><ellipse cx="292.5" cy="479.8" rx="1.0" ry="1.1"/><ellipse cx="330.6" cy="471.2" rx="0.7" ry="1.4"/><ellipse cx="312.5" cy="509.2" rx="1.1" ry="1.1"/><ellipse cx="296.5" cy="499.7" rx="1.5" ry="0.7"/><ellipse cx="297.1" cy="456.8" rx="1.1" ry="0.8"/><ellipse cx="298.8" cy="498.6" rx="1.3" ry="0.9"/><ellipse cx="332.0" cy="471.1" rx="1.0" ry="0.9"/><ellipse cx="328.7" cy="457.4" rx="0.8" ry="1.2"/><ellipse cx="321.6" cy="459.5" rx="1.2" ry="0.8"/><ellipse cx="317.9" cy="500.6" rx="1.6" ry="0.8"/><ellipse cx="320.8" cy="502.3" rx="0.9" ry="1.2"/><ellipse cx="341.5" cy="476.6" rx="1.0" ry="0.8"/><ellipse cx="318.2" cy="463.6" rx="1.5" ry="0.7"/><ellipse cx="322.8" cy="509.5" rx="0.8" ry="1.5"/><ellipse cx="323.2" cy="464.8" rx="1.4" ry="0.8"/><ellipse cx="326.5" cy="472.0" rx="1.4" ry="0.8"/><ellipse cx="323.8" cy="478.1" rx="1.6" ry="1.1"/><ellipse cx="300.7" cy="456.1" rx="1.1" ry="1.1"/><ellipse cx="308.8" cy="508.1" rx="0.8" ry="1.0"/><ellipse cx="313.7" cy="487.3" rx="1.0" ry="1.5"/><ellipse cx="313.4" cy="481.9" rx="1.1" ry="0.9"/><ellipse cx="305.9" cy="476.2" rx="1.3" ry="0.8"/><ellipse cx="310.4" cy="472.3" rx="0.9" ry="1.1"/><ellipse cx="319.1" cy="510.3" rx="0.9" ry="1.5"/><ellipse cx="295.3" cy="482.5" rx="0.9" ry="1.5"/><ellipse cx="310.3" cy="505.9" rx="0.7" ry="1.1"/><ellipse cx="294.1" cy="474.7" rx="1.0" ry="1.0"/><ellipse cx="340.9" cy="483.9" rx="0.8" ry="1.4"/><ellipse cx="297.1" cy="463.9" rx="1.2" ry="1.0"/><ellipse cx="323.6" cy="496.7" rx="1.1" ry="1.1"/><ellipse cx="328.2" cy="473.3" rx="1.1" ry="1.0"/><ellipse cx="305.2" cy="464.4" rx="1.1" ry="1.3"/><ellipse cx="334.6" cy="508.9" rx="1.3" ry="0.8"/><ellipse cx="337.7" cy="497.7" rx="1.3" ry="1.0"/><ellipse cx="317.6" cy="488.7" rx="1.1" ry="0.8"/><ellipse cx="300.9" cy="504.6" rx="0.8" ry="1.5"/><ellipse cx="293.2" cy="492.4" rx="1.4" ry="1.0"/><ellipse cx="317.6" cy="455.3" rx="1.1" ry="1.3"/></g>
<g fill="rgb(95, 90, 160)" fill-opacity="0.78"><ellipse cx="339.6" cy="498.5" rx="1.6" ry="0.8"/><ellipse cx="339.5" cy="462.5" rx="1.3" ry="1.0"/><ellipse cx="333.0" cy="453.8" rx="1.5" ry="1.0"/><ellipse cx="297.6" cy="507.7" rx="0.8" ry="1.5"/><ellipse cx="290.9" cy="497.8" rx="1.5" ry="0.9"/><ellipse cx="287.1" cy="473.3" rx="1.1" ry="1.0"/><ellipse cx="315.6" cy="493.9" rx="0.8" ry="1.1"/><ellipse cx="325.2" cy="490.6" rx="0.7" ry="1.3"/><ellipse cx="327.4" cy="506.8" rx="1.4" ry="0.8"/><ellipse cx="308.8" cy="510.7" rx="1.0" ry="1.0"/><ellipse cx="302.9" cy="465.4" rx="1.2" ry="1.0"/><ellipse cx="295.1" cy="507.7" rx="0.9" ry="1.4"/><ellipse cx="301.2" cy="479.3" rx="0.7" ry="1.1"/><ellipse cx="339.1" cy="505.5" rx="1.5" ry="0.7"/><ellipse cx="285.8" cy="493.4" rx="0.9" ry="1.3"/><ellipse cx="298.5" cy="494.2" rx="1.0" ry="1.2"/><ellipse cx="303.2" cy="465.7" rx="1.5" ry="0.9"/><ellipse cx="340.1" cy="471.1" rx="1.5" ry="0.8"/><ellipse cx="338.7" cy="470.0" rx="1.5" ry="1.0"/><ellipse cx="330.7" cy="468.8" rx="1.2" ry="1.0"/><ellipse cx="286.1" cy="505.4" rx="0.8" ry="1.2"/><ellipse cx="304.8" cy="482.9" rx="1.3" ry="0.7"/><ellipse cx="330.3" cy="486.0" rx="0.8" ry="1.3"/><ellipse cx="315.1" cy="461.2" rx="1.4" ry="0.9"/><ellipse cx="315.4" cy="463.7" rx="1.5" ry="0.7"/><ellipse cx="292.5" cy="466.2" rx="1.5" ry="0.9"/><ellipse cx="330.0" cy="465.6" rx="0.7" ry="1.5"/><ellipse cx="302.2" cy="489.7" rx="0.9" ry="1.5"/><ellipse cx="302.4" cy="485.0" rx="0.9" ry="1.0"/><ellipse cx="315.4" cy="502.3" rx="1.0" ry="0.7"/><ellipse cx="299.1" cy="455.3" rx="1.0" ry="1.4"/><ellipse cx="297.5" cy="454.7" rx="0.8" ry="1.2"/><ellipse cx="319.2" cy="498.3" rx="1.1" ry="0.8"/><ellipse cx="306.2" cy="467.5" rx="1.0" ry="1.0"/><ellipse cx="299.0" cy="468.4" rx="1.0" ry="1.5"/><ellipse cx="291.9" cy="464.4" rx="1.0" ry="1.5"/><ellipse cx="326.9" cy="460.7" rx="1.1" ry="0.8"/><ellipse cx="295.0" cy="471.3" rx="1.4" ry="1.1"/><ellipse cx="326.6" cy="463.7" rx="1.5" ry="0.8"/><ellipse cx="332.1" cy="485.3" rx="0.8" ry="1.2"/><ellipse cx="296.6" cy="500.0" rx="1.6" ry="0.9"/><ellipse cx="300.9" cy="488.8" rx="1.0" ry="1.1"/><ellipse cx="303.4" cy="461.9" rx="1.0" ry="1.4"/><ellipse cx="331.9" cy="503.6" rx="0.9" ry="1.6"/><ellipse cx="322.2" cy="484.9" rx="0.7" ry="1.2"/><ellipse cx="308.2" cy="461.0" rx="1.2" ry="0.9"/><ellipse cx="315.9" cy="459.5" rx="1.5" ry="1.0"/><ellipse cx="303.4" cy="462.1" rx="1.0" ry="1.5"/><ellipse cx="322.4" cy="506.8" rx="0.9" ry="1.3"/><ellipse cx="315.5" cy="493.0" rx="1.2" ry="0.9"/><ellipse cx="303.3" cy="485.8" rx="1.1" ry="1.5"/><ellipse cx="333.7" cy="462.3" rx="1.2" ry="1.0"/></g>
<g fill="rgb(95, 90, 160)" fill-opacity="0.95"><ellipse cx="304.0" cy="462.7" rx="1.1" ry="0.8"/><ellipse cx="296.8" cy="471.3" rx="1.0" ry="0.8"/><ellipse cx="301.9" cy="460.4" rx="0.9" ry="1.3"/><ellipse cx="317.6" cy="503.3" rx="0.8" ry="1.2"/><ellipse cx="332.9" cy="509.1" rx="1.2" ry="0.9"/><ellipse cx="303.8" cy="501.5" rx="1.2" ry="1.0"/><ellipse cx="335.2" cy="504.0" rx="1.3" ry="0.7"/><ellipse cx="321.3" cy="474.7" rx="1.1" ry="0.7"/><ellipse cx="327.9" cy="497.4" rx="1.6" ry="1.0"/><ellipse cx="307.2" cy="511.2" rx="0.7" ry="1.5"/><ellipse cx="326.9" cy="463.6" rx="0.7" ry="1.1"/><ellipse cx="292.4" cy="458.2" rx="1.0" ry="1.2"/><ellipse cx="318.0" cy="497.0" rx="1.4" ry="1.0"/><ellipse cx="341.2" cy="480.7" rx="1.6" ry="0.8"/><ellipse cx="300.0" cy="492.0" rx="0.9" ry="1.5"/><ellipse cx="302.7" cy="483.9" rx="1.0" ry="1.5"/><ellipse cx="319.9" cy="459.4" rx="1.1" ry="1.6"/><ellipse cx="287.9" cy="473.5" rx="0.8" ry="1.0"/><ellipse cx="296.7" cy="485.1" rx="1.6" ry="0.7"/><ellipse cx="298.1" cy="497.7" rx="0.7" ry="1.2"/><ellipse cx="310.3" cy="487.9" rx="0.8" ry="1.5"/><ellipse cx="314.0" cy="507.2" rx="0.7" ry="1.2"/><ellipse cx="306.0" cy="459.3" rx="0.9" ry="1.6"/><ellipse cx="295.6" cy="459.0" rx="1.3" ry="1.0"/><ellipse cx="297.3" cy="477.2" rx="0.9" ry="1.5"/><ellipse cx="340.9" cy="460.5" rx="1.1" ry="0.7"/><ellipse cx="304.3" cy="483.6" rx="0.9" ry="1.6"/><ellipse cx="322.2" cy="491.4" rx="1.4" ry="0.9"/><ellipse cx="288.4" cy="472.7" rx="0.7" ry="1.4"/><ellipse cx="334.8" cy="492.4" rx="1.1" ry="1.6"/><ellipse cx="309.5" cy="466.1" rx="1.5" ry="0.9"/><ellipse cx="292.7" cy="493.7" rx="1.0" ry="0.8"/><ellipse cx="290.4" cy="488.9" rx="1.5" ry="1.0"/><ellipse cx="339.5" cy="472.5" rx="0.7" ry="1.4"/><ellipse cx="337.2" cy="493.0" rx="1.0" ry="1.3"/><ellipse cx="292.6" cy="506.2" rx="1.6" ry="1.0"/><ellipse cx="330.1" cy="492.6" rx="1.4" ry="0.7"/><ellipse cx="322.5" cy="460.2" rx="0.7" ry="1.0"/><ellipse cx="289.7" cy="489.9" rx="0.7" ry="1.6"/><ellipse cx="307.9" cy="498.5" rx="1.5" ry="0.9"/><ellipse cx="316.8" cy="455.5" rx="0.9" ry="1.2"/><ellipse cx="309.2" cy="487.1" rx="0.8" ry="1.1"/><ellipse cx="306.3" cy="499.0" rx="0.9" ry="1.3"/><ellipse cx="303.6" cy="483.2" rx="1.0" ry="1.5"/><ellipse cx="322.7" cy="478.5" rx="1.1" ry="1.0"/><ellipse cx="295.6" cy="506.2" rx="0.7" ry="1.3"/><ellipse cx="288.2" cy="454.3" rx="1.0" ry="1.1"/><ellipse cx="335.4" cy="462.3" rx="1.6" ry="1.0"/><ellipse cx="307.9" cy="481.2" rx="1.2" ry="1.1"/><ellipse cx="335.5" cy="493.1" rx="1.3" ry="0.9"/><ellipse cx="304.2" cy="491.1" rx="1.5" ry="1.1"/></g>
</g></g>
<rect x="344.10" y="454.70" width="54.50" height="55.50" fill="rgb(214, 204, 200)"/>
<clipPath id="cp5"><rect x="344.10" y="454.70" width="54.50" height="55.50"/></clipPath>
<g clip-path="url(#cp5)"><g filter="url(#soft)">
<g fill="rgb(170, 70, 40)" fill-opacity="0.5"><ellipse cx="350.1" cy="473.6" rx="1.1" ry="0.9"/><ellipse cx="397.3" cy="466.4" rx="0.7" ry="1.2"/><ellipse cx="391.7" cy="504.2" rx="1.2" ry="2.0"/><ellipse cx="361.8" cy="495.0" rx="1.9" ry="0.8"/><ellipse cx="376.4" cy="501.2" rx="1.1" ry="1.0"/></g>
<g fill="rgb(170, 70, 40)" fill-opacity="0.7"><ellipse cx="390.5" cy="485.8" rx="1.5" ry="0.9"/><ellipse cx="370.6" cy="502.5" rx="0.8" ry="2.1"/><ellipse cx="360.0" cy="496.0" rx="1.1" ry="1.8"/><ellipse cx="363.1" cy="473.8" rx="1.7" ry="0.8"/><ellipse cx="396.0" cy="459.7" rx="1.4" ry="1.3"/></g>
<g fill="rgb(170, 70, 40)" fill-opacity="0.9"><ellipse cx="375.3" cy="472.2" rx="1.0" ry="1.3"/><ellipse cx="344.0" cy="477.8" rx="1.1" ry="2.1"/><ellipse cx="391.5" cy="476.8" rx="1.2" ry="1.1"/><ellipse cx="356.2" cy="474.9" rx="1.0" ry="1.7"/></g>
<g fill="rgb(100, 95, 160)" fill-opacity="0.6"><ellipse cx="347.2" cy="485.7" rx="1.3" ry="0.7"/><ellipse cx="362.7" cy="455.1" rx="0.6" ry="1.0"/><ellipse cx="356.5" cy="494.4" rx="1.2" ry="0.6"/><ellipse cx="353.0" cy="454.0" rx="0.8" ry="1.3"/><ellipse cx="346.5" cy="468.8" rx="0.6" ry="1.0"/><ellipse cx="379.2" cy="466.9" rx="1.0" ry="0.6"/><ellipse cx="352.0" cy="475.6" rx="1.1" ry="0.8"/><ellipse cx="371.6" cy="482.1" rx="0.9" ry="1.2"/><ellipse cx="345.2" cy="478.5" rx="0.9" ry="0.8"/><ellipse cx="385.8" cy="473.5" rx="1.0" ry="0.6"/><ellipse cx="362.3" cy="473.8" rx="0.9" ry="0.9"/><ellipse cx="372.7" cy="503.0" rx="1.3" ry="0.8"/><ellipse cx="372.3" cy="467.2" rx="0.6" ry="1.3"/><ellipse cx="382.0" cy="483.5" rx="1.3" ry="0.9"/><ellipse cx="398.9" cy="498.2" rx="0.9" ry="1.4"/><ellipse cx="380.7" cy="482.5" rx="0.6" ry="1.3"/><ellipse cx="386.4" cy="473.1" rx="1.1" ry="0.9"/><ellipse cx="366.3" cy="478.1" rx="1.2" ry="0.6"/><ellipse cx="379.3" cy="490.3" rx="1.2" ry="0.9"/><ellipse cx="395.6" cy="454.7" rx="1.2" ry="0.8"/><ellipse cx="396.6" cy="476.4" rx="1.1" ry="0.8"/><ellipse cx="382.4" cy="456.2" rx="1.1" ry="0.8"/><ellipse cx="373.2" cy="471.4" rx="0.8" ry="0.9"/><ellipse cx="387.1" cy="472.1" rx="1.1" ry="0.8"/><ellipse cx="367.9" cy="486.8" rx="1.4" ry="0.8"/><ellipse cx="362.0" cy="455.8" rx="1.4" ry="0.8"/><ellipse cx="371.7" cy="493.4" rx="1.0" ry="0.6"/><ellipse cx="391.2" cy="506.1" rx="0.9" ry="0.9"/><ellipse cx="375.5" cy="503.3" rx="0.8" ry="0.9"/><ellipse cx="391.7" cy="508.5" rx="1.2" ry="0.6"/><ellipse cx="394.6" cy="490.8" rx="1.2" ry="0.9"/><ellipse cx="369.7" cy="461.8" rx="0.8" ry="1.3"/><ellipse cx="387.1" cy="503.9" rx="0.9" ry="0.7"/><ellipse cx="393.3" cy="479.6" rx="0.9" ry="0.7"/><ellipse cx="353.6" cy="469.8" rx="1.4" ry="0.6"/><ellipse cx="346.8" cy="458.5" rx="1.4" ry="0.6"/><ellipse cx="363.1" cy="494.9" rx="0.9" ry="0.8"/><ellipse cx="369.9" cy="496.6" rx="0.6" ry="1.3"/><ellipse cx="349.9" cy="459.8" rx="0.9" ry="0.7"/><ellipse cx="397.1" cy="467.7" rx="1.1" ry="0.7"/><ellipse cx="377.6" cy="489.6" rx="0.6" ry="1.3"/><ellipse cx="357.9" cy="468.9" rx="1.3" ry="0.6"/><ellipse cx="372.3" cy="460.3" rx="0.8" ry="1.0"/><ellipse cx="359.4" cy="495.8" rx="0.7" ry="1.1"/><ellipse cx="350.5" cy="455.4" rx="1.3" ry="0.7"/><ellipse cx="363.2" cy="468.3" rx="1.3" ry="0.9"/><ellipse cx="362.1" cy="479.1" rx="0.6" ry="1.2"/><ellipse cx="381.6" cy="487.4" rx="0.7" ry="0.9"/><ellipse cx="386.9" cy="464.8" rx="1.3" ry="0.9"/><ellipse cx="368.0" cy="507.8" rx="1.2" ry="0.7"/><ellipse cx="393.9" cy="494.6" rx="0.9" ry="1.4"/><ellipse cx="376.1" cy="457.9" rx="0.8" ry="1.1"/><ellipse cx="380.2" cy="492.6" rx="1.1" ry="0.7"/><ellipse cx="352.0" cy="510.3" rx="1.2" ry="0.7"/><ellipse cx="358.2" cy="478.7" rx="0.7" ry="1.1"/><ellipse cx="360.6" cy="475.0" rx="1.3" ry="0.7"/><ellipse cx="343.6" cy="498.5" rx="0.8" ry="1.2"/><ellipse cx="384.3" cy="487.0" rx="0.9" ry="1.0"/><ellipse cx="380.0" cy="493.4" rx="1.4" ry="0.6"/><ellipse cx="353.9" cy="461.3" rx="1.2" ry="0.7"/><ellipse cx="362.7" cy="501.3" rx="1.0" ry="0.9"/><ellipse cx="370.0" cy="507.4" rx="0.6" ry="0.9"/><ellipse cx="391.9" cy="475.2" rx="0.8" ry="1.1"/><ellipse cx="389.8" cy="491.2" rx="0.9" ry="0.6"/><ellipse cx="374.2" cy="475.9" rx="0.9" ry="1.3"/><ellipse cx="354.4" cy="455.6" rx="1.3" ry="0.6"/><ellipse cx="380.4" cy="483.7" rx="0.9" ry="0.9"/><ellipse cx="393.6" cy="501.2" rx="0.8" ry="1.3"/><ellipse cx="395.4" cy="499.1" rx="0.9" ry="0.7"/><ellipse cx="397.3" cy="465.6" rx="0.6" ry="0.9"/></g>
<g fill="rgb(100, 95, 160)" fill-opacity="0.78"><ellipse cx="357.4" cy="455.2" rx="1.4" ry="0.7"/><ellipse cx="373.2" cy="468.3" rx="0.9" ry="0.9"/><ellipse cx="391.5" cy="457.0" rx="0.9" ry="1.3"/><ellipse cx="368.7" cy="506.5" rx="0.9" ry="0.9"/><ellipse cx="391.3" cy="458.5" rx="1.2" ry="0.7"/><ellipse cx="378.7" cy="496.2" rx="1.0" ry="0.8"/><ellipse cx="373.7" cy="468.8" rx="0.6" ry="1.3"/><ellipse cx="388.8" cy="460.0" rx="1.3" ry="0.7"/><ellipse cx="369.3" cy="486.5" rx="0.9" ry="1.3"/><ellipse cx="355.9" cy="472.4" rx="0.9" ry="1.0"/><ellipse cx="379.3" cy="502.3" rx="0.9" ry="0.6"/><ellipse cx="364.7" cy="465.5" rx="0.7" ry="0.9"/><ellipse cx="350.7" cy="468.8" rx="1.0" ry="0.6"/><ellipse cx="384.8" cy="482.0" rx="0.9" ry="0.7"/><ellipse cx="380.2" cy="501.6" rx="1.1" ry="0.6"/><ellipse cx="392.0" cy="505.7" rx="0.9" ry="0.9"/><ellipse cx="349.7" cy="486.1" rx="1.4" ry="0.9"/><ellipse cx="396.0" cy="468.7" rx="0.8" ry="1.2"/><ellipse cx="371.0" cy="508.5" rx="0.6" ry="1.0"/><ellipse cx="349.0" cy="475.0" rx="1.4" ry="0.7"/><ellipse cx="386.6" cy="484.7" rx="1.3" ry="0.8"/><ellipse cx="386.0" cy="466.1" rx="0.7" ry="1.2"/><ellipse cx="360.1" cy="509.4" rx="1.1" ry="0.9"/><ellipse cx="350.6" cy="454.8" rx="0.9" ry="1.2"/><ellipse cx="363.9" cy="469.5" rx="0.7" ry="1.4"/><ellipse cx="385.1" cy="485.2" rx="1.4" ry="0.7"/><ellipse cx="363.3" cy="500.5" rx="0.9" ry="1.1"/><ellipse cx="365.6" cy="495.3" rx="1.3" ry="0.7"/><ellipse cx="395.2" cy="510.3" rx="0.7" ry="0.9"/><ellipse cx="397.8" cy="503.4" rx="0.9" ry="0.9"/><ellipse cx="375.9" cy="467.4" rx="0.9" ry="1.2"/><ellipse cx="369.3" cy="475.6" rx="0.7" ry="1.2"/><ellipse cx="376.9" cy="500.9" rx="0.8" ry="1.1"/><ellipse cx="360.6" cy="487.4" rx="1.2" ry="0.6"/><ellipse cx="360.2" cy="490.9" rx="1.1" ry="0.8"/><ellipse cx="369.6" cy="483.5" rx="1.0" ry="0.7"/><ellipse cx="386.5" cy="458.0" rx="1.4" ry="0.8"/><ellipse cx="394.1" cy="482.0" rx="1.0" ry="0.8"/><ellipse cx="375.0" cy="506.5" rx="0.8" ry="1.0"/><ellipse cx="370.4" cy="491.5" rx="0.9" ry="0.7"/><ellipse cx="392.5" cy="490.3" rx="0.6" ry="0.9"/><ellipse cx="372.2" cy="459.7" rx="1.1" ry="0.6"/><ellipse cx="391.5" cy="457.7" rx="0.8" ry="1.4"/><ellipse cx="379.0" cy="457.2" rx="0.9" ry="1.2"/><ellipse cx="387.3" cy="470.4" rx="0.6" ry="1.4"/><ellipse cx="373.2" cy="490.0" rx="1.1" ry="0.7"/><ellipse cx="345.7" cy="491.1" rx="0.7" ry="0.9"/><ellipse cx="361.8" cy="466.6" rx="1.2" ry="0.7"/><ellipse cx="385.7" cy="467.1" rx="1.3" ry="0.9"/><ellipse cx="371.0" cy="503.5" rx="1.3" ry="0.8"/><ellipse cx="391.9" cy="457.4" rx="0.7" ry="1.4"/><ellipse cx="396.5" cy="501.9" rx="0.9" ry="0.6"/><ellipse cx="371.0" cy="465.3" rx="1.0" ry="0.7"/><ellipse cx="347.8" cy="478.2" rx="0.7" ry="1.2"/><ellipse cx="372.2" cy="495.5" rx="1.1" ry="0.7"/><ellipse cx="385.4" cy="498.0" rx="1.0" ry="0.7"/><ellipse cx="372.3" cy="456.1" rx="0.8" ry="1.0"/></g>
<g fill="rgb(100, 95, 160)" fill-opacity="0.95"><ellipse cx="368.5" cy="467.3" rx="1.0" ry="0.8"/><ellipse cx="362.3" cy="500.8" rx="0.9" ry="1.1"/><ellipse cx="374.7" cy="502.5" rx="0.9" ry="1.0"/><ellipse cx="366.4" cy="487.7" rx="0.6" ry="1.1"/><ellipse cx="373.9" cy="461.1" rx="1.1" ry="0.8"/><ellipse cx="361.4" cy="471.9" rx="0.6" ry="1.1"/><ellipse cx="381.8" cy="488.7" rx="0.6" ry="1.1"/><ellipse cx="348.5" cy="488.2" rx="0.6" ry="1.4"/><ellipse cx="362.6" cy="510.3" rx="0.7" ry="0.9"/><ellipse cx="369.2" cy="509.3" rx="0.7" ry="1.4"/><ellipse cx="385.1" cy="502.3" rx="0.8" ry="0.9"/><ellipse cx="385.3" cy="474.2" rx="1.3" ry="0.6"/><ellipse cx="382.7" cy="461.8" rx="0.9" ry="0.9"/><ellipse cx="387.8" cy="460.6" rx="0.9" ry="0.6"/><ellipse cx="360.6" cy="502.5" rx="0.8" ry="1.3"/><ellipse cx="364.8" cy="458.9" rx="0.8" ry="0.9"/><ellipse cx="348.0" cy="493.6" rx="0.6" ry="0.9"/><ellipse cx="373.0" cy="489.4" rx="0.7" ry="1.1"/><ellipse cx="392.0" cy="490.1" rx="0.6" ry="1.4"/><ellipse cx="369.5" cy="502.9" rx="0.7" ry="1.0"/><ellipse cx="380.6" cy="487.0" rx="1.3" ry="0.8"/><ellipse cx="398.5" cy="499.3" rx="0.6" ry="0.9"/><ellipse cx="374.8" cy="460.4" rx="1.0" ry="0.8"/><ellipse cx="377.1" cy="500.2" rx="0.8" ry="1.2"/><ellipse cx="362.9" cy="504.7" rx="0.6" ry="1.2"/><ellipse cx="355.6" cy="494.5" rx="1.1" ry="0.7"/><ellipse cx="367.9" cy="509.5" rx="0.7" ry="1.1"/><ellipse cx="350.6" cy="465.6" rx="0.7" ry="1.1"/><ellipse cx="394.0" cy="471.4" rx="0.8" ry="1.1"/><ellipse cx="356.0" cy="456.4" rx="0.6" ry="0.9"/><ellipse cx="374.9" cy="488.7" rx="0.9" ry="0.8"/><ellipse cx="376.0" cy="454.4" rx="0.9" ry="0.9"/><ellipse cx="365.3" cy="472.2" rx="0.6" ry="1.4"/><ellipse cx="370.0" cy="507.0" rx="0.6" ry="1.3"/><ellipse cx="364.6" cy="459.6" rx="0.6" ry="1.2"/><ellipse cx="390.3" cy="488.3" rx="0.9" ry="0.6"/><ellipse cx="358.3" cy="508.9" rx="0.8" ry="1.1"/><ellipse cx="382.9" cy="454.1" rx="0.9" ry="0.8"/><ellipse cx="398.9" cy="472.2" rx="1.4" ry="0.9"/><ellipse cx="345.8" cy="494.1" rx="1.2" ry="0.8"/><ellipse cx="375.2" cy="483.1" rx="0.8" ry="1.3"/><ellipse cx="380.0" cy="462.8" rx="1.3" ry="0.7"/><ellipse cx="357.5" cy="477.3" rx="1.1" ry="0.6"/><ellipse cx="381.9" cy="484.4" rx="0.7" ry="1.1"/><ellipse cx="346.5" cy="455.0" rx="0.8" ry="1.2"/><ellipse cx="386.2" cy="474.6" rx="0.9" ry="1.0"/><ellipse cx="353.7" cy="495.1" rx="0.9" ry="1.1"/><ellipse cx="389.8" cy="499.2" rx="1.4" ry="0.8"/><ellipse cx="387.8" cy="485.8" rx="0.6" ry="1.3"/><ellipse cx="388.2" cy="478.5" rx="0.9" ry="0.9"/><ellipse cx="367.7" cy="477.8" rx="0.8" ry="1.1"/><ellipse cx="361.0" cy="484.4" rx="0.8" ry="1.0"/><ellipse cx="366.9" cy="470.7" rx="1.1" ry="0.7"/><ellipse cx="351.3" cy="492.9" rx="1.2" ry="0.7"/><ellipse cx="377.9" cy="489.3" rx="0.7" ry="1.1"/><ellipse cx="374.5" cy="472.4" rx="0.9" ry="0.8"/><ellipse cx="354.6" cy="464.4" rx="0.9" ry="1.0"/><ellipse cx="350.9" cy="483.1" rx="0.8" ry="1.4"/><ellipse cx="369.8" cy="507.8" rx="0.8" ry="1.1"/><ellipse cx="386.8" cy="491.5" rx="0.9" ry="1.3"/><ellipse cx="365.1" cy="501.6" rx="0.9" ry="1.0"/><ellipse cx="355.2" cy="508.1" rx="0.9" ry="0.6"/><ellipse cx="375.9" cy="466.3" rx="1.3" ry="0.6"/><ellipse cx="397.8" cy="508.3" rx="1.0" ry="0.9"/><ellipse cx="388.4" cy="479.8" rx="1.1" ry="0.9"/><ellipse cx="378.2" cy="466.1" rx="1.4" ry="0.7"/><ellipse cx="390.7" cy="458.8" rx="0.7" ry="1.4"/><ellipse cx="373.6" cy="480.3" rx="0.8" ry="1.1"/><ellipse cx="368.1" cy="489.8" rx="0.8" ry="0.9"/><ellipse cx="348.3" cy="484.7" rx="0.9" ry="1.4"/><ellipse cx="369.5" cy="465.3" rx="0.7" ry="0.9"/><ellipse cx="343.9" cy="476.7" rx="0.7" ry="1.4"/><ellipse cx="353.7" cy="511.1" rx="0.9" ry="1.2"/></g>
</g></g>
<rect x="286.30" y="511.90" width="54.90" height="55.10" fill="rgb(208, 200, 194)"/>
<clipPath id="cp6"><rect x="286.30" y="511.90" width="54.90" height="55.10"/></clipPath>
<g clip-path="url(#cp6)"><g filter="url(#soft)">
<g fill="rgb(180, 100, 50)" fill-opacity="0.5"><ellipse cx="336.0" cy="521.2" rx="1.2" ry="2.3"/><ellipse cx="328.8" cy="540.1" rx="2.5" ry="0.9"/><ellipse cx="320.5" cy="532.3" rx="1.9" ry="1.2"/><ellipse cx="306.2" cy="565.3" rx="1.5" ry="1.3"/><ellipse cx="324.9" cy="514.1" rx="1.5" ry="1.1"/><ellipse cx="329.7" cy="540.1" rx="1.2" ry="1.3"/><ellipse cx="317.4" cy="541.0" rx="1.1" ry="1.5"/><ellipse cx="338.8" cy="544.7" rx="1.1" ry="2.6"/><ellipse cx="314.2" cy="542.6" rx="1.0" ry="1.8"/></g>
<g fill="rgb(180, 100, 50)" fill-opacity="0.7"><ellipse cx="325.3" cy="557.2" rx="1.2" ry="1.3"/><ellipse cx="305.6" cy="515.7" rx="1.9" ry="1.1"/><ellipse cx="304.3" cy="512.3" rx="1.3" ry="1.1"/><ellipse cx="321.2" cy="517.3" rx="2.0" ry="1.2"/><ellipse cx="302.6" cy="551.5" rx="1.5" ry="2.4"/><ellipse cx="299.4" cy="556.7" rx="2.2" ry="1.2"/><ellipse cx="315.9" cy="565.3" rx="1.0" ry="1.9"/></g>
<g fill="rgb(180, 100, 50)" fill-opacity="0.9"><ellipse cx="314.9" cy="547.9" rx="1.2" ry="1.3"/><ellipse cx="312.5" cy="556.6" rx="1.2" ry="1.4"/><ellipse cx="290.3" cy="559.3" rx="1.3" ry="1.9"/><ellipse cx="293.8" cy="557.4" rx="0.9" ry="1.6"/><ellipse cx="312.4" cy="553.7" rx="1.2" ry="1.3"/><ellipse cx="325.1" cy="538.8" rx="1.4" ry="1.2"/><ellipse cx="335.4" cy="552.9" rx="1.2" ry="1.6"/><ellipse cx="317.9" cy="552.9" rx="1.1" ry="2.2"/></g>
<g fill="rgb(85, 85, 160)" fill-opacity="0.6"><ellipse cx="324.0" cy="517.2" rx="0.8" ry="1.0"/><ellipse cx="298.3" cy="560.2" rx="0.9" ry="1.6"/><ellipse cx="299.0" cy="538.0" rx="0.7" ry="1.0"/><ellipse cx="292.1" cy="550.1" rx="1.7" ry="1.0"/><ellipse cx="301.7" cy="532.0" rx="1.5" ry="0.9"/><ellipse cx="341.5" cy="545.2" rx="1.6" ry="0.9"/><ellipse cx="297.1" cy="544.9" rx="0.9" ry="1.5"/><ellipse cx="308.9" cy="533.2" rx="1.4" ry="0.9"/><ellipse cx="285.7" cy="522.4" rx="0.8" ry="1.3"/><ellipse cx="299.5" cy="534.0" rx="1.1" ry="1.0"/><ellipse cx="322.0" cy="554.9" rx="1.2" ry="1.1"/><ellipse cx="295.5" cy="524.7" rx="0.9" ry="1.1"/><ellipse cx="333.8" cy="513.1" rx="0.7" ry="1.7"/><ellipse cx="294.4" cy="518.9" rx="1.1" ry="1.3"/><ellipse cx="311.0" cy="563.3" rx="0.9" ry="1.5"/><ellipse cx="299.8" cy="538.7" rx="1.6" ry="1.0"/><ellipse cx="309.1" cy="549.0" rx="1.6" ry="0.7"/><ellipse cx="321.5" cy="554.0" rx="1.4" ry="0.9"/><ellipse cx="309.6" cy="548.4" rx="0.9" ry="1.0"/><ellipse cx="338.4" cy="521.6" rx="1.0" ry="1.7"/><ellipse cx="315.3" cy="532.5" rx="0.7" ry="1.4"/><ellipse cx="288.6" cy="552.6" rx="1.2" ry="0.8"/><ellipse cx="302.9" cy="564.0" rx="1.1" ry="1.1"/><ellipse cx="293.8" cy="515.7" rx="1.4" ry="1.0"/><ellipse cx="325.7" cy="558.3" rx="1.1" ry="1.7"/><ellipse cx="304.3" cy="554.0" rx="0.8" ry="1.3"/><ellipse cx="313.3" cy="539.4" rx="0.7" ry="1.6"/><ellipse cx="313.5" cy="516.9" rx="0.9" ry="1.6"/><ellipse cx="291.1" cy="549.4" rx="1.6" ry="1.1"/><ellipse cx="341.9" cy="552.0" rx="1.3" ry="1.0"/><ellipse cx="313.2" cy="518.3" rx="1.7" ry="1.0"/><ellipse cx="290.6" cy="561.5" rx="1.3" ry="0.8"/><ellipse cx="316.8" cy="540.8" rx="0.9" ry="1.2"/><ellipse cx="294.1" cy="566.8" rx="1.0" ry="1.4"/><ellipse cx="303.4" cy="514.9" rx="1.1" ry="1.5"/><ellipse cx="305.3" cy="559.4" rx="1.0" ry="1.2"/><ellipse cx="302.0" cy="543.9" rx="1.3" ry="1.1"/><ellipse cx="335.7" cy="515.0" rx="0.7" ry="1.1"/><ellipse cx="293.4" cy="524.1" rx="1.4" ry="1.0"/><ellipse cx="293.3" cy="520.4" rx="1.7" ry="1.0"/><ellipse cx="339.9" cy="521.2" rx="1.3" ry="0.8"/><ellipse cx="341.8" cy="528.5" rx="0.7" ry="1.7"/></g>
<g fill="rgb(85, 85, 160)" fill-opacity="0.78"><ellipse cx="324.5" cy="540.0" rx="1.0" ry="1.4"/><ellipse cx="302.1" cy="535.8" rx="0.7" ry="1.3"/><ellipse cx="332.2" cy="512.8" rx="1.6" ry="1.1"/><ellipse cx="314.6" cy="535.7" rx="1.4" ry="1.0"/><ellipse cx="336.6" cy="552.4" rx="0.7" ry="1.1"/><ellipse cx="318.1" cy="513.9" rx="1.4" ry="0.9"/><ellipse cx="287.7" cy="556.8" rx="1.0" ry="1.6"/><ellipse cx="339.7" cy="537.0" rx="0.7" ry="1.0"/><ellipse cx="292.1" cy="525.7" rx="0.9" ry="1.3"/><ellipse cx="311.7" cy="524.9" rx="1.2" ry="0.9"/><ellipse cx="294.4" cy="546.8" rx="1.7" ry="0.9"/><ellipse cx="325.9" cy="548.5" rx="0.8" ry="1.2"/><ellipse cx="286.7" cy="558.8" rx="1.1" ry="1.6"/><ellipse cx="325.3" cy="519.7" rx="0.7" ry="1.5"/><ellipse cx="294.3" cy="541.6" rx="0.7" ry="1.7"/><ellipse cx="321.7" cy="550.6" rx="1.0" ry="1.1"/><ellipse cx="335.4" cy="518.3" rx="1.3" ry="1.1"/><ellipse cx="329.0" cy="538.9" rx="0.9" ry="1.1"/><ellipse cx="311.3" cy="559.2" rx="1.1" ry="0.9"/><ellipse cx="302.3" cy="514.1" rx="1.7" ry="0.8"/><ellipse cx="297.8" cy="534.8" rx="1.5" ry="1.1"/><ellipse cx="287.0" cy="517.2" rx="0.9" ry="1.5"/><ellipse cx="316.7" cy="565.7" rx="1.6" ry="0.7"/><ellipse cx="338.4" cy="525.3" rx="1.1" ry="0.9"/><ellipse cx="308.0" cy="539.8" rx="1.6" ry="1.1"/><ellipse cx="339.4" cy="565.1" rx="1.5" ry="1.1"/><ellipse cx="333.2" cy="512.5" rx="1.0" ry="1.2"/><ellipse cx="317.4" cy="528.7" rx="1.6" ry="0.7"/><ellipse cx="300.2" cy="552.9" rx="1.1" ry="1.1"/><ellipse cx="339.8" cy="565.5" rx="0.9" ry="1.4"/><ellipse cx="292.8" cy="537.1" rx="1.1" ry="0.8"/><ellipse cx="291.3" cy="554.2" rx="1.0" ry="1.3"/><ellipse cx="304.4" cy="567.7" rx="1.3" ry="1.1"/><ellipse cx="310.1" cy="526.5" rx="1.3" ry="0.8"/><ellipse cx="304.4" cy="564.0" rx="0.8" ry="1.0"/><ellipse cx="318.5" cy="516.3" rx="1.1" ry="1.0"/><ellipse cx="286.7" cy="519.6" rx="1.3" ry="1.0"/><ellipse cx="321.0" cy="544.9" rx="1.4" ry="1.0"/><ellipse cx="338.5" cy="539.1" rx="1.1" ry="1.7"/><ellipse cx="301.8" cy="537.7" rx="0.7" ry="1.0"/><ellipse cx="335.2" cy="546.2" rx="1.1" ry="1.6"/><ellipse cx="323.4" cy="522.4" rx="0.8" ry="1.2"/><ellipse cx="313.0" cy="545.6" rx="1.6" ry="0.9"/><ellipse cx="315.9" cy="558.9" rx="1.5" ry="1.1"/><ellipse cx="326.7" cy="512.8" rx="1.6" ry="1.0"/><ellipse cx="307.0" cy="549.8" rx="1.7" ry="0.9"/><ellipse cx="307.0" cy="554.9" rx="1.6" ry="0.9"/><ellipse cx="300.5" cy="547.3" rx="0.8" ry="1.6"/><ellipse cx="312.9" cy="526.4" rx="1.4" ry="1.0"/><ellipse cx="320.7" cy="515.7" rx="1.5" ry="0.9"/><ellipse cx="297.4" cy="529.8" rx="1.2" ry="0.9"/><ellipse cx="309.2" cy="547.6" rx="1.1" ry="1.0"/><ellipse cx="327.4" cy="527.8" rx="1.1" ry="0.8"/><ellipse cx="285.5" cy="552.8" rx="1.0" ry="1.7"/><ellipse cx="309.6" cy="536.2" rx="1.2" ry="1.0"/><ellipse cx="297.9" cy="516.3" rx="1.2" ry="1.0"/></g>
<g fill="rgb(85, 85, 160)" fill-opacity="0.95"><ellipse cx="317.1" cy="547.5" rx="1.6" ry="1.0"/><ellipse cx="300.4" cy="553.7" rx="1.3" ry="1.0"/><ellipse cx="339.7" cy="528.6" rx="1.3" ry="0.8"/><ellipse cx="312.5" cy="526.2" rx="0.9" ry="1.5"/><ellipse cx="331.5" cy="550.0" rx="1.3" ry="0.8"/><ellipse cx="291.7" cy="559.4" rx="0.7" ry="1.7"/><ellipse cx="341.0" cy="567.6" rx="0.7" ry="1.2"/><ellipse cx="314.2" cy="563.6" rx="1.1" ry="1.0"/><ellipse cx="289.9" cy="513.6" rx="1.7" ry="0.8"/><ellipse cx="288.0" cy="516.3" rx="1.5" ry="0.8"/><ellipse cx="312.9" cy="533.7" rx="1.7" ry="0.9"/><ellipse cx="324.6" cy="546.4" rx="1.1" ry="1.1"/><ellipse cx="314.7" cy="523.1" rx="1.0" ry="0.9"/><ellipse cx="293.9" cy="541.1" rx="1.0" ry="1.5"/><ellipse cx="324.8" cy="538.0" rx="0.9" ry="1.4"/><ellipse cx="288.2" cy="527.1" rx="1.1" ry="1.3"/><ellipse cx="316.3" cy="556.5" rx="0.7" ry="1.3"/><ellipse cx="292.5" cy="553.0" rx="1.7" ry="0.9"/><ellipse cx="331.2" cy="512.6" rx="1.1" ry="1.6"/><ellipse cx="287.0" cy="521.3" rx="0.8" ry="1.6"/><ellipse cx="317.7" cy="553.9" rx="1.1" ry="1.1"/><ellipse cx="292.8" cy="564.1" rx="1.2" ry="1.0"/><ellipse cx="325.9" cy="556.4" rx="1.0" ry="1.6"/><ellipse cx="341.3" cy="530.8" rx="0.8" ry="1.2"/><ellipse cx="336.6" cy="565.0" rx="1.0" ry="1.7"/><ellipse cx="301.2" cy="520.8" rx="1.7" ry="0.9"/><ellipse cx="326.0" cy="559.6" rx="1.1" ry="1.3"/><ellipse cx="297.7" cy="547.3" rx="1.7" ry="0.7"/><ellipse cx="324.0" cy="517.5" rx="1.5" ry="1.0"/><ellipse cx="328.6" cy="535.0" rx="0.9" ry="1.2"/><ellipse cx="338.6" cy="564.9" rx="1.1" ry="1.0"/><ellipse cx="327.8" cy="535.5" rx="1.6" ry="1.0"/><ellipse cx="337.7" cy="514.5" rx="1.7" ry="1.1"/><ellipse cx="319.9" cy="553.5" rx="0.8" ry="1.4"/><ellipse cx="325.7" cy="524.0" rx="0.7" ry="1.3"/><ellipse cx="315.3" cy="527.7" rx="1.1" ry="1.0"/><ellipse cx="291.9" cy="557.9" rx="1.3" ry="1.1"/><ellipse cx="328.3" cy="533.2" rx="1.0" ry="1.4"/><ellipse cx="310.7" cy="536.9" rx="0.9" ry="1.4"/><ellipse cx="306.1" cy="532.5" rx="1.4" ry="1.1"/><ellipse cx="298.0" cy="557.1" rx="1.1" ry="1.3"/><ellipse cx="328.3" cy="551.1" rx="1.6" ry="1.1"/></g>
</g></g>
<rect x="344.10" y="511.90" width="54.50" height="55.10" fill="rgb(222, 190, 160)"/>
<clipPath id="cp7"><rect x="344.10" y="511.90" width="54.50" height="55.10"/></clipPath>
<g clip-path="url(#cp7)"><g filter="url(#soft)">
<g fill="rgb(130, 55, 25)" fill-opacity="0.5"><ellipse cx="376.2" cy="553.4" rx="0.9" ry="1.2"/><ellipse cx="395.2" cy="519.7" rx="1.2" ry="1.4"/><ellipse cx="396.4" cy="521.8" rx="1.9" ry="0.9"/><ellipse cx="374.3" cy="544.0" rx="2.0" ry="1.1"/><ellipse cx="376.8" cy="511.4" rx="1.9" ry="1.0"/><ellipse cx="375.9" cy="552.2" rx="1.3" ry="0.8"/><ellipse cx="358.6" cy="519.8" rx="1.2" ry="1.0"/><ellipse cx="394.0" cy="515.6" rx="2.3" ry="1.2"/><ellipse cx="359.1" cy="543.9" rx="0.9" ry="2.1"/><ellipse cx="354.5" cy="537.2" rx="0.9" ry="2.3"/><ellipse cx="348.8" cy="548.4" rx="1.7" ry="0.8"/><ellipse cx="395.0" cy="550.1" rx="1.3" ry="1.6"/><ellipse cx="388.7" cy="517.5" rx="1.8" ry="1.4"/><ellipse cx="347.9" cy="540.5" rx="2.1" ry="1.0"/><ellipse cx="366.9" cy="566.4" rx="1.5" ry="0.8"/></g>
<g fill="rgb(130, 55, 25)" fill-opacity="0.7"><ellipse cx="370.1" cy="543.0" rx="1.1" ry="2.1"/><ellipse cx="381.2" cy="532.5" rx="2.3" ry="1.4"/><ellipse cx="396.8" cy="560.0" rx="2.3" ry="1.1"/><ellipse cx="392.7" cy="552.1" rx="1.4" ry="1.1"/><ellipse cx="379.8" cy="529.6" rx="1.9" ry="0.9"/><ellipse cx="372.8" cy="547.8" rx="1.3" ry="2.2"/><ellipse cx="365.2" cy="552.4" rx="1.0" ry="2.2"/><ellipse cx="387.8" cy="542.8" rx="1.9" ry="1.0"/><ellipse cx="359.0" cy="513.6" rx="1.2" ry="1.2"/><ellipse cx="372.9" cy="534.9" rx="1.0" ry="1.8"/><ellipse cx="370.2" cy="523.1" rx="1.4" ry="0.9"/><ellipse cx="358.2" cy="541.1" rx="0.9" ry="2.3"/><ellipse cx="347.3" cy="529.0" rx="1.1" ry="2.1"/><ellipse cx="392.3" cy="561.0" rx="1.1" ry="1.4"/><ellipse cx="376.1" cy="540.1" rx="1.1" ry="2.0"/><ellipse cx="393.5" cy="543.1" rx="1.0" ry="1.8"/><ellipse cx="356.6" cy="547.1" rx="2.2" ry="1.1"/><ellipse cx="372.1" cy="556.6" rx="1.2" ry="2.0"/><ellipse cx="359.2" cy="552.9" rx="1.4" ry="2.4"/><ellipse cx="384.9" cy="553.1" rx="1.3" ry="1.9"/><ellipse cx="398.3" cy="528.9" rx="1.5" ry="1.1"/><ellipse cx="363.7" cy="557.8" rx="1.1" ry="1.3"/></g>
<g fill="rgb(130, 55, 25)" fill-opacity="0.9"><ellipse cx="381.1" cy="549.3" rx="1.7" ry="0.9"/><ellipse cx="381.5" cy="562.0" rx="1.2" ry="1.7"/><ellipse cx="395.6" cy="514.6" rx="2.3" ry="1.1"/><ellipse cx="365.9" cy="513.4" rx="1.2" ry="1.7"/><ellipse cx="387.6" cy="556.8" rx="1.1" ry="1.7"/><ellipse cx="394.4" cy="521.0" rx="2.1" ry="1.0"/><ellipse cx="394.1" cy="555.9" rx="2.1" ry="0.9"/><ellipse cx="368.4" cy="547.5" rx="0.8" ry="1.3"/><ellipse cx="397.1" cy="559.2" rx="2.3" ry="1.0"/><ellipse cx="386.3" cy="550.6" rx="1.1" ry="1.8"/><ellipse cx="394.8" cy="565.0" rx="2.2" ry="0.8"/><ellipse cx="397.1" cy="553.8" rx="1.4" ry="1.7"/><ellipse cx="361.3" cy="541.5" rx="1.9" ry="1.1"/><ellipse cx="356.1" cy="521.7" rx="0.9" ry="2.2"/><ellipse cx="351.0" cy="558.7" rx="2.0" ry="1.4"/><ellipse cx="383.8" cy="562.7" rx="1.3" ry="2.3"/><ellipse cx="370.7" cy="518.5" rx="0.9" ry="1.2"/><ellipse cx="351.0" cy="564.0" rx="1.5" ry="1.0"/></g>
<g fill="rgb(80, 60, 130)" fill-opacity="0.6"><ellipse cx="381.9" cy="518.5" rx="1.0" ry="0.8"/><ellipse cx="349.7" cy="536.5" rx="1.0" ry="1.5"/><ellipse cx="382.4" cy="515.7" rx="0.9" ry="1.2"/><ellipse cx="380.2" cy="565.3" rx="0.9" ry="1.3"/><ellipse cx="355.1" cy="564.3" rx="1.0" ry="0.9"/><ellipse cx="390.3" cy="546.2" rx="1.1" ry="0.8"/><ellipse cx="390.7" cy="536.9" rx="0.8" ry="1.1"/><ellipse cx="375.2" cy="513.4" rx="0.9" ry="1.0"/><ellipse cx="395.0" cy="551.2" rx="0.9" ry="1.2"/><ellipse cx="392.4" cy="535.2" rx="0.9" ry="1.2"/><ellipse cx="386.2" cy="562.8" rx="1.4" ry="0.7"/><ellipse cx="364.0" cy="537.1" rx="1.0" ry="1.3"/><ellipse cx="355.3" cy="540.6" rx="0.7" ry="1.0"/><ellipse cx="350.8" cy="544.9" rx="1.2" ry="0.9"/><ellipse cx="396.3" cy="521.9" rx="0.8" ry="1.5"/><ellipse cx="356.0" cy="523.2" rx="1.6" ry="0.7"/><ellipse cx="385.3" cy="539.7" rx="1.0" ry="0.8"/><ellipse cx="391.1" cy="537.7" rx="1.0" ry="0.7"/><ellipse cx="389.0" cy="522.4" rx="1.0" ry="1.4"/><ellipse cx="381.0" cy="535.9" rx="1.2" ry="1.0"/><ellipse cx="343.2" cy="533.8" rx="1.3" ry="0.7"/><ellipse cx="352.8" cy="549.0" rx="1.3" ry="0.7"/><ellipse cx="364.3" cy="552.8" rx="0.7" ry="1.0"/><ellipse cx="350.3" cy="551.8" rx="0.9" ry="1.1"/><ellipse cx="364.0" cy="539.7" rx="1.5" ry="0.7"/><ellipse cx="390.3" cy="537.6" rx="0.6" ry="1.2"/><ellipse cx="346.1" cy="537.4" rx="0.8" ry="1.5"/><ellipse cx="350.5" cy="539.8" rx="0.9" ry="1.4"/><ellipse cx="349.3" cy="550.9" rx="0.9" ry="1.4"/><ellipse cx="345.8" cy="544.2" rx="1.0" ry="0.9"/><ellipse cx="389.3" cy="548.3" rx="0.8" ry="1.5"/><ellipse cx="344.6" cy="536.0" rx="1.4" ry="0.9"/><ellipse cx="361.0" cy="521.5" rx="1.3" ry="1.0"/><ellipse cx="377.3" cy="526.1" rx="1.0" ry="0.8"/><ellipse cx="368.4" cy="551.3" rx="1.2" ry="0.8"/><ellipse cx="380.2" cy="540.8" rx="1.4" ry="0.9"/><ellipse cx="357.5" cy="551.7" rx="1.1" ry="0.9"/><ellipse cx="344.4" cy="524.8" rx="1.3" ry="0.8"/><ellipse cx="370.9" cy="541.2" rx="0.8" ry="1.1"/><ellipse cx="389.7" cy="557.6" rx="0.7" ry="1.5"/><ellipse cx="377.5" cy="534.7" rx="1.0" ry="1.0"/><ellipse cx="368.9" cy="512.6" rx="1.0" ry="1.0"/></g>
<g fill="rgb(80, 60, 130)" fill-opacity="0.78"><ellipse cx="354.0" cy="516.3" rx="0.9" ry="1.0"/><ellipse cx="366.6" cy="567.7" rx="0.8" ry="1.4"/><ellipse cx="360.0" cy="513.1" rx="1.0" ry="1.4"/><ellipse cx="348.3" cy="562.3" rx="1.3" ry="0.8"/><ellipse cx="396.2" cy="528.3" rx="1.5" ry="0.9"/><ellipse cx="367.2" cy="519.5" rx="0.7" ry="1.6"/><ellipse cx="393.2" cy="543.2" rx="1.4" ry="0.9"/><ellipse cx="380.2" cy="567.0" rx="1.4" ry="0.8"/><ellipse cx="386.2" cy="540.5" rx="1.2" ry="0.9"/><ellipse cx="393.5" cy="533.6" rx="1.0" ry="1.1"/><ellipse cx="377.5" cy="554.2" rx="1.1" ry="0.7"/><ellipse cx="356.9" cy="550.3" rx="1.5" ry="0.7"/><ellipse cx="381.7" cy="515.8" rx="0.6" ry="1.2"/><ellipse cx="397.6" cy="566.0" rx="1.2" ry="1.0"/><ellipse cx="368.2" cy="516.5" rx="1.5" ry="0.9"/><ellipse cx="353.3" cy="547.9" rx="1.2" ry="0.9"/><ellipse cx="346.8" cy="562.6" rx="1.0" ry="0.9"/><ellipse cx="394.3" cy="537.5" rx="1.4" ry="0.7"/><ellipse cx="369.9" cy="514.9" rx="1.3" ry="0.8"/><ellipse cx="383.3" cy="563.0" rx="1.2" ry="0.7"/><ellipse cx="349.0" cy="561.6" rx="1.3" ry="0.9"/><ellipse cx="396.2" cy="511.5" rx="0.9" ry="0.9"/><ellipse cx="348.8" cy="543.7" rx="0.7" ry="1.3"/><ellipse cx="363.8" cy="549.7" rx="0.9" ry="1.1"/><ellipse cx="379.3" cy="547.9" rx="1.1" ry="1.0"/><ellipse cx="360.0" cy="531.9" rx="1.1" ry="0.8"/><ellipse cx="388.5" cy="512.1" rx="1.2" ry="0.7"/><ellipse cx="359.9" cy="549.4" rx="0.6" ry="1.2"/><ellipse cx="355.7" cy="547.8" rx="1.0" ry="1.3"/><ellipse cx="385.1" cy="535.8" rx="1.1" ry="1.0"/><ellipse cx="347.8" cy="537.6" rx="0.7" ry="1.0"/><ellipse cx="373.8" cy="520.4" rx="1.0" ry="0.7"/><ellipse cx="393.2" cy="519.2" rx="0.9" ry="1.0"/><ellipse cx="368.7" cy="554.1" rx="0.9" ry="1.4"/><ellipse cx="395.0" cy="532.4" rx="1.0" ry="1.0"/><ellipse cx="398.8" cy="535.8" rx="0.8" ry="1.0"/><ellipse cx="396.3" cy="527.3" rx="1.0" ry="1.2"/><ellipse cx="390.0" cy="524.3" rx="0.7" ry="1.4"/><ellipse cx="398.0" cy="529.3" rx="0.8" ry="1.4"/><ellipse cx="381.7" cy="525.8" rx="0.7" ry="1.2"/><ellipse cx="385.4" cy="518.5" rx="1.2" ry="0.8"/><ellipse cx="384.2" cy="543.6" rx="0.8" ry="1.4"/><ellipse cx="382.9" cy="514.7" rx="0.9" ry="1.0"/><ellipse cx="371.8" cy="566.1" rx="0.8" ry="1.5"/><ellipse cx="363.7" cy="523.3" rx="0.8" ry="1.3"/><ellipse cx="385.0" cy="521.1" rx="1.0" ry="0.7"/><ellipse cx="348.1" cy="527.7" rx="0.9" ry="1.4"/><ellipse cx="397.6" cy="562.8" rx="1.2" ry="1.0"/><ellipse cx="384.5" cy="512.0" rx="1.3" ry="0.8"/><ellipse cx="365.7" cy="538.5" rx="0.7" ry="1.0"/></g>
<g fill="rgb(80, 60, 130)" fill-opacity="0.95"><ellipse cx="398.7" cy="542.8" rx="1.0" ry="1.5"/><ellipse cx="395.3" cy="542.7" rx="0.9" ry="1.2"/><ellipse cx="350.2" cy="564.9" rx="0.7" ry="1.4"/><ellipse cx="393.0" cy="553.7" rx="0.6" ry="1.3"/><ellipse cx="390.6" cy="553.6" rx="1.2" ry="0.9"/><ellipse cx="354.2" cy="553.9" rx="1.4" ry="0.7"/><ellipse cx="376.4" cy="540.9" rx="1.5" ry="1.0"/><ellipse cx="361.1" cy="540.7" rx="1.4" ry="0.8"/><ellipse cx="349.8" cy="530.1" rx="1.2" ry="0.9"/><ellipse cx="348.4" cy="563.4" rx="0.7" ry="1.4"/><ellipse cx="381.2" cy="559.9" rx="1.0" ry="0.9"/><ellipse cx="388.5" cy="558.7" rx="1.3" ry="0.9"/><ellipse cx="386.8" cy="566.1" rx="0.8" ry="1.3"/><ellipse cx="381.0" cy="544.8" rx="0.8" ry="1.2"/><ellipse cx="392.9" cy="553.7" rx="0.8" ry="1.1"/><ellipse cx="392.7" cy="545.1" rx="0.8" ry="1.4"/><ellipse cx="384.2" cy="524.5" rx="1.1" ry="0.8"/><ellipse cx="385.4" cy="537.2" rx="1.5" ry="1.0"/><ellipse cx="389.2" cy="535.7" rx="0.9" ry="1.2"/><ellipse cx="373.1" cy="530.6" rx="0.8" ry="1.3"/><ellipse cx="382.2" cy="567.9" rx="0.8" ry="1.2"/><ellipse cx="371.9" cy="520.3" rx="0.7" ry="1.2"/><ellipse cx="355.7" cy="523.6" rx="0.7" ry="1.2"/><ellipse cx="364.8" cy="565.5" rx="0.9" ry="1.5"/><ellipse cx="370.2" cy="554.2" rx="0.9" ry="1.3"/><ellipse cx="358.7" cy="553.4" rx="1.0" ry="1.5"/><ellipse cx="373.2" cy="531.0" rx="0.8" ry="1.3"/><ellipse cx="391.1" cy="521.2" rx="0.6" ry="1.5"/><ellipse cx="349.4" cy="566.5" rx="1.0" ry="1.4"/><ellipse cx="349.7" cy="517.0" rx="0.9" ry="1.5"/><ellipse cx="359.9" cy="536.5" rx="1.6" ry="0.8"/><ellipse cx="372.1" cy="553.3" rx="0.9" ry="1.3"/><ellipse cx="377.5" cy="547.9" rx="0.9" ry="1.1"/><ellipse cx="374.1" cy="563.6" rx="1.4" ry="0.7"/><ellipse cx="391.8" cy="516.8" rx="1.5" ry="0.9"/><ellipse cx="397.6" cy="535.3" rx="0.7" ry="1.2"/><ellipse cx="365.7" cy="553.4" rx="0.7" ry="1.3"/><ellipse cx="386.1" cy="535.8" rx="0.7" ry="1.2"/></g>
</g></g>
<rect x="122.50" y="557.50" width="4.50" height="1.30" fill="#111"/>
<rect x="390.00" y="561.50" width="4.50" height="1.30" fill="#111"/>
<text x="1.00" y="444.00" font-size="12.2" font-weight="bold" fill="#000">H</text>
<text x="77.00" y="438.00" font-size="7.7" text-anchor="middle">MDA-MB-231.shMILIP.1</text>
<line x1="34.50" y1="440.80" x2="119.50" y2="440.80" stroke="#111" stroke-width="1.0"/>
<text x="50.00" y="450.20" font-size="7.7" text-anchor="middle">-Dox</text>
<text x="104.00" y="450.20" font-size="7.7" text-anchor="middle">+Dox</text>
<text x="10.00" y="482.50" font-size="7.7" text-anchor="middle">–INN</text>
<text x="10.00" y="537.50" font-size="7.7" text-anchor="middle">+INN</text>
<text x="146.80" y="487.00" font-size="7.7" text-anchor="middle" transform="rotate(-90 146.80 487.00)">Ki67-positive cells</text>
<text x="155.80" y="484.80" font-size="7.7" text-anchor="middle" transform="rotate(-90 155.80 484.80)">(IRS)</text>
<rect x="176.00" y="472.95" width="10.40" height="46.05" fill="#A8D4FA"/>
<line x1="181.20" y1="466.81" x2="181.20" y2="479.09" stroke="#111" stroke-width="1.0"/>
<line x1="179.50" y1="466.81" x2="182.90" y2="466.81" stroke="#111" stroke-width="1.1"/>
<line x1="179.50" y1="479.09" x2="182.90" y2="479.09" stroke="#111" stroke-width="1.1"/>
<circle cx="179.70" cy="471.42" r="1.05" fill="#111"/>
<circle cx="182.70" cy="474.49" r="1.05" fill="#111"/>
<circle cx="181.20" cy="469.88" r="1.05" fill="#111"/>
<circle cx="180.20" cy="476.02" r="1.05" fill="#111"/>
<circle cx="182.40" cy="472.18" r="1.05" fill="#111"/>
<circle cx="181.20" cy="477.56" r="1.05" fill="#111"/>
<rect x="192.20" y="503.34" width="10.40" height="15.66" fill="#A8D4FA"/>
<line x1="197.40" y1="499.51" x2="197.40" y2="507.18" stroke="#111" stroke-width="1.0"/>
<line x1="195.70" y1="499.51" x2="199.10" y2="499.51" stroke="#111" stroke-width="1.1"/>
<line x1="195.70" y1="507.18" x2="199.10" y2="507.18" stroke="#111" stroke-width="1.1"/>
<circle cx="195.40" cy="502.12" r="1.05" fill="#111"/>
<circle cx="199.40" cy="502.88" r="1.05" fill="#111"/>
<circle cx="197.40" cy="498.28" r="1.05" fill="#111"/>
<circle cx="196.40" cy="500.58" r="1.05" fill="#111"/>
<circle cx="198.60" cy="503.65" r="1.05" fill="#111"/>
<rect x="208.80" y="501.81" width="10.40" height="17.19" fill="#A8D4FA"/>
<line x1="214.00" y1="497.97" x2="214.00" y2="505.65" stroke="#111" stroke-width="1.0"/>
<line x1="212.30" y1="497.97" x2="215.70" y2="497.97" stroke="#111" stroke-width="1.1"/>
<line x1="212.30" y1="505.65" x2="215.70" y2="505.65" stroke="#111" stroke-width="1.1"/>
<circle cx="212.50" cy="499.05" r="1.05" fill="#111"/>
<circle cx="215.50" cy="497.51" r="1.05" fill="#111"/>
<circle cx="214.00" cy="500.58" r="1.05" fill="#111"/>
<circle cx="213.00" cy="496.74" r="1.05" fill="#111"/>
<circle cx="215.20" cy="501.35" r="1.05" fill="#111"/>
<rect x="224.90" y="513.32" width="10.40" height="5.68" fill="#A8D4FA"/>
<line x1="230.10" y1="512.55" x2="230.10" y2="514.09" stroke="#111" stroke-width="1.0"/>
<line x1="228.40" y1="512.55" x2="231.80" y2="512.55" stroke="#111" stroke-width="1.1"/>
<line x1="228.40" y1="514.09" x2="231.80" y2="514.09" stroke="#111" stroke-width="1.1"/>
<circle cx="228.10" cy="513.32" r="1.05" fill="#111"/>
<circle cx="232.10" cy="513.32" r="1.05" fill="#111"/>
<circle cx="230.10" cy="513.17" r="1.05" fill="#111"/>
<circle cx="229.10" cy="513.47" r="1.05" fill="#111"/>
<circle cx="231.30" cy="513.01" r="1.05" fill="#111"/>
<line x1="170.40" y1="457.20" x2="170.40" y2="519.50" stroke="#111" stroke-width="1.25"/>
<line x1="169.80" y1="519.00" x2="241.00" y2="519.00" stroke="#111" stroke-width="1.5"/>
<line x1="168.00" y1="519.00" x2="170.40" y2="519.00" stroke="#111" stroke-width="0.9"/>
<text x="166.40" y="521.77" font-size="7.7" text-anchor="end">0</text>
<line x1="168.00" y1="503.65" x2="170.40" y2="503.65" stroke="#111" stroke-width="0.9"/>
<text x="166.40" y="506.42" font-size="7.7" text-anchor="end">1</text>
<line x1="168.00" y1="488.30" x2="170.40" y2="488.30" stroke="#111" stroke-width="0.9"/>
<text x="166.40" y="491.07" font-size="7.7" text-anchor="end">2</text>
<line x1="168.00" y1="472.95" x2="170.40" y2="472.95" stroke="#111" stroke-width="0.9"/>
<text x="166.40" y="475.72" font-size="7.7" text-anchor="end">3</text>
<line x1="168.00" y1="457.60" x2="170.40" y2="457.60" stroke="#111" stroke-width="0.9"/>
<text x="166.40" y="460.37" font-size="7.7" text-anchor="end">4</text>
<text x="166.00" y="527.50" font-size="7.7" text-anchor="end">Dox</text>
<text x="166.00" y="536.80" font-size="7.7" text-anchor="end">INN</text>
<text x="181.20" y="527.16" font-size="7.2" text-anchor="middle" class="sg">–</text>
<text x="197.40" y="528.02" font-size="7.2" text-anchor="middle" class="sg">+</text>
<text x="214.00" y="527.16" font-size="7.2" text-anchor="middle" class="sg">–</text>
<text x="230.10" y="528.02" font-size="7.2" text-anchor="middle" class="sg">+</text>
<text x="181.20" y="536.76" font-size="7.2" text-anchor="middle" class="sg">–</text>
<text x="197.40" y="536.76" font-size="7.2" text-anchor="middle" class="sg">–</text>
<text x="214.00" y="537.62" font-size="7.2" text-anchor="middle" class="sg">+</text>
<text x="230.10" y="537.62" font-size="7.2" text-anchor="middle" class="sg">+</text>
<line x1="179.80" y1="542.80" x2="230.40" y2="542.80" stroke="#111" stroke-width="1.4"/>
<text x="204.80" y="554.40" font-size="7.7" text-anchor="middle">MDA-MB-231.</text>
<text x="204.80" y="563.40" font-size="7.7" text-anchor="middle">shMILIP.1 xenografts</text>
<line x1="182.30" y1="451.10" x2="216.20" y2="451.10" stroke="#111" stroke-width="0.9"/>
<text x="183.10" y="448.60" font-size="7.7"><tspan font-style="italic">P</tspan> &lt; 0.0001</text>
<line x1="181.50" y1="463.40" x2="197.70" y2="463.40" stroke="#111" stroke-width="0.9"/>
<text x="175.40" y="460.80" font-size="7.7"><tspan font-style="italic">P</tspan> &lt; 0.0001</text>
<line x1="214.60" y1="488.60" x2="230.80" y2="488.60" stroke="#111" stroke-width="0.9"/>
<text x="206.20" y="486.00" font-size="7.7"><tspan font-style="italic">P</tspan> &lt; 0.0001</text>
<text x="260.50" y="442.50" font-size="12.2" font-weight="bold" fill="#000">I</text>
<text x="344.60" y="440.90" font-size="7.7" text-anchor="middle">MDA-MB-231.shMILIP.1</text>
<line x1="300.40" y1="443.60" x2="386.80" y2="443.60" stroke="#111" stroke-width="1.0"/>
<text x="317.00" y="451.80" font-size="7.7" text-anchor="middle">–Dox</text>
<text x="370.50" y="451.80" font-size="7.7" text-anchor="middle">+Dox</text>
<text x="275.00" y="485.30" font-size="7.7" text-anchor="middle">–INN</text>
<text x="275.00" y="541.90" font-size="7.7" text-anchor="middle">+INN</text>
<text x="416.00" y="485.00" font-size="7.7" text-anchor="middle" transform="rotate(-90 416.00 485.00)">TUNEL-positive</text>
<text x="425.00" y="485.00" font-size="7.7" text-anchor="middle" transform="rotate(-90 425.00 485.00)">cells (IRS)</text>
<rect x="451.50" y="510.60" width="10.80" height="5.20" fill="#A8D4FA"/>
<line x1="456.90" y1="509.99" x2="456.90" y2="511.21" stroke="#111" stroke-width="1.0"/>
<line x1="455.20" y1="509.99" x2="458.60" y2="509.99" stroke="#111" stroke-width="1.1"/>
<line x1="455.20" y1="511.21" x2="458.60" y2="511.21" stroke="#111" stroke-width="1.1"/>
<circle cx="454.40" cy="510.60" r="1.05" fill="#111"/>
<circle cx="459.40" cy="510.60" r="1.05" fill="#111"/>
<circle cx="456.90" cy="509.68" r="1.05" fill="#111"/>
<circle cx="455.90" cy="510.90" r="1.05" fill="#111"/>
<circle cx="458.10" cy="510.29" r="1.05" fill="#111"/>
<rect x="467.70" y="497.75" width="10.80" height="18.05" fill="#A8D4FA"/>
<line x1="473.10" y1="494.69" x2="473.10" y2="500.81" stroke="#111" stroke-width="1.0"/>
<line x1="471.40" y1="494.69" x2="474.80" y2="494.69" stroke="#111" stroke-width="1.1"/>
<line x1="471.40" y1="500.81" x2="474.80" y2="500.81" stroke="#111" stroke-width="1.1"/>
<circle cx="470.60" cy="498.05" r="1.05" fill="#111"/>
<circle cx="475.60" cy="498.97" r="1.05" fill="#111"/>
<circle cx="473.10" cy="493.77" r="1.05" fill="#111"/>
<circle cx="472.10" cy="496.83" r="1.05" fill="#111"/>
<circle cx="474.30" cy="497.44" r="1.05" fill="#111"/>
<rect x="483.80" y="492.24" width="10.80" height="23.56" fill="#A8D4FA"/>
<line x1="489.20" y1="489.18" x2="489.20" y2="495.30" stroke="#111" stroke-width="1.0"/>
<line x1="487.50" y1="489.18" x2="490.90" y2="489.18" stroke="#111" stroke-width="1.1"/>
<line x1="487.50" y1="495.30" x2="490.90" y2="495.30" stroke="#111" stroke-width="1.1"/>
<circle cx="487.70" cy="490.71" r="1.05" fill="#111"/>
<circle cx="490.70" cy="489.79" r="1.05" fill="#111"/>
<circle cx="489.20" cy="488.26" r="1.05" fill="#111"/>
<circle cx="488.20" cy="492.85" r="1.05" fill="#111"/>
<circle cx="490.40" cy="494.38" r="1.05" fill="#111"/>
<rect x="500.30" y="467.76" width="10.80" height="48.04" fill="#A8D4FA"/>
<line x1="505.70" y1="465.31" x2="505.70" y2="470.21" stroke="#111" stroke-width="1.0"/>
<line x1="504.00" y1="465.31" x2="507.40" y2="465.31" stroke="#111" stroke-width="1.1"/>
<line x1="504.00" y1="470.21" x2="507.40" y2="470.21" stroke="#111" stroke-width="1.1"/>
<circle cx="503.20" cy="468.37" r="1.05" fill="#111"/>
<circle cx="508.20" cy="467.45" r="1.05" fill="#111"/>
<circle cx="505.70" cy="465.31" r="1.05" fill="#111"/>
<circle cx="504.70" cy="466.84" r="1.05" fill="#111"/>
<circle cx="506.90" cy="467.76" r="1.05" fill="#111"/>
<line x1="446.60" y1="454.20" x2="446.60" y2="516.30" stroke="#111" stroke-width="1.25"/>
<line x1="446.00" y1="515.80" x2="517.00" y2="515.80" stroke="#111" stroke-width="1.5"/>
<line x1="444.20" y1="515.80" x2="446.60" y2="515.80" stroke="#111" stroke-width="0.9"/>
<text x="442.60" y="518.57" font-size="7.7" text-anchor="end">0.0</text>
<line x1="444.20" y1="500.50" x2="446.60" y2="500.50" stroke="#111" stroke-width="0.9"/>
<text x="442.60" y="503.27" font-size="7.7" text-anchor="end">0.5</text>
<line x1="444.20" y1="485.20" x2="446.60" y2="485.20" stroke="#111" stroke-width="0.9"/>
<text x="442.60" y="487.97" font-size="7.7" text-anchor="end">1.0</text>
<line x1="444.20" y1="469.90" x2="446.60" y2="469.90" stroke="#111" stroke-width="0.9"/>
<text x="442.60" y="472.67" font-size="7.7" text-anchor="end">1.5</text>
<line x1="444.20" y1="454.60" x2="446.60" y2="454.60" stroke="#111" stroke-width="0.9"/>
<text x="442.60" y="457.37" font-size="7.7" text-anchor="end">2.0</text>
<text x="441.00" y="527.50" font-size="7.7" text-anchor="end">Dox</text>
<text x="441.00" y="536.80" font-size="7.7" text-anchor="end">INN</text>
<text x="457.50" y="527.56" font-size="7.2" text-anchor="middle" class="sg">–</text>
<text x="472.30" y="528.42" font-size="7.2" text-anchor="middle" class="sg">+</text>
<text x="488.30" y="527.56" font-size="7.2" text-anchor="middle" class="sg">–</text>
<text x="504.20" y="528.42" font-size="7.2" text-anchor="middle" class="sg">+</text>
<text x="457.50" y="536.76" font-size="7.2" text-anchor="middle" class="sg">–</text>
<text x="472.30" y="536.76" font-size="7.2" text-anchor="middle" class="sg">–</text>
<text x="488.30" y="537.62" font-size="7.2" text-anchor="middle" class="sg">+</text>
<text x="504.20" y="537.62" font-size="7.2" text-anchor="middle" class="sg">+</text>
<line x1="455.60" y1="542.80" x2="505.60" y2="542.80" stroke="#111" stroke-width="1.4"/>
<text x="480.50" y="554.40" font-size="7.7" text-anchor="middle">MDA-MB-231.</text>
<text x="479.60" y="563.50" font-size="7.7" text-anchor="middle">shMILIP.1 xenografts</text>
<line x1="488.50" y1="456.20" x2="504.60" y2="456.20" stroke="#111" stroke-width="0.9"/>
<text x="476.60" y="453.00" font-size="7.7"><tspan font-style="italic">P</tspan> &lt; 0.0001</text>
<line x1="457.00" y1="472.60" x2="487.00" y2="472.60" stroke="#111" stroke-width="0.9"/>
<text x="452.30" y="469.50" font-size="7.7"><tspan font-style="italic">P</tspan> &lt; 0.0001</text>
<line x1="456.60" y1="485.00" x2="472.60" y2="485.00" stroke="#111" stroke-width="0.9"/>
<text x="450.50" y="481.50" font-size="7.7"><tspan font-style="italic">P</tspan> &lt; 0.0001</text>
</svg>
</body></html>
